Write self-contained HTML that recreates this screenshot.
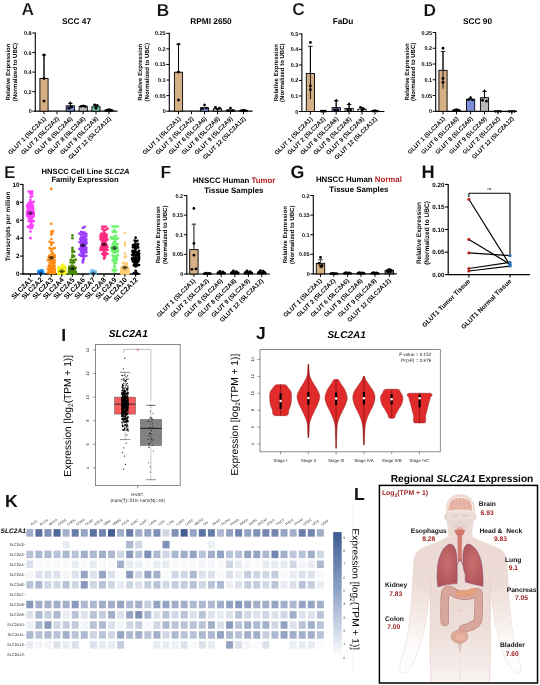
<!DOCTYPE html>
<html><head><meta charset="utf-8"><style>
html,body{margin:0;padding:0;background:#fff;}
svg{display:block;font-family:'Liberation Sans', Arial, sans-serif;text-rendering:geometricPrecision;}
</style></head><body>
<svg width="540" height="685" viewBox="0 0 540 685">
<rect width="540" height="685" fill="#fff"/>
<text x="21.50" y="15.30" font-size="17.3" font-weight="bold" font-style="normal" text-anchor="start" fill="#111" stroke="#fff" stroke-width="0.22">A</text>
<text x="76.50" y="24.00" font-size="8.3" font-weight="bold" font-style="normal" text-anchor="middle" fill="#000">SCC 47</text>
<line x1="35.30" y1="32.50" x2="35.30" y2="111.80" stroke="#000" stroke-width="1.1"/>
<line x1="32.30" y1="111.20" x2="35.30" y2="111.20" stroke="#000" stroke-width="1.0"/>
<text x="31.70" y="113.20" font-size="5.5" font-weight="bold" font-style="normal" text-anchor="end" fill="#000">0</text>
<line x1="32.30" y1="91.65" x2="35.30" y2="91.65" stroke="#000" stroke-width="1.0"/>
<text x="31.70" y="93.65" font-size="5.5" font-weight="bold" font-style="normal" text-anchor="end" fill="#000">0.2</text>
<line x1="32.30" y1="72.10" x2="35.30" y2="72.10" stroke="#000" stroke-width="1.0"/>
<text x="31.70" y="74.10" font-size="5.5" font-weight="bold" font-style="normal" text-anchor="end" fill="#000">0.4</text>
<line x1="32.30" y1="52.55" x2="35.30" y2="52.55" stroke="#000" stroke-width="1.0"/>
<text x="31.70" y="54.55" font-size="5.5" font-weight="bold" font-style="normal" text-anchor="end" fill="#000">0.6</text>
<line x1="32.30" y1="33.00" x2="35.30" y2="33.00" stroke="#000" stroke-width="1.0"/>
<text x="31.70" y="35.00" font-size="5.5" font-weight="bold" font-style="normal" text-anchor="end" fill="#000">0.8</text>
<line x1="34.80" y1="111.20" x2="117.50" y2="111.20" stroke="#000" stroke-width="1.2"/>
<text x="10.30" y="72.10" font-size="6.0" font-weight="bold" font-style="normal" text-anchor="middle" fill="#000" transform="rotate(-90 10.30 72.10)">Relative Expression</text>
<text x="16.80" y="72.10" font-size="6.0" font-weight="bold" font-style="normal" text-anchor="middle" fill="#000" transform="rotate(-90 16.80 72.10)">(Normalized to UBC)</text>
<line x1="44.00" y1="111.20" x2="44.00" y2="114.20" stroke="#000" stroke-width="1.0"/>
<text x="46.50" y="119.10" font-size="6.1" font-weight="bold" font-style="normal" text-anchor="end" fill="#000" transform="rotate(-45 46.50 119.10)">GLUT 1 (SLC2A1)</text>
<line x1="44.00" y1="54.99" x2="44.00" y2="78.45" stroke="#000" stroke-width="0.9"/>
<line x1="41.80" y1="54.99" x2="46.20" y2="54.99" stroke="#000" stroke-width="0.9"/>
<line x1="41.80" y1="78.45" x2="46.20" y2="78.45" stroke="#000" stroke-width="0.9"/>
<rect x="39.90" y="78.45" width="8.20" height="32.75" fill="#d5b085" stroke="#000" stroke-width="0.9"/>
<line x1="44.00" y1="54.99" x2="44.00" y2="78.45" stroke="#000" stroke-width="0.9"/>
<path d="M44.00 53.29 L45.70 54.99 L44.00 56.69 L42.30 54.99Z" fill="#000"/>
<path d="M44.00 76.75 L45.70 78.45 L44.00 80.15 L42.30 78.45Z" fill="#000"/>
<path d="M44.00 99.24 L45.70 100.94 L44.00 102.64 L42.30 100.94Z" fill="#000"/>
<line x1="57.00" y1="111.20" x2="57.00" y2="114.20" stroke="#000" stroke-width="1.0"/>
<text x="59.50" y="119.10" font-size="6.1" font-weight="bold" font-style="normal" text-anchor="end" fill="#000" transform="rotate(-45 59.50 119.10)">GLUT 2 (SLC2A2)</text>
<line x1="70.30" y1="111.20" x2="70.30" y2="114.20" stroke="#000" stroke-width="1.0"/>
<text x="72.80" y="119.10" font-size="6.1" font-weight="bold" font-style="normal" text-anchor="end" fill="#000" transform="rotate(-45 72.80 119.10)">GLUT 6 (SLC2A6)</text>
<line x1="70.30" y1="103.38" x2="70.30" y2="109.25" stroke="#000" stroke-width="0.9"/>
<line x1="68.10" y1="103.38" x2="72.50" y2="103.38" stroke="#000" stroke-width="0.9"/>
<line x1="68.10" y1="109.25" x2="72.50" y2="109.25" stroke="#000" stroke-width="0.9"/>
<rect x="66.20" y="105.82" width="8.20" height="5.38" fill="#7b8ed6" stroke="#000" stroke-width="0.9"/>
<line x1="70.30" y1="103.38" x2="70.30" y2="109.25" stroke="#000" stroke-width="0.9"/>
<path d="M70.30 101.09 L72.00 104.09 L68.60 104.09Z" fill="#000"/>
<circle cx="68.80" cy="108.27" r="1.40" fill="#000"/>
<circle cx="71.80" cy="106.80" r="1.40" fill="#000"/>
<line x1="83.20" y1="111.20" x2="83.20" y2="114.20" stroke="#000" stroke-width="1.0"/>
<text x="85.70" y="119.10" font-size="6.1" font-weight="bold" font-style="normal" text-anchor="end" fill="#000" transform="rotate(-45 85.70 119.10)">GLUT 8 (SLC2A8)</text>
<line x1="83.20" y1="105.53" x2="83.20" y2="107.29" stroke="#000" stroke-width="0.9"/>
<line x1="81.00" y1="105.53" x2="85.40" y2="105.53" stroke="#000" stroke-width="0.9"/>
<line x1="81.00" y1="107.29" x2="85.40" y2="107.29" stroke="#000" stroke-width="0.9"/>
<rect x="79.10" y="106.31" width="8.20" height="4.89" fill="#b8b8b8" stroke="#000" stroke-width="0.9"/>
<line x1="83.20" y1="105.53" x2="83.20" y2="107.29" stroke="#000" stroke-width="0.9"/>
<path d="M83.20 104.02 L84.90 107.02 L81.50 107.02Z" fill="#000"/>
<circle cx="81.20" cy="106.31" r="1.40" fill="#000"/>
<circle cx="85.20" cy="106.51" r="1.40" fill="#000"/>
<line x1="96.00" y1="111.20" x2="96.00" y2="114.20" stroke="#000" stroke-width="1.0"/>
<text x="98.50" y="119.10" font-size="6.1" font-weight="bold" font-style="normal" text-anchor="end" fill="#000" transform="rotate(-45 98.50 119.10)">GLUT 9 (SLC2A9)</text>
<line x1="96.00" y1="104.85" x2="96.00" y2="108.27" stroke="#000" stroke-width="0.9"/>
<line x1="93.80" y1="104.85" x2="98.20" y2="104.85" stroke="#000" stroke-width="0.9"/>
<line x1="93.80" y1="108.27" x2="98.20" y2="108.27" stroke="#000" stroke-width="0.9"/>
<rect x="91.90" y="106.80" width="8.20" height="4.40" fill="#74caa0" stroke="#000" stroke-width="0.9"/>
<line x1="96.00" y1="104.85" x2="96.00" y2="108.27" stroke="#000" stroke-width="0.9"/>
<circle cx="94.50" cy="104.85" r="1.40" fill="#000"/>
<path d="M97.50 103.54 L99.20 106.54 L95.80 106.54Z" fill="#000"/>
<circle cx="96.00" cy="108.27" r="1.40" fill="#000"/>
<line x1="109.00" y1="111.20" x2="109.00" y2="114.20" stroke="#000" stroke-width="1.0"/>
<text x="111.50" y="119.10" font-size="6.1" font-weight="bold" font-style="normal" text-anchor="end" fill="#000" transform="rotate(-45 111.50 119.10)">GLUT 12 (SLC2A12)</text>
<rect x="104.90" y="110.03" width="8.20" height="1.17" fill="#555" stroke="#000" stroke-width="0.9"/>
<circle cx="107.00" cy="110.22" r="1.40" fill="#000"/>
<circle cx="109.00" cy="109.73" r="1.40" fill="#000"/>
<circle cx="111.00" cy="110.03" r="1.40" fill="#000"/>
<text x="156.80" y="15.50" font-size="17.3" font-weight="bold" font-style="normal" text-anchor="start" fill="#111" stroke="#fff" stroke-width="0.22">B</text>
<text x="211.00" y="24.00" font-size="8.3" font-weight="bold" font-style="normal" text-anchor="middle" fill="#000">RPMI 2650</text>
<line x1="169.30" y1="32.80" x2="169.30" y2="111.80" stroke="#000" stroke-width="1.1"/>
<line x1="166.30" y1="111.20" x2="169.30" y2="111.20" stroke="#000" stroke-width="1.0"/>
<text x="165.70" y="113.20" font-size="5.5" font-weight="bold" font-style="normal" text-anchor="end" fill="#000">0</text>
<line x1="166.30" y1="95.62" x2="169.30" y2="95.62" stroke="#000" stroke-width="1.0"/>
<text x="165.70" y="97.62" font-size="5.5" font-weight="bold" font-style="normal" text-anchor="end" fill="#000">0.05</text>
<line x1="166.30" y1="80.04" x2="169.30" y2="80.04" stroke="#000" stroke-width="1.0"/>
<text x="165.70" y="82.04" font-size="5.5" font-weight="bold" font-style="normal" text-anchor="end" fill="#000">0.1</text>
<line x1="166.30" y1="64.46" x2="169.30" y2="64.46" stroke="#000" stroke-width="1.0"/>
<text x="165.70" y="66.46" font-size="5.5" font-weight="bold" font-style="normal" text-anchor="end" fill="#000">0.15</text>
<line x1="166.30" y1="48.88" x2="169.30" y2="48.88" stroke="#000" stroke-width="1.0"/>
<text x="165.70" y="50.88" font-size="5.5" font-weight="bold" font-style="normal" text-anchor="end" fill="#000">0.2</text>
<line x1="166.30" y1="33.30" x2="169.30" y2="33.30" stroke="#000" stroke-width="1.0"/>
<text x="165.70" y="35.30" font-size="5.5" font-weight="bold" font-style="normal" text-anchor="end" fill="#000">0.25</text>
<line x1="168.80" y1="111.20" x2="252.60" y2="111.20" stroke="#000" stroke-width="1.2"/>
<text x="142.00" y="72.25" font-size="6.0" font-weight="bold" font-style="normal" text-anchor="middle" fill="#000" transform="rotate(-90 142.00 72.25)">Relative Expression</text>
<text x="148.80" y="72.25" font-size="6.0" font-weight="bold" font-style="normal" text-anchor="middle" fill="#000" transform="rotate(-90 148.80 72.25)">(Normalized to UBC)</text>
<line x1="178.50" y1="111.20" x2="178.50" y2="114.20" stroke="#000" stroke-width="1.0"/>
<text x="181.00" y="119.10" font-size="6.1" font-weight="bold" font-style="normal" text-anchor="end" fill="#000" transform="rotate(-45 181.00 119.10)">GLUT 1 (SLC2A1)</text>
<line x1="178.50" y1="44.21" x2="178.50" y2="72.25" stroke="#000" stroke-width="0.9"/>
<line x1="176.30" y1="44.21" x2="180.70" y2="44.21" stroke="#000" stroke-width="0.9"/>
<line x1="176.30" y1="72.25" x2="180.70" y2="72.25" stroke="#000" stroke-width="0.9"/>
<rect x="174.40" y="72.25" width="8.20" height="38.95" fill="#d5b085" stroke="#000" stroke-width="0.9"/>
<line x1="178.50" y1="44.21" x2="178.50" y2="72.25" stroke="#000" stroke-width="0.9"/>
<path d="M178.50 42.51 L180.20 44.21 L178.50 45.91 L176.80 44.21Z" fill="#000"/>
<path d="M178.50 70.24 L180.20 71.94 L178.50 73.64 L176.80 71.94Z" fill="#000"/>
<path d="M178.50 98.28 L180.20 99.98 L178.50 101.68 L176.80 99.98Z" fill="#000"/>
<line x1="191.50" y1="111.20" x2="191.50" y2="114.20" stroke="#000" stroke-width="1.0"/>
<text x="194.00" y="119.10" font-size="6.1" font-weight="bold" font-style="normal" text-anchor="end" fill="#000" transform="rotate(-45 194.00 119.10)">GLUT 2 (SLC2A2)</text>
<line x1="204.50" y1="111.20" x2="204.50" y2="114.20" stroke="#000" stroke-width="1.0"/>
<text x="207.00" y="119.10" font-size="6.1" font-weight="bold" font-style="normal" text-anchor="end" fill="#000" transform="rotate(-45 207.00 119.10)">GLUT 6 (SLC2A6)</text>
<rect x="200.40" y="107.77" width="8.20" height="3.43" fill="#7b8ed6" stroke="#000" stroke-width="0.9"/>
<path d="M204.50 103.27 L206.20 104.97 L204.50 106.67 L202.80 104.97Z" fill="#000"/>
<circle cx="202.50" cy="108.71" r="1.40" fill="#000"/>
<circle cx="206.50" cy="108.08" r="1.40" fill="#000"/>
<line x1="217.50" y1="111.20" x2="217.50" y2="114.20" stroke="#000" stroke-width="1.0"/>
<text x="220.00" y="119.10" font-size="6.1" font-weight="bold" font-style="normal" text-anchor="end" fill="#000" transform="rotate(-45 220.00 119.10)">GLUT 8 (SLC2A8)</text>
<rect x="213.40" y="108.71" width="8.20" height="2.49" fill="#b8b8b8" stroke="#000" stroke-width="0.9"/>
<circle cx="215.50" cy="107.46" r="1.40" fill="#000"/>
<circle cx="217.50" cy="109.33" r="1.40" fill="#000"/>
<circle cx="219.50" cy="108.08" r="1.40" fill="#000"/>
<line x1="230.50" y1="111.20" x2="230.50" y2="114.20" stroke="#000" stroke-width="1.0"/>
<text x="233.00" y="119.10" font-size="6.1" font-weight="bold" font-style="normal" text-anchor="end" fill="#000" transform="rotate(-45 233.00 119.10)">GLUT 9 (SLC2A9)</text>
<rect x="226.40" y="109.95" width="8.20" height="1.25" fill="#74caa0" stroke="#000" stroke-width="0.9"/>
<circle cx="230.50" cy="108.08" r="1.40" fill="#000"/>
<circle cx="228.50" cy="110.58" r="1.40" fill="#000"/>
<circle cx="232.50" cy="110.58" r="1.40" fill="#000"/>
<line x1="243.50" y1="111.20" x2="243.50" y2="114.20" stroke="#000" stroke-width="1.0"/>
<text x="246.00" y="119.10" font-size="6.1" font-weight="bold" font-style="normal" text-anchor="end" fill="#000" transform="rotate(-45 246.00 119.10)">GLUT 12 (SLC2A12)</text>
<rect x="239.40" y="110.58" width="8.20" height="0.62" fill="#555" stroke="#000" stroke-width="0.9"/>
<circle cx="241.50" cy="110.58" r="1.40" fill="#000"/>
<circle cx="243.50" cy="110.27" r="1.40" fill="#000"/>
<circle cx="245.50" cy="110.58" r="1.40" fill="#000"/>
<text x="292.20" y="15.40" font-size="17.3" font-weight="bold" font-style="normal" text-anchor="start" fill="#111" stroke="#fff" stroke-width="0.22">C</text>
<text x="343.00" y="24.00" font-size="8.3" font-weight="bold" font-style="normal" text-anchor="middle" fill="#000">FaDu</text>
<line x1="301.90" y1="33.40" x2="301.90" y2="112.10" stroke="#000" stroke-width="1.1"/>
<line x1="298.90" y1="111.50" x2="301.90" y2="111.50" stroke="#000" stroke-width="1.0"/>
<text x="298.30" y="113.50" font-size="5.5" font-weight="bold" font-style="normal" text-anchor="end" fill="#000">0</text>
<line x1="298.90" y1="95.98" x2="301.90" y2="95.98" stroke="#000" stroke-width="1.0"/>
<text x="298.30" y="97.98" font-size="5.5" font-weight="bold" font-style="normal" text-anchor="end" fill="#000">0.1</text>
<line x1="298.90" y1="80.46" x2="301.90" y2="80.46" stroke="#000" stroke-width="1.0"/>
<text x="298.30" y="82.46" font-size="5.5" font-weight="bold" font-style="normal" text-anchor="end" fill="#000">0.2</text>
<line x1="298.90" y1="64.94" x2="301.90" y2="64.94" stroke="#000" stroke-width="1.0"/>
<text x="298.30" y="66.94" font-size="5.5" font-weight="bold" font-style="normal" text-anchor="end" fill="#000">0.3</text>
<line x1="298.90" y1="49.42" x2="301.90" y2="49.42" stroke="#000" stroke-width="1.0"/>
<text x="298.30" y="51.42" font-size="5.5" font-weight="bold" font-style="normal" text-anchor="end" fill="#000">0.4</text>
<line x1="298.90" y1="33.90" x2="301.90" y2="33.90" stroke="#000" stroke-width="1.0"/>
<text x="298.30" y="35.90" font-size="5.5" font-weight="bold" font-style="normal" text-anchor="end" fill="#000">0.5</text>
<line x1="301.40" y1="111.50" x2="384.40" y2="111.50" stroke="#000" stroke-width="1.2"/>
<text x="278.20" y="72.70" font-size="6.0" font-weight="bold" font-style="normal" text-anchor="middle" fill="#000" transform="rotate(-90 278.20 72.70)">Relative Expression</text>
<text x="284.30" y="72.70" font-size="6.0" font-weight="bold" font-style="normal" text-anchor="middle" fill="#000" transform="rotate(-90 284.30 72.70)">(Normalized to UBC)</text>
<line x1="310.40" y1="111.50" x2="310.40" y2="114.50" stroke="#000" stroke-width="1.0"/>
<text x="312.90" y="119.40" font-size="6.1" font-weight="bold" font-style="normal" text-anchor="end" fill="#000" transform="rotate(-45 312.90 119.40)">GLUT 1 (SLC2A1)</text>
<line x1="310.40" y1="46.32" x2="310.40" y2="99.08" stroke="#000" stroke-width="0.9"/>
<line x1="308.20" y1="46.32" x2="312.60" y2="46.32" stroke="#000" stroke-width="0.9"/>
<line x1="308.20" y1="99.08" x2="312.60" y2="99.08" stroke="#000" stroke-width="0.9"/>
<rect x="306.30" y="73.48" width="8.20" height="38.02" fill="#d5b085" stroke="#000" stroke-width="0.9"/>
<line x1="310.40" y1="46.32" x2="310.40" y2="99.08" stroke="#000" stroke-width="0.9"/>
<circle cx="310.40" cy="42.44" r="1.40" fill="#000"/>
<circle cx="310.40" cy="85.89" r="1.40" fill="#000"/>
<circle cx="310.40" cy="89.77" r="1.40" fill="#000"/>
<line x1="323.30" y1="111.50" x2="323.30" y2="114.50" stroke="#000" stroke-width="1.0"/>
<text x="325.80" y="119.40" font-size="6.1" font-weight="bold" font-style="normal" text-anchor="end" fill="#000" transform="rotate(-45 325.80 119.40)">GLUT 2 (SLC2A2)</text>
<circle cx="321.30" cy="111.19" r="1.40" fill="#000"/>
<circle cx="323.30" cy="111.19" r="1.40" fill="#000"/>
<circle cx="325.30" cy="111.19" r="1.40" fill="#000"/>
<line x1="336.20" y1="111.50" x2="336.20" y2="114.50" stroke="#000" stroke-width="1.0"/>
<text x="338.70" y="119.40" font-size="6.1" font-weight="bold" font-style="normal" text-anchor="end" fill="#000" transform="rotate(-45 338.70 119.40)">GLUT 6 (SLC2A6)</text>
<line x1="336.20" y1="100.64" x2="336.20" y2="111.50" stroke="#000" stroke-width="0.9"/>
<line x1="334.00" y1="100.64" x2="338.40" y2="100.64" stroke="#000" stroke-width="0.9"/>
<rect x="332.10" y="107.62" width="8.20" height="3.88" fill="#7b8ed6" stroke="#000" stroke-width="0.9"/>
<line x1="336.20" y1="100.64" x2="336.20" y2="111.50" stroke="#000" stroke-width="0.9"/>
<path d="M336.20 98.53 L337.90 101.53 L334.50 101.53Z" fill="#000"/>
<circle cx="334.70" cy="109.95" r="1.40" fill="#000"/>
<circle cx="337.70" cy="109.95" r="1.40" fill="#000"/>
<line x1="349.10" y1="111.50" x2="349.10" y2="114.50" stroke="#000" stroke-width="1.0"/>
<text x="351.60" y="119.40" font-size="6.1" font-weight="bold" font-style="normal" text-anchor="end" fill="#000" transform="rotate(-45 351.60 119.40)">GLUT 8 (SLC2A8)</text>
<line x1="349.10" y1="104.52" x2="349.10" y2="111.50" stroke="#000" stroke-width="0.9"/>
<line x1="346.90" y1="104.52" x2="351.30" y2="104.52" stroke="#000" stroke-width="0.9"/>
<rect x="345.00" y="108.40" width="8.20" height="3.10" fill="#fff" stroke="#000" stroke-width="0.9"/>
<line x1="349.10" y1="104.52" x2="349.10" y2="111.50" stroke="#000" stroke-width="0.9"/>
<path d="M349.10 101.94 L350.80 104.94 L347.40 104.94Z" fill="#000"/>
<circle cx="347.60" cy="109.95" r="1.40" fill="#000"/>
<circle cx="350.60" cy="109.95" r="1.40" fill="#000"/>
<line x1="362.00" y1="111.50" x2="362.00" y2="114.50" stroke="#000" stroke-width="1.0"/>
<text x="364.50" y="119.40" font-size="6.1" font-weight="bold" font-style="normal" text-anchor="end" fill="#000" transform="rotate(-45 364.50 119.40)">GLUT 9 (SLC2A9)</text>
<line x1="362.00" y1="107.62" x2="362.00" y2="111.50" stroke="#000" stroke-width="0.9"/>
<line x1="359.80" y1="107.62" x2="364.20" y2="107.62" stroke="#000" stroke-width="0.9"/>
<rect x="357.90" y="109.17" width="8.20" height="2.33" fill="#fff" stroke="#000" stroke-width="0.9"/>
<line x1="362.00" y1="107.62" x2="362.00" y2="111.50" stroke="#000" stroke-width="0.9"/>
<circle cx="360.50" cy="107.31" r="1.40" fill="#000"/>
<circle cx="363.50" cy="109.17" r="1.40" fill="#000"/>
<circle cx="362.00" cy="110.72" r="1.40" fill="#000"/>
<line x1="375.00" y1="111.50" x2="375.00" y2="114.50" stroke="#000" stroke-width="1.0"/>
<text x="377.50" y="119.40" font-size="6.1" font-weight="bold" font-style="normal" text-anchor="end" fill="#000" transform="rotate(-45 377.50 119.40)">GLUT 12 (SLC2A12)</text>
<rect x="370.90" y="111.03" width="8.20" height="0.47" fill="#555" stroke="#000" stroke-width="0.9"/>
<circle cx="373.00" cy="111.03" r="1.40" fill="#000"/>
<circle cx="375.00" cy="110.72" r="1.40" fill="#000"/>
<circle cx="377.00" cy="111.03" r="1.40" fill="#000"/>
<text x="423.50" y="15.50" font-size="17.3" font-weight="bold" font-style="normal" text-anchor="start" fill="#111" stroke="#fff" stroke-width="0.22">D</text>
<text x="477.50" y="24.00" font-size="8.3" font-weight="bold" font-style="normal" text-anchor="middle" fill="#000">SCC 90</text>
<line x1="435.70" y1="32.00" x2="435.70" y2="111.90" stroke="#000" stroke-width="1.1"/>
<line x1="432.70" y1="111.30" x2="435.70" y2="111.30" stroke="#000" stroke-width="1.0"/>
<text x="432.10" y="113.30" font-size="5.5" font-weight="bold" font-style="normal" text-anchor="end" fill="#000">0</text>
<line x1="432.70" y1="95.54" x2="435.70" y2="95.54" stroke="#000" stroke-width="1.0"/>
<text x="432.10" y="97.54" font-size="5.5" font-weight="bold" font-style="normal" text-anchor="end" fill="#000">0.05</text>
<line x1="432.70" y1="79.78" x2="435.70" y2="79.78" stroke="#000" stroke-width="1.0"/>
<text x="432.10" y="81.78" font-size="5.5" font-weight="bold" font-style="normal" text-anchor="end" fill="#000">0.1</text>
<line x1="432.70" y1="64.02" x2="435.70" y2="64.02" stroke="#000" stroke-width="1.0"/>
<text x="432.10" y="66.02" font-size="5.5" font-weight="bold" font-style="normal" text-anchor="end" fill="#000">0.15</text>
<line x1="432.70" y1="48.26" x2="435.70" y2="48.26" stroke="#000" stroke-width="1.0"/>
<text x="432.10" y="50.26" font-size="5.5" font-weight="bold" font-style="normal" text-anchor="end" fill="#000">0.2</text>
<line x1="432.70" y1="32.50" x2="435.70" y2="32.50" stroke="#000" stroke-width="1.0"/>
<text x="432.10" y="34.50" font-size="5.5" font-weight="bold" font-style="normal" text-anchor="end" fill="#000">0.25</text>
<line x1="435.20" y1="111.30" x2="517.00" y2="111.30" stroke="#000" stroke-width="1.2"/>
<text x="408.70" y="71.90" font-size="6.0" font-weight="bold" font-style="normal" text-anchor="middle" fill="#000" transform="rotate(-90 408.70 71.90)">Relative Expression</text>
<text x="415.50" y="71.90" font-size="6.0" font-weight="bold" font-style="normal" text-anchor="middle" fill="#000" transform="rotate(-90 415.50 71.90)">(Normalized to UBC)</text>
<line x1="443.00" y1="111.30" x2="443.00" y2="114.30" stroke="#000" stroke-width="1.0"/>
<text x="445.50" y="119.20" font-size="6.0" font-weight="bold" font-style="normal" text-anchor="end" fill="#000" transform="rotate(-45 445.50 119.20)">GLUT 1 (SLC2A1)</text>
<line x1="443.00" y1="51.41" x2="443.00" y2="88.61" stroke="#000" stroke-width="0.9"/>
<line x1="440.80" y1="51.41" x2="445.20" y2="51.41" stroke="#000" stroke-width="0.9"/>
<line x1="440.80" y1="88.61" x2="445.20" y2="88.61" stroke="#000" stroke-width="0.9"/>
<rect x="438.90" y="70.32" width="8.20" height="40.98" fill="#d5b085" stroke="#000" stroke-width="0.9"/>
<line x1="443.00" y1="51.41" x2="443.00" y2="88.61" stroke="#000" stroke-width="0.9"/>
<circle cx="443.00" cy="48.26" r="1.40" fill="#000"/>
<circle cx="443.00" cy="78.52" r="1.40" fill="#000"/>
<circle cx="443.00" cy="82.30" r="1.40" fill="#000"/>
<line x1="456.50" y1="111.30" x2="456.50" y2="114.30" stroke="#000" stroke-width="1.0"/>
<text x="459.00" y="119.20" font-size="6.0" font-weight="bold" font-style="normal" text-anchor="end" fill="#000" transform="rotate(-45 459.00 119.20)">GLUT 6 (SLC2A6)</text>
<rect x="452.40" y="110.35" width="8.20" height="0.95" fill="#555" stroke="#000" stroke-width="0.9"/>
<circle cx="454.50" cy="110.04" r="1.40" fill="#000"/>
<circle cx="456.50" cy="109.72" r="1.40" fill="#000"/>
<circle cx="458.50" cy="110.04" r="1.40" fill="#000"/>
<line x1="470.60" y1="111.30" x2="470.60" y2="114.30" stroke="#000" stroke-width="1.0"/>
<text x="473.10" y="119.20" font-size="6.0" font-weight="bold" font-style="normal" text-anchor="end" fill="#000" transform="rotate(-45 473.10 119.20)">GLUT 8 (SLC2A8)</text>
<rect x="466.50" y="99.32" width="8.20" height="11.98" fill="#7b8ed6" stroke="#000" stroke-width="0.9"/>
<circle cx="470.60" cy="97.75" r="1.40" fill="#000"/>
<circle cx="468.60" cy="99.64" r="1.40" fill="#000"/>
<circle cx="472.60" cy="99.95" r="1.40" fill="#000"/>
<line x1="484.50" y1="111.30" x2="484.50" y2="114.30" stroke="#000" stroke-width="1.0"/>
<text x="487.00" y="119.20" font-size="6.0" font-weight="bold" font-style="normal" text-anchor="end" fill="#000" transform="rotate(-45 487.00 119.20)">GLUT 9 (SLC2A9)</text>
<line x1="484.50" y1="91.44" x2="484.50" y2="97.75" stroke="#000" stroke-width="0.9"/>
<line x1="482.30" y1="91.44" x2="486.70" y2="91.44" stroke="#000" stroke-width="0.9"/>
<line x1="482.30" y1="97.75" x2="486.70" y2="97.75" stroke="#000" stroke-width="0.9"/>
<rect x="480.40" y="97.75" width="8.20" height="13.55" fill="#b8b8b8" stroke="#000" stroke-width="0.9"/>
<line x1="484.50" y1="91.44" x2="484.50" y2="97.75" stroke="#000" stroke-width="0.9"/>
<path d="M484.50 89.01 L486.20 92.01 L482.80 92.01Z" fill="#000"/>
<circle cx="482.50" cy="100.27" r="1.40" fill="#000"/>
<circle cx="486.50" cy="101.21" r="1.40" fill="#000"/>
<line x1="498.00" y1="111.30" x2="498.00" y2="114.30" stroke="#000" stroke-width="1.0"/>
<text x="500.50" y="119.20" font-size="6.0" font-weight="bold" font-style="normal" text-anchor="end" fill="#000" transform="rotate(-45 500.50 119.20)">GLUT 2 (SLC2A2)</text>
<circle cx="495.50" cy="111.30" r="1.40" fill="#000"/>
<circle cx="498.00" cy="111.30" r="1.40" fill="#000"/>
<circle cx="500.50" cy="111.30" r="1.40" fill="#000"/>
<line x1="511.80" y1="111.30" x2="511.80" y2="114.30" stroke="#000" stroke-width="1.0"/>
<text x="514.30" y="119.20" font-size="6.0" font-weight="bold" font-style="normal" text-anchor="end" fill="#000" transform="rotate(-45 514.30 119.20)">GLUT 12 (SLC2A12)</text>
<circle cx="509.30" cy="111.30" r="1.40" fill="#000"/>
<circle cx="511.80" cy="111.30" r="1.40" fill="#000"/>
<circle cx="514.30" cy="111.30" r="1.40" fill="#000"/>
<text x="4.00" y="178.20" font-size="17.3" font-weight="bold" font-style="normal" text-anchor="start" fill="#111" stroke="#fff" stroke-width="0.22">E</text>
<text x="85.5" y="173.6" font-size="7.6" font-weight="bold" text-anchor="middle">HNSCC Cell Line <tspan font-style="italic">SLC2A</tspan></text>
<text x="85.00" y="182.40" font-size="7.6" font-weight="bold" font-style="normal" text-anchor="middle" fill="#000">Family Expression</text>
<line x1="23.00" y1="183.90" x2="23.00" y2="274.60" stroke="#000" stroke-width="1.2"/>
<line x1="20.00" y1="274.00" x2="23.00" y2="274.00" stroke="#000" stroke-width="1.1"/>
<text x="19.40" y="276.30" font-size="6.3" font-weight="bold" font-style="normal" text-anchor="end" fill="#000">0</text>
<line x1="20.00" y1="256.08" x2="23.00" y2="256.08" stroke="#000" stroke-width="1.1"/>
<text x="19.40" y="258.38" font-size="6.3" font-weight="bold" font-style="normal" text-anchor="end" fill="#000">2</text>
<line x1="20.00" y1="238.16" x2="23.00" y2="238.16" stroke="#000" stroke-width="1.1"/>
<text x="19.40" y="240.46" font-size="6.3" font-weight="bold" font-style="normal" text-anchor="end" fill="#000">4</text>
<line x1="20.00" y1="220.24" x2="23.00" y2="220.24" stroke="#000" stroke-width="1.1"/>
<text x="19.40" y="222.54" font-size="6.3" font-weight="bold" font-style="normal" text-anchor="end" fill="#000">6</text>
<line x1="20.00" y1="202.32" x2="23.00" y2="202.32" stroke="#000" stroke-width="1.1"/>
<text x="19.40" y="204.62" font-size="6.3" font-weight="bold" font-style="normal" text-anchor="end" fill="#000">8</text>
<line x1="20.00" y1="184.40" x2="23.00" y2="184.40" stroke="#000" stroke-width="1.1"/>
<text x="19.40" y="186.70" font-size="6.3" font-weight="bold" font-style="normal" text-anchor="end" fill="#000">10</text>
<line x1="22.50" y1="274.00" x2="140.50" y2="274.00" stroke="#000" stroke-width="1.3"/>
<text x="9.80" y="226.40" font-size="6.5" font-weight="bold" font-style="normal" text-anchor="middle" fill="#000" transform="rotate(-90 9.80 226.40)">Transcripts per million</text>
<circle cx="30.40" cy="238.16" r="1.35" fill="#ff3dff"/>
<circle cx="30.40" cy="231.51" r="1.35" fill="#ff3dff"/>
<circle cx="30.40" cy="228.26" r="1.35" fill="#ff3dff"/>
<circle cx="32.10" cy="227.70" r="1.35" fill="#ff3dff"/>
<circle cx="29.55" cy="226.77" r="1.35" fill="#ff3dff"/>
<circle cx="27.85" cy="226.71" r="1.35" fill="#ff3dff"/>
<circle cx="31.25" cy="226.39" r="1.35" fill="#ff3dff"/>
<circle cx="32.95" cy="225.60" r="1.35" fill="#ff3dff"/>
<circle cx="30.40" cy="224.80" r="1.35" fill="#ff3dff"/>
<circle cx="31.25" cy="223.44" r="1.35" fill="#ff3dff"/>
<circle cx="30.40" cy="221.44" r="1.35" fill="#ff3dff"/>
<circle cx="32.10" cy="221.16" r="1.35" fill="#ff3dff"/>
<circle cx="28.70" cy="221.11" r="1.35" fill="#ff3dff"/>
<circle cx="33.80" cy="221.09" r="1.35" fill="#ff3dff"/>
<circle cx="30.40" cy="219.28" r="1.35" fill="#ff3dff"/>
<circle cx="32.10" cy="218.36" r="1.35" fill="#ff3dff"/>
<circle cx="28.70" cy="218.28" r="1.35" fill="#ff3dff"/>
<circle cx="30.40" cy="216.96" r="1.35" fill="#ff3dff"/>
<circle cx="32.10" cy="216.63" r="1.35" fill="#ff3dff"/>
<circle cx="28.70" cy="216.05" r="1.35" fill="#ff3dff"/>
<circle cx="33.80" cy="216.04" r="1.35" fill="#ff3dff"/>
<circle cx="27.00" cy="215.90" r="1.35" fill="#ff3dff"/>
<circle cx="30.40" cy="214.84" r="1.35" fill="#ff3dff"/>
<circle cx="32.10" cy="214.35" r="1.35" fill="#ff3dff"/>
<circle cx="28.70" cy="214.12" r="1.35" fill="#ff3dff"/>
<circle cx="33.80" cy="214.03" r="1.35" fill="#ff3dff"/>
<circle cx="27.00" cy="213.75" r="1.35" fill="#ff3dff"/>
<circle cx="27.65" cy="213.56" r="1.35" fill="#ff3dff"/>
<circle cx="27.53" cy="213.54" r="1.35" fill="#ff3dff"/>
<circle cx="30.40" cy="213.05" r="1.35" fill="#ff3dff"/>
<circle cx="32.54" cy="212.94" r="1.35" fill="#ff3dff"/>
<circle cx="28.70" cy="212.09" r="1.35" fill="#ff3dff"/>
<circle cx="33.80" cy="212.01" r="1.35" fill="#ff3dff"/>
<circle cx="31.25" cy="211.62" r="1.35" fill="#ff3dff"/>
<circle cx="27.00" cy="211.57" r="1.35" fill="#ff3dff"/>
<circle cx="30.83" cy="210.64" r="1.35" fill="#ff3dff"/>
<circle cx="28.17" cy="210.43" r="1.35" fill="#ff3dff"/>
<circle cx="32.95" cy="210.26" r="1.35" fill="#ff3dff"/>
<circle cx="29.55" cy="209.26" r="1.35" fill="#ff3dff"/>
<circle cx="31.25" cy="208.25" r="1.35" fill="#ff3dff"/>
<circle cx="32.95" cy="208.19" r="1.35" fill="#ff3dff"/>
<circle cx="27.85" cy="208.15" r="1.35" fill="#ff3dff"/>
<circle cx="29.55" cy="207.26" r="1.35" fill="#ff3dff"/>
<circle cx="31.25" cy="206.64" r="1.35" fill="#ff3dff"/>
<circle cx="32.95" cy="206.25" r="1.35" fill="#ff3dff"/>
<circle cx="28.70" cy="206.00" r="1.35" fill="#ff3dff"/>
<circle cx="27.00" cy="205.94" r="1.35" fill="#ff3dff"/>
<circle cx="27.74" cy="205.46" r="1.35" fill="#ff3dff"/>
<circle cx="27.64" cy="205.55" r="1.35" fill="#ff3dff"/>
<circle cx="30.40" cy="205.16" r="1.35" fill="#ff3dff"/>
<circle cx="32.10" cy="204.39" r="1.35" fill="#ff3dff"/>
<circle cx="30.40" cy="203.26" r="1.35" fill="#ff3dff"/>
<circle cx="28.70" cy="202.95" r="1.35" fill="#ff3dff"/>
<circle cx="32.10" cy="202.78" r="1.35" fill="#ff3dff"/>
<circle cx="33.80" cy="201.77" r="1.35" fill="#ff3dff"/>
<circle cx="30.40" cy="201.76" r="1.35" fill="#ff3dff"/>
<circle cx="30.40" cy="200.05" r="1.35" fill="#ff3dff"/>
<circle cx="30.40" cy="197.27" r="1.35" fill="#ff3dff"/>
<circle cx="32.10" cy="196.15" r="1.35" fill="#ff3dff"/>
<circle cx="30.40" cy="193.79" r="1.35" fill="#ff3dff"/>
<circle cx="32.10" cy="193.36" r="1.35" fill="#ff3dff"/>
<circle cx="30.40" cy="191.57" r="1.35" fill="#ff3dff"/>
<circle cx="32.10" cy="191.57" r="1.35" fill="#ff3dff"/>
<circle cx="28.70" cy="191.57" r="1.35" fill="#ff3dff"/>
<line x1="27.40" y1="213.07" x2="33.40" y2="213.07" stroke="#000" stroke-width="0.8"/>
<line x1="28.60" y1="211.77" x2="32.20" y2="211.77" stroke="#000" stroke-width="0.55"/>
<line x1="28.60" y1="214.37" x2="32.20" y2="214.37" stroke="#000" stroke-width="0.55"/>
<line x1="30.40" y1="211.77" x2="30.40" y2="214.37" stroke="#000" stroke-width="0.55"/>
<line x1="30.40" y1="274.00" x2="30.40" y2="276.80" stroke="#000" stroke-width="1.1"/>
<text x="32.90" y="280.20" font-size="7.0" font-weight="bold" font-style="normal" text-anchor="end" fill="#000" transform="rotate(-46 32.90 280.20)">SLC2A1</text>
<circle cx="40.70" cy="273.70" r="1.35" fill="#1e90ff"/>
<circle cx="42.40" cy="273.70" r="1.35" fill="#1e90ff"/>
<circle cx="39.00" cy="273.70" r="1.35" fill="#1e90ff"/>
<circle cx="39.15" cy="273.67" r="1.35" fill="#1e90ff"/>
<circle cx="41.05" cy="273.70" r="1.35" fill="#1e90ff"/>
<circle cx="40.04" cy="273.31" r="1.35" fill="#1e90ff"/>
<circle cx="43.01" cy="273.45" r="1.35" fill="#1e90ff"/>
<circle cx="41.62" cy="273.48" r="1.35" fill="#1e90ff"/>
<circle cx="38.97" cy="273.70" r="1.35" fill="#1e90ff"/>
<circle cx="38.39" cy="273.22" r="1.35" fill="#1e90ff"/>
<circle cx="41.66" cy="273.18" r="1.35" fill="#1e90ff"/>
<circle cx="38.40" cy="273.32" r="1.35" fill="#1e90ff"/>
<circle cx="40.61" cy="273.24" r="1.35" fill="#1e90ff"/>
<circle cx="39.83" cy="273.07" r="1.35" fill="#1e90ff"/>
<circle cx="38.66" cy="273.28" r="1.35" fill="#1e90ff"/>
<circle cx="41.84" cy="273.05" r="1.35" fill="#1e90ff"/>
<circle cx="41.84" cy="273.14" r="1.35" fill="#1e90ff"/>
<circle cx="42.11" cy="273.00" r="1.35" fill="#1e90ff"/>
<circle cx="39.99" cy="273.14" r="1.35" fill="#1e90ff"/>
<circle cx="42.62" cy="272.97" r="1.35" fill="#1e90ff"/>
<circle cx="40.30" cy="272.97" r="1.35" fill="#1e90ff"/>
<circle cx="42.44" cy="273.02" r="1.35" fill="#1e90ff"/>
<circle cx="41.30" cy="273.06" r="1.35" fill="#1e90ff"/>
<circle cx="41.10" cy="272.92" r="1.35" fill="#1e90ff"/>
<circle cx="38.68" cy="272.83" r="1.35" fill="#1e90ff"/>
<circle cx="43.07" cy="272.65" r="1.35" fill="#1e90ff"/>
<circle cx="41.80" cy="272.94" r="1.35" fill="#1e90ff"/>
<circle cx="41.83" cy="272.78" r="1.35" fill="#1e90ff"/>
<circle cx="40.41" cy="272.62" r="1.35" fill="#1e90ff"/>
<circle cx="38.70" cy="272.63" r="1.35" fill="#1e90ff"/>
<circle cx="38.44" cy="272.71" r="1.35" fill="#1e90ff"/>
<circle cx="40.61" cy="272.91" r="1.35" fill="#1e90ff"/>
<circle cx="41.65" cy="272.74" r="1.35" fill="#1e90ff"/>
<circle cx="41.25" cy="272.48" r="1.35" fill="#1e90ff"/>
<circle cx="39.53" cy="272.98" r="1.35" fill="#1e90ff"/>
<circle cx="39.74" cy="272.57" r="1.35" fill="#1e90ff"/>
<circle cx="39.27" cy="272.86" r="1.35" fill="#1e90ff"/>
<circle cx="42.65" cy="272.55" r="1.35" fill="#1e90ff"/>
<circle cx="40.42" cy="272.40" r="1.35" fill="#1e90ff"/>
<circle cx="39.87" cy="272.52" r="1.35" fill="#1e90ff"/>
<circle cx="39.25" cy="272.57" r="1.35" fill="#1e90ff"/>
<circle cx="42.17" cy="272.26" r="1.35" fill="#1e90ff"/>
<circle cx="42.53" cy="272.55" r="1.35" fill="#1e90ff"/>
<circle cx="41.10" cy="272.58" r="1.35" fill="#1e90ff"/>
<circle cx="38.95" cy="272.40" r="1.35" fill="#1e90ff"/>
<circle cx="42.32" cy="272.14" r="1.35" fill="#1e90ff"/>
<circle cx="41.71" cy="272.08" r="1.35" fill="#1e90ff"/>
<circle cx="39.63" cy="272.40" r="1.35" fill="#1e90ff"/>
<circle cx="40.46" cy="272.34" r="1.35" fill="#1e90ff"/>
<circle cx="39.33" cy="272.23" r="1.35" fill="#1e90ff"/>
<circle cx="41.30" cy="271.88" r="1.35" fill="#1e90ff"/>
<circle cx="39.81" cy="271.58" r="1.35" fill="#1e90ff"/>
<circle cx="43.01" cy="271.65" r="1.35" fill="#1e90ff"/>
<circle cx="38.66" cy="271.89" r="1.35" fill="#1e90ff"/>
<circle cx="42.49" cy="271.59" r="1.35" fill="#1e90ff"/>
<circle cx="41.70" cy="271.27" r="1.35" fill="#1e90ff"/>
<circle cx="39.78" cy="271.12" r="1.35" fill="#1e90ff"/>
<circle cx="38.39" cy="271.47" r="1.35" fill="#1e90ff"/>
<circle cx="40.48" cy="271.48" r="1.35" fill="#1e90ff"/>
<circle cx="42.28" cy="271.22" r="1.35" fill="#1e90ff"/>
<circle cx="38.98" cy="270.86" r="1.35" fill="#1e90ff"/>
<circle cx="41.32" cy="270.55" r="1.35" fill="#1e90ff"/>
<circle cx="41.32" cy="270.34" r="1.35" fill="#1e90ff"/>
<circle cx="42.18" cy="270.08" r="1.35" fill="#1e90ff"/>
<line x1="37.70" y1="273.28" x2="43.70" y2="273.28" stroke="#000" stroke-width="0.8"/>
<line x1="38.90" y1="271.98" x2="42.50" y2="271.98" stroke="#000" stroke-width="0.55"/>
<line x1="38.90" y1="274.58" x2="42.50" y2="274.58" stroke="#000" stroke-width="0.55"/>
<line x1="40.70" y1="271.98" x2="40.70" y2="274.58" stroke="#000" stroke-width="0.55"/>
<line x1="40.70" y1="274.00" x2="40.70" y2="276.80" stroke="#000" stroke-width="1.1"/>
<text x="43.20" y="280.20" font-size="7.0" font-weight="bold" font-style="normal" text-anchor="end" fill="#000" transform="rotate(-46 43.20 280.20)">SLC2A2</text>
<circle cx="51.30" cy="273.69" r="1.35" fill="#ff8a14"/>
<circle cx="53.00" cy="273.29" r="1.35" fill="#ff8a14"/>
<circle cx="49.60" cy="273.07" r="1.35" fill="#ff8a14"/>
<circle cx="54.70" cy="273.02" r="1.35" fill="#ff8a14"/>
<circle cx="47.90" cy="272.50" r="1.35" fill="#ff8a14"/>
<circle cx="54.51" cy="272.08" r="1.35" fill="#ff8a14"/>
<circle cx="54.53" cy="272.22" r="1.35" fill="#ff8a14"/>
<circle cx="51.30" cy="271.96" r="1.35" fill="#ff8a14"/>
<circle cx="49.29" cy="271.56" r="1.35" fill="#ff8a14"/>
<circle cx="53.00" cy="271.53" r="1.35" fill="#ff8a14"/>
<circle cx="49.79" cy="270.98" r="1.35" fill="#ff8a14"/>
<circle cx="54.70" cy="270.58" r="1.35" fill="#ff8a14"/>
<circle cx="51.30" cy="269.85" r="1.35" fill="#ff8a14"/>
<circle cx="53.00" cy="269.61" r="1.35" fill="#ff8a14"/>
<circle cx="49.60" cy="269.44" r="1.35" fill="#ff8a14"/>
<circle cx="47.90" cy="269.39" r="1.35" fill="#ff8a14"/>
<circle cx="54.70" cy="268.92" r="1.35" fill="#ff8a14"/>
<circle cx="52.30" cy="268.31" r="1.35" fill="#ff8a14"/>
<circle cx="50.45" cy="267.75" r="1.35" fill="#ff8a14"/>
<circle cx="53.85" cy="267.50" r="1.35" fill="#ff8a14"/>
<circle cx="48.75" cy="267.30" r="1.35" fill="#ff8a14"/>
<circle cx="52.15" cy="266.81" r="1.35" fill="#ff8a14"/>
<circle cx="50.45" cy="266.19" r="1.35" fill="#ff8a14"/>
<circle cx="54.70" cy="266.10" r="1.35" fill="#ff8a14"/>
<circle cx="48.75" cy="265.72" r="1.35" fill="#ff8a14"/>
<circle cx="53.00" cy="265.41" r="1.35" fill="#ff8a14"/>
<circle cx="53.77" cy="264.62" r="1.35" fill="#ff8a14"/>
<circle cx="51.30" cy="263.75" r="1.35" fill="#ff8a14"/>
<circle cx="49.60" cy="263.44" r="1.35" fill="#ff8a14"/>
<circle cx="53.00" cy="262.97" r="1.35" fill="#ff8a14"/>
<circle cx="54.70" cy="262.67" r="1.35" fill="#ff8a14"/>
<circle cx="51.30" cy="261.43" r="1.35" fill="#ff8a14"/>
<circle cx="53.00" cy="261.15" r="1.35" fill="#ff8a14"/>
<circle cx="49.60" cy="260.40" r="1.35" fill="#ff8a14"/>
<circle cx="54.70" cy="260.24" r="1.35" fill="#ff8a14"/>
<circle cx="47.90" cy="260.22" r="1.35" fill="#ff8a14"/>
<circle cx="49.94" cy="259.95" r="1.35" fill="#ff8a14"/>
<circle cx="51.30" cy="258.82" r="1.35" fill="#ff8a14"/>
<circle cx="53.00" cy="258.28" r="1.35" fill="#ff8a14"/>
<circle cx="50.45" cy="257.33" r="1.35" fill="#ff8a14"/>
<circle cx="48.75" cy="257.18" r="1.35" fill="#ff8a14"/>
<circle cx="54.70" cy="257.12" r="1.35" fill="#ff8a14"/>
<circle cx="52.15" cy="256.87" r="1.35" fill="#ff8a14"/>
<circle cx="53.79" cy="256.16" r="1.35" fill="#ff8a14"/>
<circle cx="49.20" cy="255.68" r="1.35" fill="#ff8a14"/>
<circle cx="54.67" cy="255.35" r="1.35" fill="#ff8a14"/>
<circle cx="51.30" cy="254.30" r="1.35" fill="#ff8a14"/>
<circle cx="53.00" cy="253.18" r="1.35" fill="#ff8a14"/>
<circle cx="51.30" cy="251.26" r="1.35" fill="#ff8a14"/>
<circle cx="51.30" cy="249.24" r="1.35" fill="#ff8a14"/>
<circle cx="53.00" cy="248.55" r="1.35" fill="#ff8a14"/>
<circle cx="49.60" cy="248.11" r="1.35" fill="#ff8a14"/>
<circle cx="54.70" cy="248.11" r="1.35" fill="#ff8a14"/>
<circle cx="51.30" cy="245.00" r="1.35" fill="#ff8a14"/>
<circle cx="51.30" cy="242.96" r="1.35" fill="#ff8a14"/>
<circle cx="53.00" cy="242.64" r="1.35" fill="#ff8a14"/>
<circle cx="49.60" cy="241.74" r="1.35" fill="#ff8a14"/>
<circle cx="51.30" cy="239.06" r="1.35" fill="#ff8a14"/>
<circle cx="51.30" cy="234.58" r="1.35" fill="#ff8a14"/>
<circle cx="52.15" cy="233.27" r="1.35" fill="#ff8a14"/>
<circle cx="51.30" cy="231.67" r="1.35" fill="#ff8a14"/>
<circle cx="53.00" cy="230.99" r="1.35" fill="#ff8a14"/>
<circle cx="51.30" cy="223.82" r="1.35" fill="#ff8a14"/>
<circle cx="51.30" cy="188.88" r="1.35" fill="#ff8a14"/>
<line x1="48.30" y1="257.87" x2="54.30" y2="257.87" stroke="#000" stroke-width="0.8"/>
<line x1="49.50" y1="256.57" x2="53.10" y2="256.57" stroke="#000" stroke-width="0.55"/>
<line x1="49.50" y1="259.17" x2="53.10" y2="259.17" stroke="#000" stroke-width="0.55"/>
<line x1="51.30" y1="256.57" x2="51.30" y2="259.17" stroke="#000" stroke-width="0.55"/>
<line x1="51.30" y1="274.00" x2="51.30" y2="276.80" stroke="#000" stroke-width="1.1"/>
<text x="53.80" y="280.20" font-size="7.0" font-weight="bold" font-style="normal" text-anchor="end" fill="#000" transform="rotate(-46 53.80 280.20)">SLC2A3</text>
<circle cx="61.80" cy="273.70" r="1.35" fill="#f2f21a"/>
<circle cx="63.50" cy="273.70" r="1.35" fill="#f2f21a"/>
<circle cx="60.10" cy="273.70" r="1.35" fill="#f2f21a"/>
<circle cx="65.20" cy="273.70" r="1.35" fill="#f2f21a"/>
<circle cx="58.40" cy="273.65" r="1.35" fill="#f2f21a"/>
<circle cx="59.77" cy="273.04" r="1.35" fill="#f2f21a"/>
<circle cx="64.59" cy="273.55" r="1.35" fill="#f2f21a"/>
<circle cx="59.92" cy="273.10" r="1.35" fill="#f2f21a"/>
<circle cx="60.07" cy="273.37" r="1.35" fill="#f2f21a"/>
<circle cx="64.19" cy="273.17" r="1.35" fill="#f2f21a"/>
<circle cx="63.89" cy="273.33" r="1.35" fill="#f2f21a"/>
<circle cx="61.10" cy="272.99" r="1.35" fill="#f2f21a"/>
<circle cx="58.33" cy="273.27" r="1.35" fill="#f2f21a"/>
<circle cx="63.11" cy="272.76" r="1.35" fill="#f2f21a"/>
<circle cx="65.17" cy="273.22" r="1.35" fill="#f2f21a"/>
<circle cx="61.84" cy="272.77" r="1.35" fill="#f2f21a"/>
<circle cx="61.82" cy="272.75" r="1.35" fill="#f2f21a"/>
<circle cx="59.56" cy="272.94" r="1.35" fill="#f2f21a"/>
<circle cx="58.96" cy="272.96" r="1.35" fill="#f2f21a"/>
<circle cx="62.17" cy="272.67" r="1.35" fill="#f2f21a"/>
<circle cx="62.29" cy="272.87" r="1.35" fill="#f2f21a"/>
<circle cx="59.53" cy="272.70" r="1.35" fill="#f2f21a"/>
<circle cx="64.25" cy="272.14" r="1.35" fill="#f2f21a"/>
<circle cx="64.87" cy="272.57" r="1.35" fill="#f2f21a"/>
<circle cx="58.65" cy="272.00" r="1.35" fill="#f2f21a"/>
<circle cx="61.53" cy="272.11" r="1.35" fill="#f2f21a"/>
<circle cx="60.55" cy="272.19" r="1.35" fill="#f2f21a"/>
<circle cx="61.91" cy="272.20" r="1.35" fill="#f2f21a"/>
<circle cx="62.53" cy="272.27" r="1.35" fill="#f2f21a"/>
<circle cx="63.25" cy="271.75" r="1.35" fill="#f2f21a"/>
<circle cx="59.51" cy="271.91" r="1.35" fill="#f2f21a"/>
<circle cx="63.52" cy="271.88" r="1.35" fill="#f2f21a"/>
<circle cx="59.60" cy="271.98" r="1.35" fill="#f2f21a"/>
<circle cx="61.89" cy="272.04" r="1.35" fill="#f2f21a"/>
<circle cx="64.63" cy="271.49" r="1.35" fill="#f2f21a"/>
<circle cx="63.27" cy="271.46" r="1.35" fill="#f2f21a"/>
<circle cx="62.73" cy="271.73" r="1.35" fill="#f2f21a"/>
<circle cx="62.52" cy="271.63" r="1.35" fill="#f2f21a"/>
<circle cx="65.28" cy="271.44" r="1.35" fill="#f2f21a"/>
<circle cx="60.06" cy="271.23" r="1.35" fill="#f2f21a"/>
<circle cx="63.56" cy="271.25" r="1.35" fill="#f2f21a"/>
<circle cx="64.07" cy="271.26" r="1.35" fill="#f2f21a"/>
<circle cx="64.66" cy="270.93" r="1.35" fill="#f2f21a"/>
<circle cx="63.20" cy="270.95" r="1.35" fill="#f2f21a"/>
<circle cx="63.71" cy="271.16" r="1.35" fill="#f2f21a"/>
<circle cx="63.40" cy="271.28" r="1.35" fill="#f2f21a"/>
<circle cx="60.66" cy="270.98" r="1.35" fill="#f2f21a"/>
<circle cx="58.28" cy="270.66" r="1.35" fill="#f2f21a"/>
<circle cx="62.80" cy="270.47" r="1.35" fill="#f2f21a"/>
<circle cx="59.87" cy="269.90" r="1.35" fill="#f2f21a"/>
<circle cx="63.00" cy="270.17" r="1.35" fill="#f2f21a"/>
<circle cx="62.95" cy="269.60" r="1.35" fill="#f2f21a"/>
<circle cx="62.04" cy="269.43" r="1.35" fill="#f2f21a"/>
<circle cx="65.20" cy="269.53" r="1.35" fill="#f2f21a"/>
<circle cx="65.40" cy="269.07" r="1.35" fill="#f2f21a"/>
<circle cx="58.40" cy="268.88" r="1.35" fill="#f2f21a"/>
<circle cx="63.25" cy="268.32" r="1.35" fill="#f2f21a"/>
<circle cx="61.80" cy="267.80" r="1.35" fill="#f2f21a"/>
<circle cx="60.10" cy="267.74" r="1.35" fill="#f2f21a"/>
<circle cx="64.35" cy="267.12" r="1.35" fill="#f2f21a"/>
<circle cx="58.40" cy="267.09" r="1.35" fill="#f2f21a"/>
<circle cx="65.26" cy="267.01" r="1.35" fill="#f2f21a"/>
<circle cx="61.80" cy="265.55" r="1.35" fill="#f2f21a"/>
<circle cx="63.50" cy="264.63" r="1.35" fill="#f2f21a"/>
<line x1="58.80" y1="271.31" x2="64.80" y2="271.31" stroke="#000" stroke-width="0.8"/>
<line x1="60.00" y1="270.01" x2="63.60" y2="270.01" stroke="#000" stroke-width="0.55"/>
<line x1="60.00" y1="272.61" x2="63.60" y2="272.61" stroke="#000" stroke-width="0.55"/>
<line x1="61.80" y1="270.01" x2="61.80" y2="272.61" stroke="#000" stroke-width="0.55"/>
<line x1="61.80" y1="274.00" x2="61.80" y2="276.80" stroke="#000" stroke-width="1.1"/>
<text x="64.30" y="280.20" font-size="7.0" font-weight="bold" font-style="normal" text-anchor="end" fill="#000" transform="rotate(-46 64.30 280.20)">SLC2A4</text>
<circle cx="72.40" cy="273.70" r="1.35" fill="#4a8a0a"/>
<circle cx="74.10" cy="273.70" r="1.35" fill="#4a8a0a"/>
<circle cx="70.70" cy="273.70" r="1.35" fill="#4a8a0a"/>
<circle cx="75.80" cy="273.70" r="1.35" fill="#4a8a0a"/>
<circle cx="69.00" cy="273.70" r="1.35" fill="#4a8a0a"/>
<circle cx="73.29" cy="273.43" r="1.35" fill="#4a8a0a"/>
<circle cx="70.27" cy="273.59" r="1.35" fill="#4a8a0a"/>
<circle cx="72.60" cy="273.53" r="1.35" fill="#4a8a0a"/>
<circle cx="71.99" cy="273.09" r="1.35" fill="#4a8a0a"/>
<circle cx="72.08" cy="273.24" r="1.35" fill="#4a8a0a"/>
<circle cx="72.99" cy="272.91" r="1.35" fill="#4a8a0a"/>
<circle cx="74.40" cy="272.82" r="1.35" fill="#4a8a0a"/>
<circle cx="75.98" cy="272.52" r="1.35" fill="#4a8a0a"/>
<circle cx="74.09" cy="272.79" r="1.35" fill="#4a8a0a"/>
<circle cx="69.62" cy="272.09" r="1.35" fill="#4a8a0a"/>
<circle cx="74.45" cy="272.24" r="1.35" fill="#4a8a0a"/>
<circle cx="71.39" cy="272.41" r="1.35" fill="#4a8a0a"/>
<circle cx="73.73" cy="272.02" r="1.35" fill="#4a8a0a"/>
<circle cx="73.06" cy="271.96" r="1.35" fill="#4a8a0a"/>
<circle cx="74.22" cy="272.16" r="1.35" fill="#4a8a0a"/>
<circle cx="70.59" cy="271.17" r="1.35" fill="#4a8a0a"/>
<circle cx="75.39" cy="271.15" r="1.35" fill="#4a8a0a"/>
<circle cx="69.08" cy="271.53" r="1.35" fill="#4a8a0a"/>
<circle cx="70.75" cy="271.05" r="1.35" fill="#4a8a0a"/>
<circle cx="73.29" cy="271.17" r="1.35" fill="#4a8a0a"/>
<circle cx="72.70" cy="270.84" r="1.35" fill="#4a8a0a"/>
<circle cx="69.42" cy="270.45" r="1.35" fill="#4a8a0a"/>
<circle cx="72.76" cy="270.42" r="1.35" fill="#4a8a0a"/>
<circle cx="71.49" cy="270.34" r="1.35" fill="#4a8a0a"/>
<circle cx="70.32" cy="270.30" r="1.35" fill="#4a8a0a"/>
<circle cx="74.16" cy="269.85" r="1.35" fill="#4a8a0a"/>
<circle cx="69.34" cy="270.24" r="1.35" fill="#4a8a0a"/>
<circle cx="74.63" cy="269.69" r="1.35" fill="#4a8a0a"/>
<circle cx="74.34" cy="269.82" r="1.35" fill="#4a8a0a"/>
<circle cx="71.86" cy="269.71" r="1.35" fill="#4a8a0a"/>
<circle cx="74.63" cy="269.29" r="1.35" fill="#4a8a0a"/>
<circle cx="73.51" cy="268.92" r="1.35" fill="#4a8a0a"/>
<circle cx="71.14" cy="269.11" r="1.35" fill="#4a8a0a"/>
<circle cx="74.17" cy="268.79" r="1.35" fill="#4a8a0a"/>
<circle cx="71.88" cy="268.77" r="1.35" fill="#4a8a0a"/>
<circle cx="69.00" cy="268.75" r="1.35" fill="#4a8a0a"/>
<circle cx="75.80" cy="267.79" r="1.35" fill="#4a8a0a"/>
<circle cx="69.50" cy="267.15" r="1.35" fill="#4a8a0a"/>
<circle cx="72.40" cy="267.20" r="1.35" fill="#4a8a0a"/>
<circle cx="74.10" cy="267.08" r="1.35" fill="#4a8a0a"/>
<circle cx="69.37" cy="266.93" r="1.35" fill="#4a8a0a"/>
<circle cx="73.25" cy="265.83" r="1.35" fill="#4a8a0a"/>
<circle cx="71.55" cy="265.64" r="1.35" fill="#4a8a0a"/>
<circle cx="72.40" cy="262.77" r="1.35" fill="#4a8a0a"/>
<circle cx="74.10" cy="262.37" r="1.35" fill="#4a8a0a"/>
<circle cx="70.70" cy="262.37" r="1.35" fill="#4a8a0a"/>
<circle cx="72.40" cy="260.88" r="1.35" fill="#4a8a0a"/>
<circle cx="74.10" cy="260.35" r="1.35" fill="#4a8a0a"/>
<circle cx="70.70" cy="259.76" r="1.35" fill="#4a8a0a"/>
<circle cx="75.80" cy="259.68" r="1.35" fill="#4a8a0a"/>
<circle cx="72.40" cy="257.17" r="1.35" fill="#4a8a0a"/>
<circle cx="74.10" cy="256.17" r="1.35" fill="#4a8a0a"/>
<circle cx="72.40" cy="255.00" r="1.35" fill="#4a8a0a"/>
<circle cx="72.40" cy="251.88" r="1.35" fill="#4a8a0a"/>
<circle cx="74.10" cy="251.60" r="1.35" fill="#4a8a0a"/>
<circle cx="72.40" cy="249.81" r="1.35" fill="#4a8a0a"/>
<circle cx="72.40" cy="247.79" r="1.35" fill="#4a8a0a"/>
<circle cx="72.40" cy="238.16" r="1.35" fill="#4a8a0a"/>
<circle cx="72.40" cy="235.47" r="1.35" fill="#4a8a0a"/>
<line x1="69.40" y1="268.62" x2="75.40" y2="268.62" stroke="#000" stroke-width="0.8"/>
<line x1="70.60" y1="267.32" x2="74.20" y2="267.32" stroke="#000" stroke-width="0.55"/>
<line x1="70.60" y1="269.92" x2="74.20" y2="269.92" stroke="#000" stroke-width="0.55"/>
<line x1="72.40" y1="267.32" x2="72.40" y2="269.92" stroke="#000" stroke-width="0.55"/>
<line x1="72.40" y1="274.00" x2="72.40" y2="276.80" stroke="#000" stroke-width="1.1"/>
<text x="74.90" y="280.20" font-size="7.0" font-weight="bold" font-style="normal" text-anchor="end" fill="#000" transform="rotate(-46 74.90 280.20)">SLC2A5</text>
<circle cx="82.90" cy="262.35" r="1.35" fill="#9a3cff"/>
<circle cx="82.90" cy="260.43" r="1.35" fill="#9a3cff"/>
<circle cx="83.75" cy="258.95" r="1.35" fill="#9a3cff"/>
<circle cx="82.90" cy="256.58" r="1.35" fill="#9a3cff"/>
<circle cx="84.60" cy="256.48" r="1.35" fill="#9a3cff"/>
<circle cx="81.20" cy="256.02" r="1.35" fill="#9a3cff"/>
<circle cx="86.30" cy="255.73" r="1.35" fill="#9a3cff"/>
<circle cx="83.75" cy="255.20" r="1.35" fill="#9a3cff"/>
<circle cx="79.50" cy="254.82" r="1.35" fill="#9a3cff"/>
<circle cx="82.05" cy="254.36" r="1.35" fill="#9a3cff"/>
<circle cx="82.90" cy="252.92" r="1.35" fill="#9a3cff"/>
<circle cx="84.60" cy="252.55" r="1.35" fill="#9a3cff"/>
<circle cx="81.20" cy="252.36" r="1.35" fill="#9a3cff"/>
<circle cx="86.30" cy="252.26" r="1.35" fill="#9a3cff"/>
<circle cx="82.90" cy="250.98" r="1.35" fill="#9a3cff"/>
<circle cx="84.60" cy="250.31" r="1.35" fill="#9a3cff"/>
<circle cx="81.20" cy="250.28" r="1.35" fill="#9a3cff"/>
<circle cx="86.30" cy="249.90" r="1.35" fill="#9a3cff"/>
<circle cx="82.90" cy="249.38" r="1.35" fill="#9a3cff"/>
<circle cx="79.50" cy="249.06" r="1.35" fill="#9a3cff"/>
<circle cx="83.97" cy="248.70" r="1.35" fill="#9a3cff"/>
<circle cx="81.20" cy="248.50" r="1.35" fill="#9a3cff"/>
<circle cx="85.45" cy="248.40" r="1.35" fill="#9a3cff"/>
<circle cx="80.89" cy="247.86" r="1.35" fill="#9a3cff"/>
<circle cx="83.06" cy="247.85" r="1.35" fill="#9a3cff"/>
<circle cx="82.14" cy="248.07" r="1.35" fill="#9a3cff"/>
<circle cx="86.27" cy="247.65" r="1.35" fill="#9a3cff"/>
<circle cx="82.85" cy="247.16" r="1.35" fill="#9a3cff"/>
<circle cx="84.60" cy="246.89" r="1.35" fill="#9a3cff"/>
<circle cx="81.20" cy="246.35" r="1.35" fill="#9a3cff"/>
<circle cx="82.90" cy="245.24" r="1.35" fill="#9a3cff"/>
<circle cx="84.60" cy="244.76" r="1.35" fill="#9a3cff"/>
<circle cx="81.20" cy="244.24" r="1.35" fill="#9a3cff"/>
<circle cx="86.30" cy="243.83" r="1.35" fill="#9a3cff"/>
<circle cx="82.90" cy="243.46" r="1.35" fill="#9a3cff"/>
<circle cx="84.60" cy="242.83" r="1.35" fill="#9a3cff"/>
<circle cx="81.20" cy="242.31" r="1.35" fill="#9a3cff"/>
<circle cx="86.30" cy="242.13" r="1.35" fill="#9a3cff"/>
<circle cx="79.50" cy="242.07" r="1.35" fill="#9a3cff"/>
<circle cx="84.49" cy="241.57" r="1.35" fill="#9a3cff"/>
<circle cx="82.90" cy="241.58" r="1.35" fill="#9a3cff"/>
<circle cx="85.89" cy="241.17" r="1.35" fill="#9a3cff"/>
<circle cx="81.20" cy="240.46" r="1.35" fill="#9a3cff"/>
<circle cx="82.90" cy="239.99" r="1.35" fill="#9a3cff"/>
<circle cx="84.60" cy="239.92" r="1.35" fill="#9a3cff"/>
<circle cx="86.30" cy="239.38" r="1.35" fill="#9a3cff"/>
<circle cx="80.35" cy="238.96" r="1.35" fill="#9a3cff"/>
<circle cx="85.25" cy="238.48" r="1.35" fill="#9a3cff"/>
<circle cx="82.05" cy="238.69" r="1.35" fill="#9a3cff"/>
<circle cx="83.75" cy="238.60" r="1.35" fill="#9a3cff"/>
<circle cx="82.90" cy="237.10" r="1.35" fill="#9a3cff"/>
<circle cx="84.60" cy="237.08" r="1.35" fill="#9a3cff"/>
<circle cx="81.20" cy="236.84" r="1.35" fill="#9a3cff"/>
<circle cx="86.30" cy="236.16" r="1.35" fill="#9a3cff"/>
<circle cx="82.90" cy="234.64" r="1.35" fill="#9a3cff"/>
<circle cx="84.60" cy="234.47" r="1.35" fill="#9a3cff"/>
<circle cx="81.20" cy="234.38" r="1.35" fill="#9a3cff"/>
<circle cx="86.30" cy="234.09" r="1.35" fill="#9a3cff"/>
<circle cx="79.50" cy="233.67" r="1.35" fill="#9a3cff"/>
<circle cx="82.90" cy="232.61" r="1.35" fill="#9a3cff"/>
<circle cx="84.60" cy="232.48" r="1.35" fill="#9a3cff"/>
<circle cx="81.20" cy="231.79" r="1.35" fill="#9a3cff"/>
<circle cx="82.90" cy="227.90" r="1.35" fill="#9a3cff"/>
<circle cx="84.60" cy="226.80" r="1.35" fill="#9a3cff"/>
<line x1="79.90" y1="245.33" x2="85.90" y2="245.33" stroke="#000" stroke-width="0.8"/>
<line x1="81.10" y1="244.03" x2="84.70" y2="244.03" stroke="#000" stroke-width="0.55"/>
<line x1="81.10" y1="246.63" x2="84.70" y2="246.63" stroke="#000" stroke-width="0.55"/>
<line x1="82.90" y1="244.03" x2="82.90" y2="246.63" stroke="#000" stroke-width="0.55"/>
<line x1="82.90" y1="274.00" x2="82.90" y2="276.80" stroke="#000" stroke-width="1.1"/>
<text x="85.40" y="280.20" font-size="7.0" font-weight="bold" font-style="normal" text-anchor="end" fill="#000" transform="rotate(-46 85.40 280.20)">SLC2A6</text>
<circle cx="93.30" cy="273.70" r="1.35" fill="#78c6f4"/>
<circle cx="95.00" cy="273.70" r="1.35" fill="#78c6f4"/>
<circle cx="91.60" cy="273.70" r="1.35" fill="#78c6f4"/>
<circle cx="90.95" cy="273.57" r="1.35" fill="#78c6f4"/>
<circle cx="92.68" cy="273.37" r="1.35" fill="#78c6f4"/>
<circle cx="94.32" cy="273.45" r="1.35" fill="#78c6f4"/>
<circle cx="91.65" cy="273.68" r="1.35" fill="#78c6f4"/>
<circle cx="92.44" cy="273.59" r="1.35" fill="#78c6f4"/>
<circle cx="95.07" cy="273.40" r="1.35" fill="#78c6f4"/>
<circle cx="93.96" cy="273.10" r="1.35" fill="#78c6f4"/>
<circle cx="92.18" cy="273.36" r="1.35" fill="#78c6f4"/>
<circle cx="91.62" cy="273.20" r="1.35" fill="#78c6f4"/>
<circle cx="90.91" cy="273.17" r="1.35" fill="#78c6f4"/>
<circle cx="94.96" cy="273.16" r="1.35" fill="#78c6f4"/>
<circle cx="91.30" cy="273.48" r="1.35" fill="#78c6f4"/>
<circle cx="94.34" cy="273.54" r="1.35" fill="#78c6f4"/>
<circle cx="93.20" cy="273.29" r="1.35" fill="#78c6f4"/>
<circle cx="95.49" cy="273.21" r="1.35" fill="#78c6f4"/>
<circle cx="95.02" cy="273.36" r="1.35" fill="#78c6f4"/>
<circle cx="94.69" cy="273.29" r="1.35" fill="#78c6f4"/>
<circle cx="95.30" cy="273.48" r="1.35" fill="#78c6f4"/>
<circle cx="94.87" cy="273.37" r="1.35" fill="#78c6f4"/>
<circle cx="93.51" cy="273.18" r="1.35" fill="#78c6f4"/>
<circle cx="91.66" cy="273.00" r="1.35" fill="#78c6f4"/>
<circle cx="92.39" cy="273.31" r="1.35" fill="#78c6f4"/>
<circle cx="91.26" cy="273.30" r="1.35" fill="#78c6f4"/>
<circle cx="93.14" cy="273.04" r="1.35" fill="#78c6f4"/>
<circle cx="92.63" cy="272.95" r="1.35" fill="#78c6f4"/>
<circle cx="91.41" cy="273.10" r="1.35" fill="#78c6f4"/>
<circle cx="93.12" cy="272.75" r="1.35" fill="#78c6f4"/>
<circle cx="94.88" cy="272.92" r="1.35" fill="#78c6f4"/>
<circle cx="90.96" cy="273.03" r="1.35" fill="#78c6f4"/>
<circle cx="94.31" cy="273.10" r="1.35" fill="#78c6f4"/>
<circle cx="93.61" cy="272.93" r="1.35" fill="#78c6f4"/>
<circle cx="90.95" cy="272.60" r="1.35" fill="#78c6f4"/>
<circle cx="94.74" cy="273.07" r="1.35" fill="#78c6f4"/>
<circle cx="93.86" cy="272.98" r="1.35" fill="#78c6f4"/>
<circle cx="92.70" cy="272.83" r="1.35" fill="#78c6f4"/>
<circle cx="92.33" cy="272.94" r="1.35" fill="#78c6f4"/>
<circle cx="92.78" cy="272.59" r="1.35" fill="#78c6f4"/>
<circle cx="92.13" cy="272.85" r="1.35" fill="#78c6f4"/>
<circle cx="94.41" cy="272.74" r="1.35" fill="#78c6f4"/>
<circle cx="95.44" cy="272.58" r="1.35" fill="#78c6f4"/>
<circle cx="94.37" cy="272.70" r="1.35" fill="#78c6f4"/>
<circle cx="94.87" cy="272.82" r="1.35" fill="#78c6f4"/>
<circle cx="91.58" cy="272.81" r="1.35" fill="#78c6f4"/>
<circle cx="94.15" cy="272.41" r="1.35" fill="#78c6f4"/>
<circle cx="91.76" cy="272.58" r="1.35" fill="#78c6f4"/>
<circle cx="94.92" cy="272.46" r="1.35" fill="#78c6f4"/>
<circle cx="91.33" cy="272.61" r="1.35" fill="#78c6f4"/>
<circle cx="91.65" cy="272.65" r="1.35" fill="#78c6f4"/>
<circle cx="92.85" cy="272.47" r="1.35" fill="#78c6f4"/>
<circle cx="95.32" cy="272.19" r="1.35" fill="#78c6f4"/>
<circle cx="93.36" cy="272.01" r="1.35" fill="#78c6f4"/>
<circle cx="94.58" cy="271.83" r="1.35" fill="#78c6f4"/>
<circle cx="92.75" cy="272.10" r="1.35" fill="#78c6f4"/>
<circle cx="92.88" cy="272.04" r="1.35" fill="#78c6f4"/>
<circle cx="92.82" cy="271.55" r="1.35" fill="#78c6f4"/>
<circle cx="95.61" cy="271.28" r="1.35" fill="#78c6f4"/>
<circle cx="94.07" cy="271.15" r="1.35" fill="#78c6f4"/>
<circle cx="90.99" cy="271.22" r="1.35" fill="#78c6f4"/>
<circle cx="92.54" cy="270.86" r="1.35" fill="#78c6f4"/>
<circle cx="91.41" cy="270.54" r="1.35" fill="#78c6f4"/>
<circle cx="93.34" cy="270.23" r="1.35" fill="#78c6f4"/>
<line x1="90.30" y1="273.55" x2="96.30" y2="273.55" stroke="#000" stroke-width="0.8"/>
<line x1="91.50" y1="272.25" x2="95.10" y2="272.25" stroke="#000" stroke-width="0.55"/>
<line x1="91.50" y1="274.85" x2="95.10" y2="274.85" stroke="#000" stroke-width="0.55"/>
<line x1="93.30" y1="272.25" x2="93.30" y2="274.85" stroke="#000" stroke-width="0.55"/>
<line x1="93.30" y1="274.00" x2="93.30" y2="276.80" stroke="#000" stroke-width="1.1"/>
<text x="95.80" y="280.20" font-size="7.0" font-weight="bold" font-style="normal" text-anchor="end" fill="#000" transform="rotate(-46 95.80 280.20)">SLC2A7</text>
<circle cx="104.00" cy="258.56" r="1.35" fill="#ff2a7f"/>
<circle cx="104.85" cy="257.22" r="1.35" fill="#ff2a7f"/>
<circle cx="104.00" cy="255.40" r="1.35" fill="#ff2a7f"/>
<circle cx="105.70" cy="254.87" r="1.35" fill="#ff2a7f"/>
<circle cx="104.00" cy="253.85" r="1.35" fill="#ff2a7f"/>
<circle cx="102.30" cy="253.84" r="1.35" fill="#ff2a7f"/>
<circle cx="107.40" cy="253.76" r="1.35" fill="#ff2a7f"/>
<circle cx="105.70" cy="252.79" r="1.35" fill="#ff2a7f"/>
<circle cx="104.00" cy="251.94" r="1.35" fill="#ff2a7f"/>
<circle cx="104.00" cy="250.35" r="1.35" fill="#ff2a7f"/>
<circle cx="105.70" cy="249.98" r="1.35" fill="#ff2a7f"/>
<circle cx="102.30" cy="249.93" r="1.35" fill="#ff2a7f"/>
<circle cx="107.40" cy="249.91" r="1.35" fill="#ff2a7f"/>
<circle cx="100.60" cy="249.89" r="1.35" fill="#ff2a7f"/>
<circle cx="104.50" cy="249.77" r="1.35" fill="#ff2a7f"/>
<circle cx="104.14" cy="249.66" r="1.35" fill="#ff2a7f"/>
<circle cx="104.49" cy="248.50" r="1.35" fill="#ff2a7f"/>
<circle cx="102.30" cy="248.33" r="1.35" fill="#ff2a7f"/>
<circle cx="106.55" cy="248.06" r="1.35" fill="#ff2a7f"/>
<circle cx="100.60" cy="247.99" r="1.35" fill="#ff2a7f"/>
<circle cx="105.02" cy="247.94" r="1.35" fill="#ff2a7f"/>
<circle cx="105.23" cy="247.47" r="1.35" fill="#ff2a7f"/>
<circle cx="107.31" cy="246.97" r="1.35" fill="#ff2a7f"/>
<circle cx="103.15" cy="247.06" r="1.35" fill="#ff2a7f"/>
<circle cx="101.45" cy="246.64" r="1.35" fill="#ff2a7f"/>
<circle cx="104.85" cy="245.90" r="1.35" fill="#ff2a7f"/>
<circle cx="103.78" cy="245.49" r="1.35" fill="#ff2a7f"/>
<circle cx="106.55" cy="245.33" r="1.35" fill="#ff2a7f"/>
<circle cx="102.30" cy="245.19" r="1.35" fill="#ff2a7f"/>
<circle cx="104.00" cy="243.97" r="1.35" fill="#ff2a7f"/>
<circle cx="105.70" cy="243.86" r="1.35" fill="#ff2a7f"/>
<circle cx="102.30" cy="243.47" r="1.35" fill="#ff2a7f"/>
<circle cx="104.00" cy="242.06" r="1.35" fill="#ff2a7f"/>
<circle cx="105.70" cy="241.76" r="1.35" fill="#ff2a7f"/>
<circle cx="102.30" cy="241.58" r="1.35" fill="#ff2a7f"/>
<circle cx="104.00" cy="240.18" r="1.35" fill="#ff2a7f"/>
<circle cx="105.70" cy="239.74" r="1.35" fill="#ff2a7f"/>
<circle cx="102.30" cy="239.73" r="1.35" fill="#ff2a7f"/>
<circle cx="107.40" cy="239.67" r="1.35" fill="#ff2a7f"/>
<circle cx="100.60" cy="239.49" r="1.35" fill="#ff2a7f"/>
<circle cx="104.00" cy="238.54" r="1.35" fill="#ff2a7f"/>
<circle cx="104.89" cy="238.05" r="1.35" fill="#ff2a7f"/>
<circle cx="102.30" cy="237.93" r="1.35" fill="#ff2a7f"/>
<circle cx="106.55" cy="237.53" r="1.35" fill="#ff2a7f"/>
<circle cx="100.60" cy="237.36" r="1.35" fill="#ff2a7f"/>
<circle cx="105.86" cy="236.81" r="1.35" fill="#ff2a7f"/>
<circle cx="103.90" cy="236.26" r="1.35" fill="#ff2a7f"/>
<circle cx="106.44" cy="236.05" r="1.35" fill="#ff2a7f"/>
<circle cx="102.30" cy="236.30" r="1.35" fill="#ff2a7f"/>
<circle cx="100.60" cy="235.29" r="1.35" fill="#ff2a7f"/>
<circle cx="104.85" cy="235.07" r="1.35" fill="#ff2a7f"/>
<circle cx="103.15" cy="234.53" r="1.35" fill="#ff2a7f"/>
<circle cx="106.55" cy="234.50" r="1.35" fill="#ff2a7f"/>
<circle cx="103.34" cy="233.98" r="1.35" fill="#ff2a7f"/>
<circle cx="101.45" cy="233.57" r="1.35" fill="#ff2a7f"/>
<circle cx="104.85" cy="233.54" r="1.35" fill="#ff2a7f"/>
<circle cx="104.00" cy="232.02" r="1.35" fill="#ff2a7f"/>
<circle cx="104.00" cy="230.00" r="1.35" fill="#ff2a7f"/>
<circle cx="105.70" cy="229.83" r="1.35" fill="#ff2a7f"/>
<circle cx="102.30" cy="229.04" r="1.35" fill="#ff2a7f"/>
<circle cx="107.40" cy="228.67" r="1.35" fill="#ff2a7f"/>
<circle cx="104.00" cy="227.09" r="1.35" fill="#ff2a7f"/>
<circle cx="105.70" cy="226.51" r="1.35" fill="#ff2a7f"/>
<circle cx="102.30" cy="226.51" r="1.35" fill="#ff2a7f"/>
<line x1="101.00" y1="244.43" x2="107.00" y2="244.43" stroke="#000" stroke-width="0.8"/>
<line x1="102.20" y1="243.13" x2="105.80" y2="243.13" stroke="#000" stroke-width="0.55"/>
<line x1="102.20" y1="245.73" x2="105.80" y2="245.73" stroke="#000" stroke-width="0.55"/>
<line x1="104.00" y1="243.13" x2="104.00" y2="245.73" stroke="#000" stroke-width="0.55"/>
<line x1="104.00" y1="274.00" x2="104.00" y2="276.80" stroke="#000" stroke-width="1.1"/>
<text x="106.50" y="280.20" font-size="7.0" font-weight="bold" font-style="normal" text-anchor="end" fill="#000" transform="rotate(-46 106.50 280.20)">SLC2A8</text>
<circle cx="114.40" cy="271.78" r="1.35" fill="#6cf26c"/>
<circle cx="114.40" cy="270.27" r="1.35" fill="#6cf26c"/>
<circle cx="116.10" cy="270.13" r="1.35" fill="#6cf26c"/>
<circle cx="112.70" cy="270.11" r="1.35" fill="#6cf26c"/>
<circle cx="114.40" cy="267.41" r="1.35" fill="#6cf26c"/>
<circle cx="114.40" cy="265.86" r="1.35" fill="#6cf26c"/>
<circle cx="114.40" cy="263.45" r="1.35" fill="#6cf26c"/>
<circle cx="116.10" cy="263.03" r="1.35" fill="#6cf26c"/>
<circle cx="114.40" cy="261.50" r="1.35" fill="#6cf26c"/>
<circle cx="116.10" cy="260.62" r="1.35" fill="#6cf26c"/>
<circle cx="112.70" cy="260.44" r="1.35" fill="#6cf26c"/>
<circle cx="114.40" cy="259.37" r="1.35" fill="#6cf26c"/>
<circle cx="116.95" cy="259.27" r="1.35" fill="#6cf26c"/>
<circle cx="115.25" cy="257.88" r="1.35" fill="#6cf26c"/>
<circle cx="113.55" cy="257.81" r="1.35" fill="#6cf26c"/>
<circle cx="116.95" cy="257.56" r="1.35" fill="#6cf26c"/>
<circle cx="114.40" cy="256.42" r="1.35" fill="#6cf26c"/>
<circle cx="116.10" cy="256.18" r="1.35" fill="#6cf26c"/>
<circle cx="112.70" cy="255.52" r="1.35" fill="#6cf26c"/>
<circle cx="117.80" cy="255.14" r="1.35" fill="#6cf26c"/>
<circle cx="114.40" cy="252.69" r="1.35" fill="#6cf26c"/>
<circle cx="116.10" cy="251.91" r="1.35" fill="#6cf26c"/>
<circle cx="112.70" cy="251.69" r="1.35" fill="#6cf26c"/>
<circle cx="117.80" cy="251.56" r="1.35" fill="#6cf26c"/>
<circle cx="114.40" cy="250.97" r="1.35" fill="#6cf26c"/>
<circle cx="116.10" cy="250.38" r="1.35" fill="#6cf26c"/>
<circle cx="111.85" cy="250.24" r="1.35" fill="#6cf26c"/>
<circle cx="117.80" cy="249.84" r="1.35" fill="#6cf26c"/>
<circle cx="117.26" cy="249.66" r="1.35" fill="#6cf26c"/>
<circle cx="113.55" cy="249.72" r="1.35" fill="#6cf26c"/>
<circle cx="116.83" cy="249.42" r="1.35" fill="#6cf26c"/>
<circle cx="114.20" cy="249.27" r="1.35" fill="#6cf26c"/>
<circle cx="112.70" cy="248.20" r="1.35" fill="#6cf26c"/>
<circle cx="115.25" cy="248.13" r="1.35" fill="#6cf26c"/>
<circle cx="116.95" cy="247.90" r="1.35" fill="#6cf26c"/>
<circle cx="111.00" cy="247.66" r="1.35" fill="#6cf26c"/>
<circle cx="117.13" cy="247.06" r="1.35" fill="#6cf26c"/>
<circle cx="112.25" cy="247.26" r="1.35" fill="#6cf26c"/>
<circle cx="114.40" cy="246.71" r="1.35" fill="#6cf26c"/>
<circle cx="114.40" cy="244.74" r="1.35" fill="#6cf26c"/>
<circle cx="116.10" cy="244.62" r="1.35" fill="#6cf26c"/>
<circle cx="112.70" cy="244.42" r="1.35" fill="#6cf26c"/>
<circle cx="117.80" cy="243.82" r="1.35" fill="#6cf26c"/>
<circle cx="115.25" cy="243.36" r="1.35" fill="#6cf26c"/>
<circle cx="113.55" cy="242.48" r="1.35" fill="#6cf26c"/>
<circle cx="115.25" cy="241.69" r="1.35" fill="#6cf26c"/>
<circle cx="114.40" cy="239.43" r="1.35" fill="#6cf26c"/>
<circle cx="116.10" cy="239.37" r="1.35" fill="#6cf26c"/>
<circle cx="112.70" cy="238.58" r="1.35" fill="#6cf26c"/>
<circle cx="117.80" cy="238.41" r="1.35" fill="#6cf26c"/>
<circle cx="111.00" cy="238.25" r="1.35" fill="#6cf26c"/>
<circle cx="115.25" cy="238.11" r="1.35" fill="#6cf26c"/>
<circle cx="112.18" cy="237.47" r="1.35" fill="#6cf26c"/>
<circle cx="111.16" cy="237.41" r="1.35" fill="#6cf26c"/>
<circle cx="114.40" cy="236.49" r="1.35" fill="#6cf26c"/>
<circle cx="116.10" cy="235.72" r="1.35" fill="#6cf26c"/>
<circle cx="114.40" cy="231.85" r="1.35" fill="#6cf26c"/>
<circle cx="116.10" cy="231.74" r="1.35" fill="#6cf26c"/>
<circle cx="112.70" cy="231.67" r="1.35" fill="#6cf26c"/>
<circle cx="114.40" cy="229.75" r="1.35" fill="#6cf26c"/>
<circle cx="114.40" cy="226.51" r="1.35" fill="#6cf26c"/>
<circle cx="116.10" cy="226.51" r="1.35" fill="#6cf26c"/>
<circle cx="112.70" cy="226.51" r="1.35" fill="#6cf26c"/>
<circle cx="117.80" cy="226.51" r="1.35" fill="#6cf26c"/>
<line x1="111.40" y1="248.02" x2="117.40" y2="248.02" stroke="#000" stroke-width="0.8"/>
<line x1="112.60" y1="246.72" x2="116.20" y2="246.72" stroke="#000" stroke-width="0.55"/>
<line x1="112.60" y1="249.32" x2="116.20" y2="249.32" stroke="#000" stroke-width="0.55"/>
<line x1="114.40" y1="246.72" x2="114.40" y2="249.32" stroke="#000" stroke-width="0.55"/>
<line x1="114.40" y1="274.00" x2="114.40" y2="276.80" stroke="#000" stroke-width="1.1"/>
<text x="116.90" y="280.20" font-size="7.0" font-weight="bold" font-style="normal" text-anchor="end" fill="#000" transform="rotate(-46 116.90 280.20)">SLC2A9</text>
<circle cx="124.90" cy="273.70" r="1.35" fill="#ffcf78"/>
<circle cx="126.60" cy="273.70" r="1.35" fill="#ffcf78"/>
<circle cx="123.20" cy="273.67" r="1.35" fill="#ffcf78"/>
<circle cx="128.30" cy="273.63" r="1.35" fill="#ffcf78"/>
<circle cx="121.50" cy="273.62" r="1.35" fill="#ffcf78"/>
<circle cx="128.15" cy="273.31" r="1.35" fill="#ffcf78"/>
<circle cx="126.91" cy="273.10" r="1.35" fill="#ffcf78"/>
<circle cx="125.68" cy="273.05" r="1.35" fill="#ffcf78"/>
<circle cx="124.47" cy="272.70" r="1.35" fill="#ffcf78"/>
<circle cx="126.96" cy="272.64" r="1.35" fill="#ffcf78"/>
<circle cx="123.00" cy="272.69" r="1.35" fill="#ffcf78"/>
<circle cx="122.89" cy="272.60" r="1.35" fill="#ffcf78"/>
<circle cx="124.89" cy="272.90" r="1.35" fill="#ffcf78"/>
<circle cx="125.60" cy="272.43" r="1.35" fill="#ffcf78"/>
<circle cx="125.42" cy="272.31" r="1.35" fill="#ffcf78"/>
<circle cx="122.60" cy="272.60" r="1.35" fill="#ffcf78"/>
<circle cx="121.43" cy="272.38" r="1.35" fill="#ffcf78"/>
<circle cx="124.43" cy="272.38" r="1.35" fill="#ffcf78"/>
<circle cx="123.19" cy="272.17" r="1.35" fill="#ffcf78"/>
<circle cx="121.82" cy="272.01" r="1.35" fill="#ffcf78"/>
<circle cx="125.40" cy="272.19" r="1.35" fill="#ffcf78"/>
<circle cx="127.00" cy="272.06" r="1.35" fill="#ffcf78"/>
<circle cx="122.35" cy="271.93" r="1.35" fill="#ffcf78"/>
<circle cx="121.60" cy="271.85" r="1.35" fill="#ffcf78"/>
<circle cx="125.77" cy="271.34" r="1.35" fill="#ffcf78"/>
<circle cx="123.21" cy="271.27" r="1.35" fill="#ffcf78"/>
<circle cx="121.94" cy="271.01" r="1.35" fill="#ffcf78"/>
<circle cx="128.30" cy="271.21" r="1.35" fill="#ffcf78"/>
<circle cx="122.54" cy="271.01" r="1.35" fill="#ffcf78"/>
<circle cx="122.45" cy="270.65" r="1.35" fill="#ffcf78"/>
<circle cx="127.28" cy="270.56" r="1.35" fill="#ffcf78"/>
<circle cx="121.74" cy="270.72" r="1.35" fill="#ffcf78"/>
<circle cx="123.92" cy="270.82" r="1.35" fill="#ffcf78"/>
<circle cx="128.29" cy="270.77" r="1.35" fill="#ffcf78"/>
<circle cx="124.82" cy="270.27" r="1.35" fill="#ffcf78"/>
<circle cx="128.40" cy="270.32" r="1.35" fill="#ffcf78"/>
<circle cx="124.58" cy="269.86" r="1.35" fill="#ffcf78"/>
<circle cx="121.58" cy="269.74" r="1.35" fill="#ffcf78"/>
<circle cx="127.71" cy="269.74" r="1.35" fill="#ffcf78"/>
<circle cx="124.13" cy="269.49" r="1.35" fill="#ffcf78"/>
<circle cx="124.36" cy="269.58" r="1.35" fill="#ffcf78"/>
<circle cx="121.55" cy="269.00" r="1.35" fill="#ffcf78"/>
<circle cx="126.80" cy="269.13" r="1.35" fill="#ffcf78"/>
<circle cx="122.96" cy="269.20" r="1.35" fill="#ffcf78"/>
<circle cx="125.27" cy="269.05" r="1.35" fill="#ffcf78"/>
<circle cx="124.62" cy="268.44" r="1.35" fill="#ffcf78"/>
<circle cx="123.92" cy="268.76" r="1.35" fill="#ffcf78"/>
<circle cx="128.36" cy="268.03" r="1.35" fill="#ffcf78"/>
<circle cx="121.59" cy="268.08" r="1.35" fill="#ffcf78"/>
<circle cx="125.98" cy="267.80" r="1.35" fill="#ffcf78"/>
<circle cx="123.77" cy="267.28" r="1.35" fill="#ffcf78"/>
<circle cx="127.52" cy="267.09" r="1.35" fill="#ffcf78"/>
<circle cx="122.35" cy="266.47" r="1.35" fill="#ffcf78"/>
<circle cx="124.90" cy="265.30" r="1.35" fill="#ffcf78"/>
<circle cx="126.60" cy="264.83" r="1.35" fill="#ffcf78"/>
<circle cx="124.90" cy="263.46" r="1.35" fill="#ffcf78"/>
<circle cx="126.60" cy="263.32" r="1.35" fill="#ffcf78"/>
<circle cx="123.20" cy="262.80" r="1.35" fill="#ffcf78"/>
<circle cx="124.90" cy="257.56" r="1.35" fill="#ffcf78"/>
<circle cx="125.75" cy="256.25" r="1.35" fill="#ffcf78"/>
<circle cx="124.90" cy="253.39" r="1.35" fill="#ffcf78"/>
<circle cx="124.90" cy="245.33" r="1.35" fill="#ffcf78"/>
<circle cx="124.90" cy="242.64" r="1.35" fill="#ffcf78"/>
<circle cx="124.90" cy="232.78" r="1.35" fill="#ffcf78"/>
<line x1="121.90" y1="267.73" x2="127.90" y2="267.73" stroke="#000" stroke-width="0.8"/>
<line x1="123.10" y1="266.43" x2="126.70" y2="266.43" stroke="#000" stroke-width="0.55"/>
<line x1="123.10" y1="269.03" x2="126.70" y2="269.03" stroke="#000" stroke-width="0.55"/>
<line x1="124.90" y1="266.43" x2="124.90" y2="269.03" stroke="#000" stroke-width="0.55"/>
<line x1="124.90" y1="274.00" x2="124.90" y2="276.80" stroke="#000" stroke-width="1.1"/>
<text x="127.40" y="280.20" font-size="7.0" font-weight="bold" font-style="normal" text-anchor="end" fill="#000" transform="rotate(-46 127.40 280.20)">SLC2A10</text>
<circle cx="135.60" cy="273.70" r="1.35" fill="#000000"/>
<circle cx="137.30" cy="273.70" r="1.35" fill="#000000"/>
<circle cx="133.90" cy="273.16" r="1.35" fill="#000000"/>
<circle cx="136.45" cy="272.71" r="1.35" fill="#000000"/>
<circle cx="135.60" cy="270.73" r="1.35" fill="#000000"/>
<circle cx="135.60" cy="266.50" r="1.35" fill="#000000"/>
<circle cx="137.30" cy="265.38" r="1.35" fill="#000000"/>
<circle cx="133.90" cy="265.28" r="1.35" fill="#000000"/>
<circle cx="139.00" cy="265.02" r="1.35" fill="#000000"/>
<circle cx="135.60" cy="264.82" r="1.35" fill="#000000"/>
<circle cx="135.60" cy="263.21" r="1.35" fill="#000000"/>
<circle cx="137.30" cy="262.57" r="1.35" fill="#000000"/>
<circle cx="133.90" cy="262.50" r="1.35" fill="#000000"/>
<circle cx="135.60" cy="261.61" r="1.35" fill="#000000"/>
<circle cx="138.15" cy="261.28" r="1.35" fill="#000000"/>
<circle cx="133.05" cy="261.19" r="1.35" fill="#000000"/>
<circle cx="134.02" cy="260.54" r="1.35" fill="#000000"/>
<circle cx="134.92" cy="260.68" r="1.35" fill="#000000"/>
<circle cx="138.23" cy="260.52" r="1.35" fill="#000000"/>
<circle cx="134.10" cy="260.36" r="1.35" fill="#000000"/>
<circle cx="136.45" cy="260.08" r="1.35" fill="#000000"/>
<circle cx="132.20" cy="259.42" r="1.35" fill="#000000"/>
<circle cx="133.55" cy="259.21" r="1.35" fill="#000000"/>
<circle cx="139.00" cy="259.22" r="1.35" fill="#000000"/>
<circle cx="135.60" cy="258.82" r="1.35" fill="#000000"/>
<circle cx="137.30" cy="258.56" r="1.35" fill="#000000"/>
<circle cx="132.18" cy="258.14" r="1.35" fill="#000000"/>
<circle cx="136.07" cy="257.69" r="1.35" fill="#000000"/>
<circle cx="133.90" cy="257.66" r="1.35" fill="#000000"/>
<circle cx="139.00" cy="257.41" r="1.35" fill="#000000"/>
<circle cx="139.02" cy="257.12" r="1.35" fill="#000000"/>
<circle cx="135.60" cy="255.42" r="1.35" fill="#000000"/>
<circle cx="137.30" cy="255.28" r="1.35" fill="#000000"/>
<circle cx="133.90" cy="255.15" r="1.35" fill="#000000"/>
<circle cx="139.00" cy="254.92" r="1.35" fill="#000000"/>
<circle cx="132.20" cy="254.83" r="1.35" fill="#000000"/>
<circle cx="136.83" cy="253.75" r="1.35" fill="#000000"/>
<circle cx="133.56" cy="253.76" r="1.35" fill="#000000"/>
<circle cx="136.80" cy="252.93" r="1.35" fill="#000000"/>
<circle cx="139.00" cy="253.24" r="1.35" fill="#000000"/>
<circle cx="134.75" cy="252.59" r="1.35" fill="#000000"/>
<circle cx="133.05" cy="252.24" r="1.35" fill="#000000"/>
<circle cx="138.25" cy="252.08" r="1.35" fill="#000000"/>
<circle cx="136.55" cy="252.02" r="1.35" fill="#000000"/>
<circle cx="135.08" cy="251.24" r="1.35" fill="#000000"/>
<circle cx="132.43" cy="250.93" r="1.35" fill="#000000"/>
<circle cx="134.36" cy="250.73" r="1.35" fill="#000000"/>
<circle cx="139.00" cy="250.76" r="1.35" fill="#000000"/>
<circle cx="135.60" cy="249.34" r="1.35" fill="#000000"/>
<circle cx="136.45" cy="247.92" r="1.35" fill="#000000"/>
<circle cx="134.75" cy="247.62" r="1.35" fill="#000000"/>
<circle cx="138.15" cy="247.45" r="1.35" fill="#000000"/>
<circle cx="133.05" cy="247.28" r="1.35" fill="#000000"/>
<circle cx="134.01" cy="246.44" r="1.35" fill="#000000"/>
<circle cx="135.60" cy="246.05" r="1.35" fill="#000000"/>
<circle cx="137.30" cy="245.87" r="1.35" fill="#000000"/>
<circle cx="133.05" cy="245.20" r="1.35" fill="#000000"/>
<circle cx="136.45" cy="244.56" r="1.35" fill="#000000"/>
<circle cx="134.75" cy="244.24" r="1.35" fill="#000000"/>
<circle cx="138.15" cy="244.08" r="1.35" fill="#000000"/>
<circle cx="135.60" cy="241.79" r="1.35" fill="#000000"/>
<circle cx="137.30" cy="240.78" r="1.35" fill="#000000"/>
<circle cx="134.75" cy="240.55" r="1.35" fill="#000000"/>
<circle cx="135.60" cy="237.70" r="1.35" fill="#000000"/>
<line x1="132.60" y1="256.98" x2="138.60" y2="256.98" stroke="#000" stroke-width="0.8"/>
<line x1="133.80" y1="255.68" x2="137.40" y2="255.68" stroke="#000" stroke-width="0.55"/>
<line x1="133.80" y1="258.28" x2="137.40" y2="258.28" stroke="#000" stroke-width="0.55"/>
<line x1="135.60" y1="255.68" x2="135.60" y2="258.28" stroke="#000" stroke-width="0.55"/>
<line x1="135.60" y1="274.00" x2="135.60" y2="276.80" stroke="#000" stroke-width="1.1"/>
<text x="138.10" y="280.20" font-size="7.0" font-weight="bold" font-style="normal" text-anchor="end" fill="#000" transform="rotate(-46 138.10 280.20)">SLC2A12</text>
<text x="234.0" y="183.3" font-size="7.85" font-weight="bold" text-anchor="middle">HNSCC Human <tspan fill="#b01c1c">Tumor</tspan></text>
<text x="233.80" y="193.40" font-size="7.85" font-weight="bold" font-style="normal" text-anchor="middle" fill="#000">Tissue Samples</text>
<line x1="186.80" y1="195.00" x2="186.80" y2="274.60" stroke="#000" stroke-width="1.1"/>
<line x1="183.80" y1="274.00" x2="186.80" y2="274.00" stroke="#000" stroke-width="1.0"/>
<text x="183.20" y="276.00" font-size="5.5" font-weight="bold" font-style="normal" text-anchor="end" fill="#000">0</text>
<line x1="183.80" y1="254.38" x2="186.80" y2="254.38" stroke="#000" stroke-width="1.0"/>
<text x="183.20" y="256.38" font-size="5.5" font-weight="bold" font-style="normal" text-anchor="end" fill="#000">0.05</text>
<line x1="183.80" y1="234.75" x2="186.80" y2="234.75" stroke="#000" stroke-width="1.0"/>
<text x="183.20" y="236.75" font-size="5.5" font-weight="bold" font-style="normal" text-anchor="end" fill="#000">0.1</text>
<line x1="183.80" y1="215.12" x2="186.80" y2="215.12" stroke="#000" stroke-width="1.0"/>
<text x="183.20" y="217.12" font-size="5.5" font-weight="bold" font-style="normal" text-anchor="end" fill="#000">0.15</text>
<line x1="183.80" y1="195.50" x2="186.80" y2="195.50" stroke="#000" stroke-width="1.0"/>
<text x="183.20" y="197.50" font-size="5.5" font-weight="bold" font-style="normal" text-anchor="end" fill="#000">0.2</text>
<line x1="186.30" y1="274.00" x2="270.00" y2="274.00" stroke="#000" stroke-width="1.2"/>
<text x="159.70" y="234.75" font-size="6.0" font-weight="bold" font-style="normal" text-anchor="middle" fill="#000" transform="rotate(-90 159.70 234.75)">Relative Expression</text>
<text x="167.00" y="234.75" font-size="6.0" font-weight="bold" font-style="normal" text-anchor="middle" fill="#000" transform="rotate(-90 167.00 234.75)">(Normalized to UBC)</text>
<line x1="193.90" y1="274.00" x2="193.90" y2="277.00" stroke="#000" stroke-width="1.0"/>
<text x="195.70" y="281.20" font-size="6.2" font-weight="bold" font-style="normal" text-anchor="end" fill="#000" transform="rotate(-45 195.70 281.20)">GLUT 1 (SLC2A1)</text>
<line x1="207.40" y1="274.00" x2="207.40" y2="277.00" stroke="#000" stroke-width="1.0"/>
<text x="209.20" y="281.20" font-size="6.2" font-weight="bold" font-style="normal" text-anchor="end" fill="#000" transform="rotate(-45 209.20 281.20)">GLUT 2 (SLC2A2)</text>
<line x1="221.20" y1="274.00" x2="221.20" y2="277.00" stroke="#000" stroke-width="1.0"/>
<text x="223.00" y="281.20" font-size="6.2" font-weight="bold" font-style="normal" text-anchor="end" fill="#000" transform="rotate(-45 223.00 281.20)">GLUT 6 (SLC2A6)</text>
<line x1="234.80" y1="274.00" x2="234.80" y2="277.00" stroke="#000" stroke-width="1.0"/>
<text x="236.60" y="281.20" font-size="6.2" font-weight="bold" font-style="normal" text-anchor="end" fill="#000" transform="rotate(-45 236.60 281.20)">GLUT 8 (SLC2A8)</text>
<line x1="248.40" y1="274.00" x2="248.40" y2="277.00" stroke="#000" stroke-width="1.0"/>
<text x="250.20" y="281.20" font-size="6.2" font-weight="bold" font-style="normal" text-anchor="end" fill="#000" transform="rotate(-45 250.20 281.20)">GLUT 9 (SLC2A9)</text>
<line x1="261.80" y1="274.00" x2="261.80" y2="277.00" stroke="#000" stroke-width="1.0"/>
<text x="263.60" y="281.20" font-size="6.2" font-weight="bold" font-style="normal" text-anchor="end" fill="#000" transform="rotate(-45 263.60 281.20)">GLUT 12 (SLC2A12)</text>
<line x1="193.90" y1="224.15" x2="193.90" y2="274.00" stroke="#555" stroke-width="0.9"/>
<line x1="191.70" y1="224.15" x2="196.10" y2="224.15" stroke="#000" stroke-width="0.9"/>
<rect x="189.70" y="249.66" width="8.40" height="24.34" fill="#d5b085" stroke="#000" stroke-width="0.9"/>
<line x1="193.90" y1="224.15" x2="193.90" y2="249.66" stroke="#555" stroke-width="0.9"/>
<circle cx="193.90" cy="208.45" r="1.40" fill="#000"/>
<circle cx="193.90" cy="243.38" r="1.40" fill="#000"/>
<circle cx="193.90" cy="255.16" r="1.40" fill="#000"/>
<circle cx="191.90" cy="269.29" r="1.40" fill="#000"/>
<circle cx="195.90" cy="268.90" r="1.40" fill="#000"/>
<rect x="203.20" y="273.61" width="8.40" height="0.39" fill="#000" stroke="#000" stroke-width="0.9"/>
<circle cx="204.60" cy="273.53" r="1.40" fill="#000"/>
<circle cx="206.00" cy="273.14" r="1.40" fill="#000"/>
<circle cx="207.40" cy="273.69" r="1.40" fill="#000"/>
<circle cx="208.80" cy="273.29" r="1.40" fill="#000"/>
<circle cx="210.20" cy="273.61" r="1.40" fill="#000"/>
<rect x="217.00" y="272.82" width="8.40" height="1.18" fill="#000" stroke="#000" stroke-width="0.9"/>
<circle cx="218.40" cy="272.59" r="1.40" fill="#000"/>
<circle cx="219.80" cy="271.41" r="1.40" fill="#000"/>
<circle cx="221.20" cy="273.06" r="1.40" fill="#000"/>
<circle cx="222.60" cy="271.88" r="1.40" fill="#000"/>
<circle cx="224.00" cy="272.82" r="1.40" fill="#000"/>
<rect x="230.60" y="272.43" width="8.40" height="1.57" fill="#000" stroke="#000" stroke-width="0.9"/>
<circle cx="232.00" cy="272.35" r="1.40" fill="#000"/>
<circle cx="233.40" cy="270.98" r="1.40" fill="#000"/>
<circle cx="234.80" cy="272.90" r="1.40" fill="#000"/>
<circle cx="236.20" cy="271.53" r="1.40" fill="#000"/>
<circle cx="237.60" cy="272.63" r="1.40" fill="#000"/>
<rect x="244.20" y="272.43" width="8.40" height="1.57" fill="#000" stroke="#000" stroke-width="0.9"/>
<circle cx="245.60" cy="272.35" r="1.40" fill="#000"/>
<circle cx="247.00" cy="270.98" r="1.40" fill="#000"/>
<circle cx="248.40" cy="272.90" r="1.40" fill="#000"/>
<circle cx="249.80" cy="271.53" r="1.40" fill="#000"/>
<circle cx="251.20" cy="272.63" r="1.40" fill="#000"/>
<rect x="257.60" y="272.43" width="8.40" height="1.57" fill="#000" stroke="#000" stroke-width="0.9"/>
<circle cx="259.00" cy="272.12" r="1.40" fill="#000"/>
<circle cx="260.40" cy="270.55" r="1.40" fill="#000"/>
<circle cx="261.80" cy="272.74" r="1.40" fill="#000"/>
<circle cx="263.20" cy="271.17" r="1.40" fill="#000"/>
<circle cx="264.60" cy="272.43" r="1.40" fill="#000"/>
<text x="358.9" y="182.2" font-size="7.85" font-weight="bold" text-anchor="middle">HNSCC Human <tspan fill="#b01c1c">Normal</tspan></text>
<text x="358.90" y="192.30" font-size="7.85" font-weight="bold" font-style="normal" text-anchor="middle" fill="#000">Tissue Samples</text>
<line x1="313.30" y1="195.00" x2="313.30" y2="274.50" stroke="#000" stroke-width="1.1"/>
<line x1="310.30" y1="273.90" x2="313.30" y2="273.90" stroke="#000" stroke-width="1.0"/>
<text x="309.70" y="275.90" font-size="5.5" font-weight="bold" font-style="normal" text-anchor="end" fill="#000">0</text>
<line x1="310.30" y1="254.30" x2="313.30" y2="254.30" stroke="#000" stroke-width="1.0"/>
<text x="309.70" y="256.30" font-size="5.5" font-weight="bold" font-style="normal" text-anchor="end" fill="#000">0.05</text>
<line x1="310.30" y1="234.70" x2="313.30" y2="234.70" stroke="#000" stroke-width="1.0"/>
<text x="309.70" y="236.70" font-size="5.5" font-weight="bold" font-style="normal" text-anchor="end" fill="#000">0.1</text>
<line x1="310.30" y1="215.10" x2="313.30" y2="215.10" stroke="#000" stroke-width="1.0"/>
<text x="309.70" y="217.10" font-size="5.5" font-weight="bold" font-style="normal" text-anchor="end" fill="#000">0.15</text>
<line x1="310.30" y1="195.50" x2="313.30" y2="195.50" stroke="#000" stroke-width="1.0"/>
<text x="309.70" y="197.50" font-size="5.5" font-weight="bold" font-style="normal" text-anchor="end" fill="#000">0.2</text>
<line x1="312.80" y1="273.90" x2="396.70" y2="273.90" stroke="#000" stroke-width="1.2"/>
<text x="286.70" y="234.70" font-size="6.0" font-weight="bold" font-style="normal" text-anchor="middle" fill="#000" transform="rotate(-90 286.70 234.70)">Relative Expression</text>
<text x="293.90" y="234.70" font-size="6.0" font-weight="bold" font-style="normal" text-anchor="middle" fill="#000" transform="rotate(-90 293.90 234.70)">(Normalized to UBC)</text>
<line x1="320.50" y1="273.90" x2="320.50" y2="276.90" stroke="#000" stroke-width="1.0"/>
<text x="322.30" y="281.10" font-size="6.2" font-weight="bold" font-style="normal" text-anchor="end" fill="#000" transform="rotate(-45 322.30 281.10)">GLUT 1 (SLC2A1)</text>
<line x1="333.80" y1="273.90" x2="333.80" y2="276.90" stroke="#000" stroke-width="1.0"/>
<text x="335.60" y="281.10" font-size="6.2" font-weight="bold" font-style="normal" text-anchor="end" fill="#000" transform="rotate(-45 335.60 281.10)">GLUT 2 (SLC2A2)</text>
<line x1="347.60" y1="273.90" x2="347.60" y2="276.90" stroke="#000" stroke-width="1.0"/>
<text x="349.40" y="281.10" font-size="6.2" font-weight="bold" font-style="normal" text-anchor="end" fill="#000" transform="rotate(-45 349.40 281.10)">GLUT 6 (SLC2A6)</text>
<line x1="361.00" y1="273.90" x2="361.00" y2="276.90" stroke="#000" stroke-width="1.0"/>
<text x="362.80" y="281.10" font-size="6.2" font-weight="bold" font-style="normal" text-anchor="end" fill="#000" transform="rotate(-45 362.80 281.10)">GLUT 8 (SLC2A8)</text>
<line x1="375.00" y1="273.90" x2="375.00" y2="276.90" stroke="#000" stroke-width="1.0"/>
<text x="376.80" y="281.10" font-size="6.2" font-weight="bold" font-style="normal" text-anchor="end" fill="#000" transform="rotate(-45 376.80 281.10)">GLUT 9 (SLC2A9)</text>
<line x1="389.30" y1="273.90" x2="389.30" y2="276.90" stroke="#000" stroke-width="1.0"/>
<text x="391.10" y="281.10" font-size="6.2" font-weight="bold" font-style="normal" text-anchor="end" fill="#000" transform="rotate(-45 391.10 281.10)">GLUT 12 (SLC2A12)</text>
<line x1="320.50" y1="259.79" x2="320.50" y2="266.84" stroke="#555" stroke-width="0.9"/>
<line x1="318.30" y1="259.79" x2="322.70" y2="259.79" stroke="#000" stroke-width="0.9"/>
<rect x="316.30" y="263.32" width="8.40" height="10.58" fill="#d5b085" stroke="#000" stroke-width="0.9"/>
<line x1="320.50" y1="259.79" x2="320.50" y2="263.32" stroke="#555" stroke-width="0.9"/>
<circle cx="320.50" cy="257.44" r="1.40" fill="#000"/>
<circle cx="319.00" cy="263.32" r="1.40" fill="#000"/>
<circle cx="322.00" cy="265.28" r="1.40" fill="#000"/>
<circle cx="320.50" cy="266.06" r="1.40" fill="#000"/>
<circle cx="321.50" cy="266.84" r="1.40" fill="#000"/>
<rect x="329.60" y="273.70" width="8.40" height="0.20" fill="#000" stroke="#000" stroke-width="0.9"/>
<circle cx="331.00" cy="273.66" r="1.40" fill="#000"/>
<circle cx="332.40" cy="273.47" r="1.40" fill="#000"/>
<circle cx="333.80" cy="273.74" r="1.40" fill="#000"/>
<circle cx="335.20" cy="273.55" r="1.40" fill="#000"/>
<circle cx="336.60" cy="273.70" r="1.40" fill="#000"/>
<rect x="343.40" y="273.31" width="8.40" height="0.59" fill="#000" stroke="#000" stroke-width="0.9"/>
<circle cx="344.80" cy="273.19" r="1.40" fill="#000"/>
<circle cx="346.20" cy="272.61" r="1.40" fill="#000"/>
<circle cx="347.60" cy="273.43" r="1.40" fill="#000"/>
<circle cx="349.00" cy="272.84" r="1.40" fill="#000"/>
<circle cx="350.40" cy="273.31" r="1.40" fill="#000"/>
<rect x="356.80" y="273.31" width="8.40" height="0.59" fill="#000" stroke="#000" stroke-width="0.9"/>
<circle cx="358.20" cy="273.19" r="1.40" fill="#000"/>
<circle cx="359.60" cy="272.61" r="1.40" fill="#000"/>
<circle cx="361.00" cy="273.43" r="1.40" fill="#000"/>
<circle cx="362.40" cy="272.84" r="1.40" fill="#000"/>
<circle cx="363.80" cy="273.31" r="1.40" fill="#000"/>
<rect x="370.80" y="273.31" width="8.40" height="0.59" fill="#000" stroke="#000" stroke-width="0.9"/>
<circle cx="372.20" cy="273.19" r="1.40" fill="#000"/>
<circle cx="373.60" cy="272.61" r="1.40" fill="#000"/>
<circle cx="375.00" cy="273.43" r="1.40" fill="#000"/>
<circle cx="376.40" cy="272.84" r="1.40" fill="#000"/>
<circle cx="377.80" cy="273.31" r="1.40" fill="#000"/>
<line x1="389.30" y1="269.20" x2="389.30" y2="272.33" stroke="#555" stroke-width="0.9"/>
<line x1="387.10" y1="269.20" x2="391.50" y2="269.20" stroke="#000" stroke-width="0.9"/>
<rect x="385.10" y="270.37" width="8.40" height="3.53" fill="#666" stroke="#000" stroke-width="0.9"/>
<line x1="389.30" y1="269.20" x2="389.30" y2="270.37" stroke="#555" stroke-width="0.9"/>
<circle cx="389.30" cy="269.59" r="1.40" fill="#000"/>
<circle cx="387.30" cy="270.76" r="1.40" fill="#000"/>
<circle cx="391.30" cy="270.37" r="1.40" fill="#000"/>
<circle cx="388.30" cy="271.94" r="1.40" fill="#000"/>
<circle cx="390.30" cy="271.55" r="1.40" fill="#000"/>
<text x="160.60" y="178.20" font-size="17.5" font-weight="bold" font-style="normal" text-anchor="start" fill="#111" stroke="#fff" stroke-width="0.22">F</text>
<text x="290.50" y="178.10" font-size="17.8" font-weight="bold" font-style="normal" text-anchor="start" fill="#111">G</text>
<text x="421.60" y="178.10" font-size="18.2" font-weight="bold" font-style="normal" text-anchor="start" fill="#111">H</text>
<line x1="448.20" y1="183.90" x2="448.20" y2="275.20" stroke="#000" stroke-width="1.2"/>
<line x1="445.00" y1="274.60" x2="448.20" y2="274.60" stroke="#000" stroke-width="1.1"/>
<text x="444.40" y="276.80" font-size="6.2" font-weight="bold" font-style="normal" text-anchor="end" fill="#000">0.00</text>
<line x1="445.00" y1="252.05" x2="448.20" y2="252.05" stroke="#000" stroke-width="1.1"/>
<text x="444.40" y="254.25" font-size="6.2" font-weight="bold" font-style="normal" text-anchor="end" fill="#000">0.05</text>
<line x1="445.00" y1="229.50" x2="448.20" y2="229.50" stroke="#000" stroke-width="1.1"/>
<text x="444.40" y="231.70" font-size="6.2" font-weight="bold" font-style="normal" text-anchor="end" fill="#000">0.10</text>
<line x1="445.00" y1="206.95" x2="448.20" y2="206.95" stroke="#000" stroke-width="1.1"/>
<text x="444.40" y="209.15" font-size="6.2" font-weight="bold" font-style="normal" text-anchor="end" fill="#000">0.15</text>
<line x1="445.00" y1="184.40" x2="448.20" y2="184.40" stroke="#000" stroke-width="1.1"/>
<text x="444.40" y="186.60" font-size="6.2" font-weight="bold" font-style="normal" text-anchor="end" fill="#000">0.20</text>
<line x1="447.70" y1="274.60" x2="530.00" y2="274.60" stroke="#000" stroke-width="1.4"/>
<text x="421.20" y="233.00" font-size="6.55" font-weight="bold" font-style="normal" text-anchor="middle" fill="#000" transform="rotate(-90 421.20 233.00)">Relative Expression</text>
<text x="428.60" y="233.00" font-size="6.55" font-weight="bold" font-style="normal" text-anchor="middle" fill="#000" transform="rotate(-90 428.60 233.00)">(Normalized to UBC)</text>
<line x1="468.90" y1="199.28" x2="510.00" y2="265.13" stroke="#000" stroke-width="1.2"/>
<line x1="468.90" y1="239.42" x2="510.00" y2="264.23" stroke="#000" stroke-width="1.2"/>
<line x1="468.90" y1="252.95" x2="510.00" y2="255.66" stroke="#000" stroke-width="1.2"/>
<line x1="468.90" y1="268.51" x2="510.00" y2="262.42" stroke="#000" stroke-width="1.2"/>
<line x1="468.90" y1="270.99" x2="510.00" y2="266.03" stroke="#000" stroke-width="1.2"/>
<circle cx="468.90" cy="199.28" r="1.60" fill="#b0281e"/>
<circle cx="510.00" cy="265.13" r="1.60" fill="#2a6fb5"/>
<circle cx="468.90" cy="239.42" r="1.60" fill="#b0281e"/>
<circle cx="510.00" cy="264.23" r="1.60" fill="#2a6fb5"/>
<circle cx="468.90" cy="252.95" r="1.60" fill="#b0281e"/>
<circle cx="510.00" cy="255.66" r="1.60" fill="#2a6fb5"/>
<circle cx="468.90" cy="268.51" r="1.60" fill="#b0281e"/>
<circle cx="510.00" cy="262.42" r="1.60" fill="#2a6fb5"/>
<circle cx="468.90" cy="270.99" r="1.60" fill="#b0281e"/>
<circle cx="510.00" cy="266.03" r="1.60" fill="#2a6fb5"/>
<line x1="468.90" y1="193.30" x2="510.00" y2="193.30" stroke="#000" stroke-width="1.1"/>
<line x1="468.90" y1="193.30" x2="468.90" y2="197.00" stroke="#000" stroke-width="1.1"/>
<line x1="510.00" y1="193.30" x2="510.00" y2="254.16" stroke="#000" stroke-width="1.1"/>
<text x="489.50" y="190.00" font-size="3.8" font-weight="normal" font-style="normal" text-anchor="middle" fill="#000">ns</text>
<line x1="468.90" y1="274.60" x2="468.90" y2="277.60" stroke="#000" stroke-width="1.1"/>
<line x1="510.00" y1="274.60" x2="510.00" y2="277.60" stroke="#000" stroke-width="1.1"/>
<text x="470.70" y="281.60" font-size="6.5" font-weight="bold" font-style="normal" text-anchor="end" fill="#000" transform="rotate(-45 470.70 281.60)">GLUT1 Tumor Tissue</text>
<text x="511.80" y="281.60" font-size="6.5" font-weight="bold" font-style="normal" text-anchor="end" fill="#000" transform="rotate(-45 511.80 281.60)">GLUT1 Normal Tissue</text>
<text x="61.30" y="340.60" font-size="17.5" font-weight="bold" font-style="normal" text-anchor="start" fill="#111">I</text>
<text x="108.80" y="336.70" font-size="10.2" font-weight="bold" font-style="italic" text-anchor="start" fill="#000">SLC2A1</text>
<rect x="95.5" y="344.5" width="84.69999999999999" height="141.10000000000002" fill="none" stroke="#6e6e6e" stroke-width="0.8"/>
<line x1="92.90" y1="467.90" x2="95.50" y2="467.90" stroke="#555" stroke-width="0.6"/>
<text x="89.20" y="467.90" font-size="4.1" font-weight="normal" font-style="normal" text-anchor="middle" fill="#222" transform="rotate(-90 89.20 467.90)">4</text>
<line x1="92.90" y1="444.30" x2="95.50" y2="444.30" stroke="#555" stroke-width="0.6"/>
<text x="89.20" y="444.30" font-size="4.1" font-weight="normal" font-style="normal" text-anchor="middle" fill="#222" transform="rotate(-90 89.20 444.30)">6</text>
<line x1="92.90" y1="420.70" x2="95.50" y2="420.70" stroke="#555" stroke-width="0.6"/>
<text x="89.20" y="420.70" font-size="4.1" font-weight="normal" font-style="normal" text-anchor="middle" fill="#222" transform="rotate(-90 89.20 420.70)">8</text>
<line x1="92.90" y1="397.10" x2="95.50" y2="397.10" stroke="#555" stroke-width="0.6"/>
<text x="89.20" y="397.10" font-size="4.1" font-weight="normal" font-style="normal" text-anchor="middle" fill="#222" transform="rotate(-90 89.20 397.10)">10</text>
<line x1="92.90" y1="373.50" x2="95.50" y2="373.50" stroke="#555" stroke-width="0.6"/>
<text x="89.20" y="373.50" font-size="4.1" font-weight="normal" font-style="normal" text-anchor="middle" fill="#222" transform="rotate(-90 89.20 373.50)">12</text>
<line x1="92.90" y1="349.90" x2="95.50" y2="349.90" stroke="#555" stroke-width="0.6"/>
<text x="89.20" y="349.90" font-size="4.1" font-weight="normal" font-style="normal" text-anchor="middle" fill="#222" transform="rotate(-90 89.20 349.90)">14</text>
<text x="71.4" y="415.8" font-size="10.2" text-anchor="middle" transform="rotate(-90 71.4 415.8)">Expression [log<tspan font-size="6.5" dy="2">2</tspan><tspan dy="-2">(TPM + 1)]</tspan></text>
<line x1="137.60" y1="485.60" x2="137.60" y2="488.00" stroke="#555" stroke-width="0.6"/>
<text x="137.30" y="496.20" font-size="4.2" font-weight="normal" font-style="normal" text-anchor="middle" fill="#222">HNSC</text>
<text x="137.80" y="502.00" font-size="4.65" font-weight="normal" font-style="normal" text-anchor="middle" fill="#222">(num(T)=519; num(N)=44)</text>
<line x1="125.00" y1="372.32" x2="125.00" y2="439.58" stroke="#444" stroke-width="0.5" stroke-dasharray="1,0.8"/>
<rect x="114.50" y="397.10" width="21.00" height="16.99" fill="#f85b5b" stroke="#555" stroke-width="0.5"/>
<line x1="114.50" y1="404.18" x2="135.50" y2="404.18" stroke="#222" stroke-width="0.9"/>
<line x1="119.80" y1="372.32" x2="130.20" y2="372.32" stroke="#444" stroke-width="0.6"/>
<line x1="119.80" y1="439.58" x2="130.20" y2="439.58" stroke="#444" stroke-width="0.6"/>
<line x1="150.90" y1="405.36" x2="150.90" y2="479.70" stroke="#444" stroke-width="0.5" stroke-dasharray="1,0.8"/>
<rect x="140.40" y="419.52" width="21.20" height="25.96" fill="#828282" stroke="#555" stroke-width="0.5"/>
<line x1="140.40" y1="428.37" x2="161.60" y2="428.37" stroke="#111" stroke-width="0.9"/>
<line x1="146.00" y1="405.36" x2="155.80" y2="405.36" stroke="#444" stroke-width="0.6"/>
<line x1="146.00" y1="479.70" x2="155.80" y2="479.70" stroke="#444" stroke-width="0.6"/>
<path d="M123.9 353 L123.9 349.4 L150.9 349.4 L150.9 401.3" fill="none" stroke="#999" stroke-width="0.6"/>
<text x="137.70" y="351.80" font-size="5.0" font-weight="bold" font-style="normal" text-anchor="middle" fill="#ff2020">*</text>
<circle cx="126.95" cy="417.98" r="0.62" fill="#000"/>
<circle cx="127.92" cy="417.64" r="0.62" fill="#000"/>
<circle cx="121.89" cy="406.38" r="0.62" fill="#000"/>
<circle cx="124.77" cy="430.06" r="0.62" fill="#000"/>
<circle cx="127.65" cy="389.57" r="0.62" fill="#000"/>
<circle cx="122.45" cy="410.42" r="0.62" fill="#000"/>
<circle cx="125.29" cy="413.05" r="0.62" fill="#000"/>
<circle cx="125.49" cy="403.14" r="0.62" fill="#000"/>
<circle cx="123.54" cy="396.96" r="0.62" fill="#000"/>
<circle cx="127.75" cy="404.13" r="0.62" fill="#000"/>
<circle cx="126.96" cy="404.12" r="0.62" fill="#000"/>
<circle cx="122.62" cy="411.35" r="0.62" fill="#000"/>
<circle cx="121.71" cy="409.09" r="0.62" fill="#000"/>
<circle cx="127.45" cy="408.70" r="0.62" fill="#000"/>
<circle cx="128.18" cy="402.80" r="0.62" fill="#000"/>
<circle cx="127.46" cy="397.21" r="0.62" fill="#000"/>
<circle cx="125.26" cy="411.76" r="0.62" fill="#000"/>
<circle cx="126.17" cy="377.03" r="0.62" fill="#000"/>
<circle cx="126.26" cy="397.29" r="0.62" fill="#000"/>
<circle cx="128.08" cy="379.17" r="0.62" fill="#000"/>
<circle cx="124.08" cy="397.35" r="0.62" fill="#000"/>
<circle cx="122.80" cy="410.62" r="0.62" fill="#000"/>
<circle cx="123.69" cy="402.26" r="0.62" fill="#000"/>
<circle cx="125.68" cy="401.51" r="0.62" fill="#000"/>
<circle cx="123.93" cy="387.90" r="0.62" fill="#000"/>
<circle cx="123.75" cy="404.41" r="0.62" fill="#000"/>
<circle cx="123.78" cy="399.41" r="0.62" fill="#000"/>
<circle cx="124.88" cy="416.43" r="0.62" fill="#000"/>
<circle cx="128.14" cy="405.85" r="0.62" fill="#000"/>
<circle cx="121.85" cy="408.46" r="0.62" fill="#000"/>
<circle cx="121.82" cy="404.80" r="0.62" fill="#000"/>
<circle cx="126.90" cy="426.41" r="0.62" fill="#000"/>
<circle cx="121.76" cy="414.60" r="0.62" fill="#000"/>
<circle cx="122.01" cy="393.79" r="0.62" fill="#000"/>
<circle cx="123.00" cy="393.02" r="0.62" fill="#000"/>
<circle cx="126.69" cy="379.42" r="0.62" fill="#000"/>
<circle cx="123.97" cy="380.59" r="0.62" fill="#000"/>
<circle cx="124.04" cy="416.21" r="0.62" fill="#000"/>
<circle cx="122.41" cy="423.92" r="0.62" fill="#000"/>
<circle cx="126.64" cy="407.77" r="0.62" fill="#000"/>
<circle cx="121.94" cy="398.27" r="0.62" fill="#000"/>
<circle cx="127.94" cy="426.02" r="0.62" fill="#000"/>
<circle cx="125.73" cy="396.17" r="0.62" fill="#000"/>
<circle cx="127.76" cy="399.22" r="0.62" fill="#000"/>
<circle cx="125.30" cy="418.41" r="0.62" fill="#000"/>
<circle cx="123.76" cy="383.27" r="0.62" fill="#000"/>
<circle cx="122.22" cy="407.63" r="0.62" fill="#000"/>
<circle cx="122.68" cy="398.37" r="0.62" fill="#000"/>
<circle cx="122.77" cy="418.91" r="0.62" fill="#000"/>
<circle cx="125.22" cy="381.61" r="0.62" fill="#000"/>
<circle cx="124.38" cy="394.87" r="0.62" fill="#000"/>
<circle cx="127.15" cy="403.57" r="0.62" fill="#000"/>
<circle cx="124.71" cy="389.77" r="0.62" fill="#000"/>
<circle cx="127.75" cy="408.12" r="0.62" fill="#000"/>
<circle cx="121.92" cy="402.98" r="0.62" fill="#000"/>
<circle cx="122.56" cy="426.16" r="0.62" fill="#000"/>
<circle cx="126.53" cy="403.90" r="0.62" fill="#000"/>
<circle cx="126.90" cy="389.73" r="0.62" fill="#000"/>
<circle cx="122.40" cy="409.68" r="0.62" fill="#000"/>
<circle cx="127.28" cy="410.61" r="0.62" fill="#000"/>
<circle cx="123.65" cy="402.22" r="0.62" fill="#000"/>
<circle cx="127.32" cy="395.64" r="0.62" fill="#000"/>
<circle cx="124.92" cy="392.59" r="0.62" fill="#000"/>
<circle cx="126.51" cy="406.62" r="0.62" fill="#000"/>
<circle cx="124.37" cy="413.99" r="0.62" fill="#000"/>
<circle cx="122.67" cy="403.55" r="0.62" fill="#000"/>
<circle cx="128.03" cy="428.73" r="0.62" fill="#000"/>
<circle cx="125.84" cy="381.41" r="0.62" fill="#000"/>
<circle cx="122.29" cy="414.96" r="0.62" fill="#000"/>
<circle cx="123.50" cy="404.73" r="0.62" fill="#000"/>
<circle cx="124.08" cy="400.27" r="0.62" fill="#000"/>
<circle cx="126.89" cy="426.85" r="0.62" fill="#000"/>
<circle cx="126.08" cy="402.08" r="0.62" fill="#000"/>
<circle cx="126.71" cy="421.82" r="0.62" fill="#000"/>
<circle cx="123.55" cy="416.22" r="0.62" fill="#000"/>
<circle cx="124.91" cy="391.53" r="0.62" fill="#000"/>
<circle cx="123.64" cy="402.64" r="0.62" fill="#000"/>
<circle cx="127.94" cy="421.82" r="0.62" fill="#000"/>
<circle cx="121.78" cy="413.48" r="0.62" fill="#000"/>
<circle cx="125.31" cy="416.71" r="0.62" fill="#000"/>
<circle cx="124.76" cy="404.84" r="0.62" fill="#000"/>
<circle cx="127.09" cy="388.04" r="0.62" fill="#000"/>
<circle cx="124.00" cy="416.81" r="0.62" fill="#000"/>
<circle cx="125.95" cy="420.79" r="0.62" fill="#000"/>
<circle cx="124.01" cy="406.38" r="0.62" fill="#000"/>
<circle cx="127.26" cy="425.75" r="0.62" fill="#000"/>
<circle cx="128.14" cy="393.06" r="0.62" fill="#000"/>
<circle cx="128.01" cy="417.25" r="0.62" fill="#000"/>
<circle cx="122.80" cy="418.44" r="0.62" fill="#000"/>
<circle cx="127.22" cy="406.34" r="0.62" fill="#000"/>
<circle cx="126.26" cy="392.98" r="0.62" fill="#000"/>
<circle cx="126.45" cy="409.66" r="0.62" fill="#000"/>
<circle cx="126.85" cy="405.62" r="0.62" fill="#000"/>
<circle cx="125.53" cy="411.60" r="0.62" fill="#000"/>
<circle cx="125.82" cy="410.70" r="0.62" fill="#000"/>
<circle cx="126.81" cy="414.87" r="0.62" fill="#000"/>
<circle cx="121.88" cy="416.45" r="0.62" fill="#000"/>
<circle cx="122.76" cy="418.33" r="0.62" fill="#000"/>
<circle cx="123.15" cy="419.91" r="0.62" fill="#000"/>
<circle cx="126.23" cy="398.89" r="0.62" fill="#000"/>
<circle cx="124.81" cy="407.00" r="0.62" fill="#000"/>
<circle cx="123.19" cy="407.17" r="0.62" fill="#000"/>
<circle cx="123.79" cy="399.11" r="0.62" fill="#000"/>
<circle cx="122.90" cy="402.77" r="0.62" fill="#000"/>
<circle cx="124.77" cy="403.72" r="0.62" fill="#000"/>
<circle cx="124.21" cy="401.94" r="0.62" fill="#000"/>
<circle cx="123.27" cy="416.20" r="0.62" fill="#000"/>
<circle cx="127.66" cy="414.44" r="0.62" fill="#000"/>
<circle cx="123.54" cy="393.34" r="0.62" fill="#000"/>
<circle cx="124.41" cy="404.72" r="0.62" fill="#000"/>
<circle cx="124.17" cy="388.91" r="0.62" fill="#000"/>
<circle cx="121.94" cy="390.77" r="0.62" fill="#000"/>
<circle cx="125.30" cy="408.55" r="0.62" fill="#000"/>
<circle cx="123.94" cy="408.05" r="0.62" fill="#000"/>
<circle cx="127.10" cy="429.46" r="0.62" fill="#000"/>
<circle cx="124.47" cy="418.52" r="0.62" fill="#000"/>
<circle cx="124.14" cy="398.57" r="0.62" fill="#000"/>
<circle cx="122.64" cy="419.60" r="0.62" fill="#000"/>
<circle cx="128.02" cy="416.67" r="0.62" fill="#000"/>
<circle cx="128.09" cy="412.96" r="0.62" fill="#000"/>
<circle cx="127.60" cy="412.86" r="0.62" fill="#000"/>
<circle cx="121.71" cy="411.35" r="0.62" fill="#000"/>
<circle cx="125.76" cy="393.49" r="0.62" fill="#000"/>
<circle cx="122.63" cy="395.69" r="0.62" fill="#000"/>
<circle cx="124.18" cy="420.99" r="0.62" fill="#000"/>
<circle cx="124.55" cy="421.93" r="0.62" fill="#000"/>
<circle cx="128.12" cy="403.39" r="0.62" fill="#000"/>
<circle cx="124.21" cy="395.57" r="0.62" fill="#000"/>
<circle cx="125.63" cy="380.69" r="0.62" fill="#000"/>
<circle cx="123.41" cy="410.77" r="0.62" fill="#000"/>
<circle cx="124.44" cy="391.74" r="0.62" fill="#000"/>
<circle cx="123.81" cy="406.34" r="0.62" fill="#000"/>
<circle cx="123.59" cy="391.79" r="0.62" fill="#000"/>
<circle cx="124.85" cy="406.06" r="0.62" fill="#000"/>
<circle cx="124.63" cy="393.50" r="0.62" fill="#000"/>
<circle cx="123.63" cy="393.94" r="0.62" fill="#000"/>
<circle cx="121.79" cy="400.62" r="0.62" fill="#000"/>
<circle cx="125.21" cy="425.35" r="0.62" fill="#000"/>
<circle cx="126.86" cy="408.68" r="0.62" fill="#000"/>
<circle cx="123.32" cy="378.83" r="0.62" fill="#000"/>
<circle cx="128.23" cy="405.49" r="0.62" fill="#000"/>
<circle cx="123.64" cy="398.31" r="0.62" fill="#000"/>
<circle cx="125.96" cy="414.67" r="0.62" fill="#000"/>
<circle cx="125.69" cy="412.76" r="0.62" fill="#000"/>
<circle cx="126.72" cy="405.00" r="0.62" fill="#000"/>
<circle cx="123.68" cy="410.39" r="0.62" fill="#000"/>
<circle cx="123.66" cy="414.69" r="0.62" fill="#000"/>
<circle cx="125.20" cy="406.89" r="0.62" fill="#000"/>
<circle cx="126.62" cy="415.11" r="0.62" fill="#000"/>
<circle cx="125.60" cy="402.41" r="0.62" fill="#000"/>
<circle cx="124.71" cy="396.44" r="0.62" fill="#000"/>
<circle cx="127.75" cy="402.83" r="0.62" fill="#000"/>
<circle cx="121.80" cy="394.04" r="0.62" fill="#000"/>
<circle cx="126.84" cy="413.88" r="0.62" fill="#000"/>
<circle cx="126.37" cy="417.96" r="0.62" fill="#000"/>
<circle cx="125.87" cy="398.33" r="0.62" fill="#000"/>
<circle cx="124.24" cy="429.31" r="0.62" fill="#000"/>
<circle cx="124.29" cy="401.96" r="0.62" fill="#000"/>
<circle cx="123.66" cy="400.34" r="0.62" fill="#000"/>
<circle cx="127.18" cy="410.72" r="0.62" fill="#000"/>
<circle cx="126.28" cy="385.25" r="0.62" fill="#000"/>
<circle cx="124.56" cy="396.17" r="0.62" fill="#000"/>
<circle cx="127.71" cy="409.19" r="0.62" fill="#000"/>
<circle cx="122.64" cy="385.75" r="0.62" fill="#000"/>
<circle cx="124.98" cy="418.79" r="0.62" fill="#000"/>
<circle cx="123.88" cy="402.86" r="0.62" fill="#000"/>
<circle cx="127.06" cy="396.29" r="0.62" fill="#000"/>
<circle cx="122.15" cy="392.54" r="0.62" fill="#000"/>
<circle cx="126.93" cy="402.17" r="0.62" fill="#000"/>
<circle cx="126.08" cy="384.19" r="0.62" fill="#000"/>
<circle cx="128.16" cy="387.05" r="0.62" fill="#000"/>
<circle cx="128.29" cy="401.90" r="0.62" fill="#000"/>
<circle cx="127.26" cy="405.84" r="0.62" fill="#000"/>
<circle cx="123.15" cy="408.15" r="0.62" fill="#000"/>
<circle cx="126.40" cy="421.61" r="0.62" fill="#000"/>
<circle cx="122.59" cy="426.70" r="0.62" fill="#000"/>
<circle cx="122.69" cy="411.38" r="0.62" fill="#000"/>
<circle cx="125.73" cy="380.59" r="0.62" fill="#000"/>
<circle cx="125.81" cy="410.47" r="0.62" fill="#000"/>
<circle cx="121.99" cy="401.35" r="0.62" fill="#000"/>
<circle cx="122.18" cy="396.26" r="0.62" fill="#000"/>
<circle cx="122.08" cy="397.89" r="0.62" fill="#000"/>
<circle cx="127.50" cy="421.21" r="0.62" fill="#000"/>
<circle cx="122.59" cy="413.18" r="0.62" fill="#000"/>
<circle cx="125.66" cy="413.63" r="0.62" fill="#000"/>
<circle cx="124.93" cy="400.71" r="0.62" fill="#000"/>
<circle cx="122.07" cy="394.72" r="0.62" fill="#000"/>
<circle cx="126.30" cy="408.86" r="0.62" fill="#000"/>
<circle cx="125.04" cy="395.55" r="0.62" fill="#000"/>
<circle cx="127.71" cy="391.89" r="0.62" fill="#000"/>
<circle cx="123.44" cy="419.46" r="0.62" fill="#000"/>
<circle cx="125.34" cy="410.05" r="0.62" fill="#000"/>
<circle cx="125.11" cy="405.26" r="0.62" fill="#000"/>
<circle cx="122.58" cy="386.10" r="0.62" fill="#000"/>
<circle cx="126.56" cy="403.71" r="0.62" fill="#000"/>
<circle cx="122.88" cy="394.02" r="0.62" fill="#000"/>
<circle cx="122.26" cy="408.51" r="0.62" fill="#000"/>
<circle cx="126.11" cy="420.69" r="0.62" fill="#000"/>
<circle cx="125.62" cy="399.91" r="0.62" fill="#000"/>
<circle cx="123.27" cy="401.63" r="0.62" fill="#000"/>
<circle cx="123.83" cy="395.59" r="0.62" fill="#000"/>
<circle cx="126.96" cy="413.73" r="0.62" fill="#000"/>
<circle cx="122.05" cy="387.06" r="0.62" fill="#000"/>
<circle cx="122.70" cy="401.45" r="0.62" fill="#000"/>
<circle cx="123.17" cy="388.59" r="0.62" fill="#000"/>
<circle cx="122.47" cy="409.80" r="0.62" fill="#000"/>
<circle cx="127.12" cy="388.43" r="0.62" fill="#000"/>
<circle cx="122.62" cy="407.60" r="0.62" fill="#000"/>
<circle cx="123.25" cy="412.19" r="0.62" fill="#000"/>
<circle cx="123.90" cy="412.17" r="0.62" fill="#000"/>
<circle cx="124.25" cy="412.61" r="0.62" fill="#000"/>
<circle cx="122.60" cy="411.57" r="0.62" fill="#000"/>
<circle cx="127.01" cy="396.87" r="0.62" fill="#000"/>
<circle cx="124.56" cy="418.91" r="0.62" fill="#000"/>
<circle cx="125.61" cy="396.71" r="0.62" fill="#000"/>
<circle cx="125.48" cy="415.64" r="0.62" fill="#000"/>
<circle cx="122.34" cy="405.46" r="0.62" fill="#000"/>
<circle cx="121.92" cy="416.00" r="0.62" fill="#000"/>
<circle cx="127.57" cy="403.83" r="0.62" fill="#000"/>
<circle cx="124.87" cy="401.73" r="0.62" fill="#000"/>
<circle cx="124.80" cy="404.75" r="0.62" fill="#000"/>
<circle cx="127.57" cy="405.10" r="0.62" fill="#000"/>
<circle cx="124.77" cy="413.44" r="0.62" fill="#000"/>
<circle cx="122.36" cy="412.86" r="0.62" fill="#000"/>
<circle cx="124.17" cy="401.05" r="0.62" fill="#000"/>
<circle cx="124.25" cy="399.32" r="0.62" fill="#000"/>
<circle cx="123.38" cy="400.07" r="0.62" fill="#000"/>
<circle cx="123.53" cy="409.17" r="0.62" fill="#000"/>
<circle cx="123.25" cy="399.90" r="0.62" fill="#000"/>
<circle cx="124.88" cy="396.94" r="0.62" fill="#000"/>
<circle cx="124.14" cy="379.80" r="0.62" fill="#000"/>
<circle cx="127.89" cy="399.67" r="0.62" fill="#000"/>
<circle cx="124.81" cy="411.17" r="0.62" fill="#000"/>
<circle cx="127.94" cy="420.28" r="0.62" fill="#000"/>
<circle cx="123.62" cy="392.48" r="0.62" fill="#000"/>
<circle cx="126.15" cy="393.53" r="0.62" fill="#000"/>
<circle cx="123.03" cy="405.64" r="0.62" fill="#000"/>
<circle cx="121.86" cy="411.41" r="0.62" fill="#000"/>
<circle cx="124.35" cy="404.22" r="0.62" fill="#000"/>
<circle cx="128.13" cy="400.28" r="0.62" fill="#000"/>
<circle cx="124.79" cy="411.15" r="0.62" fill="#000"/>
<circle cx="123.57" cy="397.47" r="0.62" fill="#000"/>
<circle cx="122.78" cy="406.74" r="0.62" fill="#000"/>
<circle cx="123.29" cy="422.50" r="0.62" fill="#000"/>
<circle cx="125.96" cy="417.28" r="0.62" fill="#000"/>
<circle cx="124.54" cy="428.28" r="0.62" fill="#000"/>
<circle cx="122.10" cy="403.53" r="0.62" fill="#000"/>
<circle cx="126.84" cy="404.96" r="0.62" fill="#000"/>
<circle cx="125.32" cy="407.64" r="0.62" fill="#000"/>
<circle cx="128.23" cy="402.95" r="0.62" fill="#000"/>
<circle cx="122.32" cy="415.10" r="0.62" fill="#000"/>
<circle cx="122.17" cy="406.01" r="0.62" fill="#000"/>
<circle cx="127.88" cy="394.29" r="0.62" fill="#000"/>
<circle cx="122.05" cy="412.51" r="0.62" fill="#000"/>
<circle cx="124.32" cy="404.62" r="0.62" fill="#000"/>
<circle cx="122.10" cy="401.17" r="0.62" fill="#000"/>
<circle cx="123.72" cy="405.16" r="0.62" fill="#000"/>
<circle cx="122.04" cy="393.31" r="0.62" fill="#000"/>
<circle cx="122.88" cy="375.68" r="0.62" fill="#000"/>
<circle cx="125.06" cy="397.77" r="0.62" fill="#000"/>
<circle cx="122.26" cy="416.05" r="0.62" fill="#000"/>
<circle cx="123.77" cy="396.82" r="0.62" fill="#000"/>
<circle cx="127.78" cy="393.86" r="0.62" fill="#000"/>
<circle cx="125.65" cy="395.98" r="0.62" fill="#000"/>
<circle cx="121.81" cy="399.93" r="0.62" fill="#000"/>
<circle cx="125.26" cy="410.87" r="0.62" fill="#000"/>
<circle cx="124.19" cy="419.31" r="0.62" fill="#000"/>
<circle cx="125.83" cy="403.54" r="0.62" fill="#000"/>
<circle cx="123.73" cy="408.55" r="0.62" fill="#000"/>
<circle cx="124.66" cy="429.25" r="0.62" fill="#000"/>
<circle cx="122.46" cy="401.08" r="0.62" fill="#000"/>
<circle cx="123.76" cy="411.85" r="0.62" fill="#000"/>
<circle cx="127.11" cy="388.33" r="0.62" fill="#000"/>
<circle cx="123.76" cy="394.68" r="0.62" fill="#000"/>
<circle cx="123.32" cy="401.59" r="0.62" fill="#000"/>
<circle cx="122.26" cy="401.39" r="0.62" fill="#000"/>
<circle cx="123.32" cy="418.02" r="0.62" fill="#000"/>
<circle cx="122.11" cy="398.40" r="0.62" fill="#000"/>
<circle cx="123.02" cy="405.84" r="0.62" fill="#000"/>
<circle cx="123.59" cy="408.12" r="0.62" fill="#000"/>
<circle cx="124.48" cy="408.35" r="0.62" fill="#000"/>
<circle cx="123.77" cy="401.13" r="0.62" fill="#000"/>
<circle cx="127.61" cy="404.56" r="0.62" fill="#000"/>
<circle cx="126.02" cy="419.06" r="0.62" fill="#000"/>
<circle cx="124.62" cy="403.88" r="0.62" fill="#000"/>
<circle cx="127.09" cy="419.40" r="0.62" fill="#000"/>
<circle cx="126.50" cy="420.38" r="0.62" fill="#000"/>
<circle cx="126.33" cy="427.89" r="0.62" fill="#000"/>
<circle cx="124.22" cy="407.04" r="0.62" fill="#000"/>
<circle cx="122.56" cy="384.40" r="0.62" fill="#000"/>
<circle cx="123.43" cy="398.52" r="0.62" fill="#000"/>
<circle cx="126.16" cy="402.02" r="0.62" fill="#000"/>
<circle cx="126.74" cy="405.67" r="0.62" fill="#000"/>
<circle cx="125.38" cy="400.81" r="0.62" fill="#000"/>
<circle cx="122.56" cy="401.21" r="0.62" fill="#000"/>
<circle cx="124.06" cy="404.15" r="0.62" fill="#000"/>
<circle cx="125.74" cy="387.35" r="0.62" fill="#000"/>
<circle cx="123.23" cy="425.88" r="0.62" fill="#000"/>
<circle cx="123.88" cy="414.36" r="0.62" fill="#000"/>
<circle cx="121.78" cy="400.18" r="0.62" fill="#000"/>
<circle cx="126.50" cy="422.88" r="0.62" fill="#000"/>
<circle cx="122.33" cy="415.39" r="0.62" fill="#000"/>
<circle cx="126.38" cy="411.52" r="0.62" fill="#000"/>
<circle cx="124.65" cy="406.07" r="0.62" fill="#000"/>
<circle cx="122.48" cy="386.29" r="0.62" fill="#000"/>
<circle cx="123.79" cy="412.28" r="0.62" fill="#000"/>
<circle cx="124.57" cy="394.04" r="0.62" fill="#000"/>
<circle cx="124.61" cy="411.11" r="0.62" fill="#000"/>
<circle cx="125.22" cy="401.88" r="0.62" fill="#000"/>
<circle cx="128.10" cy="430.92" r="0.62" fill="#000"/>
<circle cx="127.07" cy="409.09" r="0.62" fill="#000"/>
<circle cx="124.47" cy="407.74" r="0.62" fill="#000"/>
<circle cx="121.92" cy="375.45" r="0.62" fill="#000"/>
<circle cx="125.51" cy="394.77" r="0.62" fill="#000"/>
<circle cx="124.29" cy="427.79" r="0.62" fill="#000"/>
<circle cx="123.12" cy="402.15" r="0.62" fill="#000"/>
<circle cx="125.41" cy="406.04" r="0.62" fill="#000"/>
<circle cx="124.06" cy="397.37" r="0.62" fill="#000"/>
<circle cx="124.02" cy="404.71" r="0.62" fill="#000"/>
<circle cx="123.34" cy="413.11" r="0.62" fill="#000"/>
<circle cx="127.31" cy="383.43" r="0.62" fill="#000"/>
<circle cx="125.78" cy="407.14" r="0.62" fill="#000"/>
<circle cx="127.19" cy="409.83" r="0.62" fill="#000"/>
<circle cx="124.93" cy="401.14" r="0.62" fill="#000"/>
<circle cx="122.35" cy="398.13" r="0.62" fill="#000"/>
<circle cx="126.44" cy="403.16" r="0.62" fill="#000"/>
<circle cx="126.96" cy="398.72" r="0.62" fill="#000"/>
<circle cx="123.84" cy="409.16" r="0.62" fill="#000"/>
<circle cx="125.81" cy="413.92" r="0.62" fill="#000"/>
<circle cx="126.98" cy="425.17" r="0.62" fill="#000"/>
<circle cx="125.08" cy="405.91" r="0.62" fill="#000"/>
<circle cx="125.57" cy="403.65" r="0.62" fill="#000"/>
<circle cx="123.79" cy="400.33" r="0.62" fill="#000"/>
<circle cx="121.88" cy="394.56" r="0.62" fill="#000"/>
<circle cx="124.84" cy="408.96" r="0.62" fill="#000"/>
<circle cx="126.34" cy="394.58" r="0.62" fill="#000"/>
<circle cx="127.08" cy="430.44" r="0.62" fill="#000"/>
<circle cx="127.80" cy="385.90" r="0.62" fill="#000"/>
<circle cx="125.24" cy="410.64" r="0.62" fill="#000"/>
<circle cx="126.97" cy="420.40" r="0.62" fill="#000"/>
<circle cx="126.18" cy="414.56" r="0.62" fill="#000"/>
<circle cx="125.15" cy="393.35" r="0.62" fill="#000"/>
<circle cx="122.28" cy="405.73" r="0.62" fill="#000"/>
<circle cx="124.05" cy="400.36" r="0.62" fill="#000"/>
<circle cx="126.42" cy="421.33" r="0.62" fill="#000"/>
<circle cx="123.72" cy="413.93" r="0.62" fill="#000"/>
<circle cx="126.43" cy="396.66" r="0.62" fill="#000"/>
<circle cx="122.18" cy="408.64" r="0.62" fill="#000"/>
<circle cx="128.02" cy="404.41" r="0.62" fill="#000"/>
<circle cx="127.62" cy="421.46" r="0.62" fill="#000"/>
<circle cx="126.57" cy="412.94" r="0.62" fill="#000"/>
<circle cx="125.73" cy="424.55" r="0.62" fill="#000"/>
<circle cx="127.61" cy="401.31" r="0.62" fill="#000"/>
<circle cx="123.28" cy="391.70" r="0.62" fill="#000"/>
<circle cx="124.30" cy="390.90" r="0.62" fill="#000"/>
<circle cx="121.72" cy="407.00" r="0.62" fill="#000"/>
<circle cx="126.01" cy="410.19" r="0.62" fill="#000"/>
<circle cx="127.64" cy="400.30" r="0.62" fill="#000"/>
<circle cx="124.25" cy="391.71" r="0.62" fill="#000"/>
<circle cx="122.42" cy="413.04" r="0.62" fill="#000"/>
<circle cx="126.42" cy="410.11" r="0.62" fill="#000"/>
<circle cx="124.17" cy="417.96" r="0.62" fill="#000"/>
<circle cx="123.72" cy="398.90" r="0.62" fill="#000"/>
<circle cx="123.47" cy="409.83" r="0.62" fill="#000"/>
<circle cx="122.80" cy="421.98" r="0.62" fill="#000"/>
<circle cx="125.88" cy="421.38" r="0.62" fill="#000"/>
<circle cx="122.11" cy="403.94" r="0.62" fill="#000"/>
<circle cx="125.43" cy="412.72" r="0.62" fill="#000"/>
<circle cx="126.51" cy="393.65" r="0.62" fill="#000"/>
<circle cx="124.45" cy="424.92" r="0.62" fill="#000"/>
<circle cx="127.67" cy="417.04" r="0.62" fill="#000"/>
<circle cx="123.70" cy="398.56" r="0.62" fill="#000"/>
<circle cx="128.08" cy="407.71" r="0.62" fill="#000"/>
<circle cx="122.94" cy="389.77" r="0.62" fill="#000"/>
<circle cx="125.41" cy="399.32" r="0.62" fill="#000"/>
<circle cx="125.68" cy="403.71" r="0.62" fill="#000"/>
<circle cx="125.62" cy="401.83" r="0.62" fill="#000"/>
<circle cx="125.97" cy="398.11" r="0.62" fill="#000"/>
<circle cx="122.11" cy="411.41" r="0.62" fill="#000"/>
<circle cx="124.90" cy="421.62" r="0.62" fill="#000"/>
<circle cx="123.80" cy="390.50" r="0.62" fill="#000"/>
<circle cx="127.31" cy="429.03" r="0.62" fill="#000"/>
<circle cx="123.21" cy="420.45" r="0.62" fill="#000"/>
<circle cx="126.30" cy="425.04" r="0.62" fill="#000"/>
<circle cx="122.37" cy="397.89" r="0.62" fill="#000"/>
<circle cx="122.98" cy="415.51" r="0.62" fill="#000"/>
<circle cx="122.70" cy="402.03" r="0.62" fill="#000"/>
<circle cx="125.76" cy="400.65" r="0.62" fill="#000"/>
<circle cx="126.56" cy="389.84" r="0.62" fill="#000"/>
<circle cx="127.09" cy="393.20" r="0.62" fill="#000"/>
<circle cx="127.80" cy="398.90" r="0.62" fill="#000"/>
<circle cx="128.02" cy="421.49" r="0.62" fill="#000"/>
<circle cx="122.38" cy="425.29" r="0.62" fill="#000"/>
<circle cx="122.38" cy="425.32" r="0.62" fill="#000"/>
<circle cx="124.17" cy="397.76" r="0.62" fill="#000"/>
<circle cx="124.73" cy="401.77" r="0.62" fill="#000"/>
<circle cx="122.25" cy="412.58" r="0.62" fill="#000"/>
<circle cx="124.36" cy="421.51" r="0.62" fill="#000"/>
<circle cx="122.48" cy="415.24" r="0.62" fill="#000"/>
<circle cx="125.64" cy="407.70" r="0.62" fill="#000"/>
<circle cx="124.97" cy="416.75" r="0.62" fill="#000"/>
<circle cx="128.05" cy="392.70" r="0.62" fill="#000"/>
<circle cx="126.71" cy="400.69" r="0.62" fill="#000"/>
<circle cx="126.46" cy="406.24" r="0.62" fill="#000"/>
<circle cx="124.86" cy="406.36" r="0.62" fill="#000"/>
<circle cx="124.04" cy="399.41" r="0.62" fill="#000"/>
<circle cx="124.22" cy="406.77" r="0.62" fill="#000"/>
<circle cx="123.62" cy="429.79" r="0.62" fill="#000"/>
<circle cx="126.91" cy="422.09" r="0.62" fill="#000"/>
<circle cx="125.50" cy="404.64" r="0.62" fill="#000"/>
<circle cx="127.30" cy="407.66" r="0.62" fill="#000"/>
<circle cx="125.13" cy="395.03" r="0.62" fill="#000"/>
<circle cx="123.27" cy="393.64" r="0.62" fill="#000"/>
<circle cx="126.10" cy="401.12" r="0.62" fill="#000"/>
<circle cx="122.33" cy="396.79" r="0.62" fill="#000"/>
<circle cx="124.85" cy="400.80" r="0.62" fill="#000"/>
<circle cx="124.25" cy="390.84" r="0.62" fill="#000"/>
<circle cx="127.86" cy="406.12" r="0.62" fill="#000"/>
<circle cx="127.05" cy="395.96" r="0.62" fill="#000"/>
<circle cx="121.73" cy="399.04" r="0.62" fill="#000"/>
<circle cx="121.81" cy="403.71" r="0.62" fill="#000"/>
<circle cx="123.36" cy="415.33" r="0.62" fill="#000"/>
<circle cx="125.11" cy="415.41" r="0.62" fill="#000"/>
<circle cx="122.05" cy="401.91" r="0.62" fill="#000"/>
<circle cx="124.62" cy="398.82" r="0.62" fill="#000"/>
<circle cx="124.81" cy="375.02" r="0.62" fill="#000"/>
<circle cx="128.00" cy="396.97" r="0.62" fill="#000"/>
<circle cx="126.23" cy="400.14" r="0.62" fill="#000"/>
<circle cx="124.29" cy="408.46" r="0.62" fill="#000"/>
<circle cx="126.84" cy="404.95" r="0.62" fill="#000"/>
<circle cx="127.66" cy="418.56" r="0.62" fill="#000"/>
<circle cx="125.96" cy="398.77" r="0.62" fill="#000"/>
<circle cx="121.86" cy="406.77" r="0.62" fill="#000"/>
<circle cx="126.78" cy="407.06" r="0.62" fill="#000"/>
<circle cx="127.15" cy="424.29" r="0.62" fill="#000"/>
<circle cx="127.74" cy="392.94" r="0.62" fill="#000"/>
<circle cx="126.69" cy="434.99" r="0.62" fill="#000"/>
<circle cx="127.59" cy="375.86" r="0.62" fill="#000"/>
<circle cx="124.49" cy="393.11" r="0.62" fill="#000"/>
<circle cx="128.12" cy="389.10" r="0.62" fill="#000"/>
<circle cx="124.48" cy="396.94" r="0.62" fill="#000"/>
<circle cx="123.49" cy="405.06" r="0.62" fill="#000"/>
<circle cx="126.10" cy="413.82" r="0.62" fill="#000"/>
<circle cx="122.51" cy="403.03" r="0.62" fill="#000"/>
<circle cx="122.19" cy="398.74" r="0.62" fill="#000"/>
<circle cx="124.22" cy="393.93" r="0.62" fill="#000"/>
<circle cx="123.00" cy="386.12" r="0.62" fill="#000"/>
<circle cx="121.82" cy="418.79" r="0.62" fill="#000"/>
<circle cx="125.65" cy="391.30" r="0.62" fill="#000"/>
<circle cx="122.60" cy="429.92" r="0.62" fill="#000"/>
<circle cx="127.89" cy="402.64" r="0.62" fill="#000"/>
<circle cx="121.91" cy="379.65" r="0.62" fill="#000"/>
<circle cx="123.46" cy="400.04" r="0.62" fill="#000"/>
<circle cx="126.68" cy="393.88" r="0.62" fill="#000"/>
<circle cx="122.70" cy="418.29" r="0.62" fill="#000"/>
<circle cx="125.12" cy="390.90" r="0.62" fill="#000"/>
<circle cx="122.29" cy="387.54" r="0.62" fill="#000"/>
<circle cx="122.43" cy="407.50" r="0.62" fill="#000"/>
<circle cx="124.13" cy="411.51" r="0.62" fill="#000"/>
<circle cx="124.85" cy="413.29" r="0.62" fill="#000"/>
<circle cx="123.29" cy="430.15" r="0.62" fill="#000"/>
<circle cx="125.45" cy="419.08" r="0.62" fill="#000"/>
<circle cx="126.53" cy="405.92" r="0.62" fill="#000"/>
<circle cx="122.58" cy="390.74" r="0.62" fill="#000"/>
<circle cx="121.75" cy="422.18" r="0.62" fill="#000"/>
<circle cx="126.79" cy="402.70" r="0.62" fill="#000"/>
<circle cx="125.73" cy="416.36" r="0.62" fill="#000"/>
<circle cx="126.93" cy="398.29" r="0.62" fill="#000"/>
<circle cx="121.95" cy="392.37" r="0.62" fill="#000"/>
<circle cx="124.24" cy="400.21" r="0.62" fill="#000"/>
<circle cx="123.67" cy="406.09" r="0.62" fill="#000"/>
<circle cx="124.67" cy="402.85" r="0.62" fill="#000"/>
<circle cx="124.14" cy="419.12" r="0.62" fill="#000"/>
<circle cx="125.20" cy="425.85" r="0.62" fill="#000"/>
<circle cx="127.97" cy="410.82" r="0.62" fill="#000"/>
<circle cx="128.22" cy="430.45" r="0.62" fill="#000"/>
<circle cx="127.85" cy="406.93" r="0.62" fill="#000"/>
<circle cx="122.21" cy="398.36" r="0.62" fill="#000"/>
<circle cx="125.19" cy="422.13" r="0.62" fill="#000"/>
<circle cx="124.27" cy="398.98" r="0.62" fill="#000"/>
<circle cx="125.34" cy="396.36" r="0.62" fill="#000"/>
<circle cx="127.18" cy="409.09" r="0.62" fill="#000"/>
<circle cx="124.96" cy="398.03" r="0.62" fill="#000"/>
<circle cx="125.44" cy="396.82" r="0.62" fill="#000"/>
<circle cx="122.09" cy="401.51" r="0.62" fill="#000"/>
<circle cx="122.28" cy="392.88" r="0.62" fill="#000"/>
<circle cx="128.09" cy="408.19" r="0.62" fill="#000"/>
<circle cx="123.44" cy="399.54" r="0.62" fill="#000"/>
<circle cx="126.59" cy="407.93" r="0.62" fill="#000"/>
<circle cx="123.43" cy="385.41" r="0.62" fill="#000"/>
<circle cx="124.26" cy="397.27" r="0.62" fill="#000"/>
<circle cx="125.85" cy="418.58" r="0.62" fill="#000"/>
<circle cx="127.49" cy="404.53" r="0.62" fill="#000"/>
<circle cx="124.60" cy="396.01" r="0.62" fill="#000"/>
<circle cx="122.61" cy="399.18" r="0.62" fill="#000"/>
<circle cx="122.04" cy="408.98" r="0.62" fill="#000"/>
<circle cx="121.76" cy="405.70" r="0.62" fill="#000"/>
<circle cx="121.99" cy="419.13" r="0.62" fill="#000"/>
<circle cx="127.45" cy="398.90" r="0.62" fill="#000"/>
<circle cx="121.96" cy="416.47" r="0.62" fill="#000"/>
<circle cx="126.46" cy="409.52" r="0.62" fill="#000"/>
<circle cx="125.73" cy="407.74" r="0.62" fill="#000"/>
<circle cx="127.96" cy="410.82" r="0.62" fill="#000"/>
<circle cx="122.43" cy="409.90" r="0.62" fill="#000"/>
<circle cx="122.31" cy="389.11" r="0.62" fill="#000"/>
<circle cx="122.14" cy="398.11" r="0.62" fill="#000"/>
<circle cx="127.59" cy="420.49" r="0.62" fill="#000"/>
<circle cx="126.46" cy="400.77" r="0.62" fill="#000"/>
<circle cx="127.27" cy="390.18" r="0.62" fill="#000"/>
<circle cx="122.50" cy="397.98" r="0.62" fill="#000"/>
<circle cx="123.67" cy="404.52" r="0.62" fill="#000"/>
<circle cx="121.71" cy="413.44" r="0.62" fill="#000"/>
<circle cx="127.65" cy="404.07" r="0.62" fill="#000"/>
<circle cx="124.77" cy="418.25" r="0.62" fill="#000"/>
<circle cx="123.44" cy="400.39" r="0.62" fill="#000"/>
<circle cx="127.95" cy="398.28" r="0.62" fill="#000"/>
<circle cx="124.03" cy="403.43" r="0.62" fill="#000"/>
<circle cx="122.22" cy="400.14" r="0.62" fill="#000"/>
<circle cx="125.99" cy="418.70" r="0.62" fill="#000"/>
<circle cx="124.80" cy="358.16" r="0.60" fill="#000"/>
<circle cx="123.70" cy="469.08" r="0.60" fill="#000"/>
<circle cx="125.40" cy="464.36" r="0.60" fill="#000"/>
<circle cx="124.50" cy="456.10" r="0.60" fill="#000"/>
<circle cx="122.50" cy="452.56" r="0.60" fill="#000"/>
<circle cx="123.80" cy="447.84" r="0.60" fill="#000"/>
<circle cx="126.20" cy="443.12" r="0.60" fill="#000"/>
<circle cx="123.50" cy="368.78" r="0.60" fill="#000"/>
<circle cx="148.95" cy="421.26" r="0.50" fill="#111"/>
<circle cx="152.02" cy="419.41" r="0.50" fill="#111"/>
<circle cx="150.58" cy="417.14" r="0.50" fill="#111"/>
<circle cx="148.77" cy="462.79" r="0.50" fill="#111"/>
<circle cx="149.51" cy="446.93" r="0.50" fill="#111"/>
<circle cx="153.30" cy="451.05" r="0.50" fill="#111"/>
<circle cx="151.23" cy="430.55" r="0.50" fill="#111"/>
<circle cx="152.61" cy="440.01" r="0.50" fill="#111"/>
<circle cx="152.92" cy="445.48" r="0.50" fill="#111"/>
<circle cx="149.46" cy="433.38" r="0.50" fill="#111"/>
<circle cx="150.05" cy="423.99" r="0.50" fill="#111"/>
<circle cx="151.68" cy="421.71" r="0.50" fill="#111"/>
<circle cx="151.74" cy="439.30" r="0.50" fill="#111"/>
<circle cx="152.52" cy="423.69" r="0.50" fill="#111"/>
<circle cx="149.92" cy="433.47" r="0.50" fill="#111"/>
<circle cx="152.97" cy="413.35" r="0.50" fill="#111"/>
<circle cx="151.39" cy="417.74" r="0.50" fill="#111"/>
<circle cx="150.20" cy="405.36" r="0.50" fill="#111"/>
<circle cx="151.72" cy="418.19" r="0.50" fill="#111"/>
<circle cx="150.35" cy="433.33" r="0.50" fill="#111"/>
<circle cx="149.88" cy="443.54" r="0.50" fill="#111"/>
<circle cx="152.20" cy="426.53" r="0.50" fill="#111"/>
<circle cx="150.36" cy="428.02" r="0.50" fill="#111"/>
<circle cx="149.71" cy="427.40" r="0.50" fill="#111"/>
<circle cx="148.98" cy="435.51" r="0.50" fill="#111"/>
<circle cx="153.28" cy="405.36" r="0.50" fill="#111"/>
<circle cx="150.94" cy="441.13" r="0.50" fill="#111"/>
<circle cx="149.26" cy="418.21" r="0.50" fill="#111"/>
<circle cx="148.06" cy="421.26" r="0.50" fill="#111"/>
<circle cx="148.55" cy="443.42" r="0.50" fill="#111"/>
<circle cx="150.97" cy="436.55" r="0.50" fill="#111"/>
<circle cx="150.70" cy="405.36" r="0.50" fill="#111"/>
<circle cx="148.52" cy="447.01" r="0.50" fill="#111"/>
<circle cx="151.12" cy="430.40" r="0.50" fill="#111"/>
<circle cx="148.40" cy="439.13" r="0.50" fill="#111"/>
<circle cx="150.52" cy="411.46" r="0.50" fill="#111"/>
<circle cx="149.53" cy="432.92" r="0.50" fill="#111"/>
<circle cx="150.47" cy="471.95" r="0.50" fill="#111"/>
<circle cx="149.16" cy="444.79" r="0.50" fill="#111"/>
<circle cx="150.19" cy="466.82" r="0.50" fill="#111"/>
<circle cx="151.70" cy="434.60" r="0.50" fill="#111"/>
<circle cx="152.77" cy="418.98" r="0.50" fill="#111"/>
<circle cx="151.07" cy="438.23" r="0.50" fill="#111"/>
<circle cx="153.53" cy="427.94" r="0.50" fill="#111"/>
<text x="256.00" y="338.60" font-size="17.5" font-weight="bold" font-style="normal" text-anchor="start" fill="#111">J</text>
<text x="327.40" y="338.40" font-size="10.0" font-weight="bold" font-style="italic" text-anchor="start" fill="#000">SLC2A1</text>
<rect x="260.0" y="349.6" width="180.3" height="102.19999999999999" fill="none" stroke="#6e6e6e" stroke-width="0.8"/>
<line x1="257.40" y1="444.10" x2="260.00" y2="444.10" stroke="#555" stroke-width="0.6"/>
<text x="254.10" y="444.10" font-size="4.1" font-weight="normal" font-style="normal" text-anchor="middle" fill="#222" transform="rotate(-90 254.10 444.10)">4</text>
<line x1="257.40" y1="427.16" x2="260.00" y2="427.16" stroke="#555" stroke-width="0.6"/>
<text x="254.10" y="427.16" font-size="4.1" font-weight="normal" font-style="normal" text-anchor="middle" fill="#222" transform="rotate(-90 254.10 427.16)">6</text>
<line x1="257.40" y1="410.22" x2="260.00" y2="410.22" stroke="#555" stroke-width="0.6"/>
<text x="254.10" y="410.22" font-size="4.1" font-weight="normal" font-style="normal" text-anchor="middle" fill="#222" transform="rotate(-90 254.10 410.22)">8</text>
<line x1="257.40" y1="393.28" x2="260.00" y2="393.28" stroke="#555" stroke-width="0.6"/>
<text x="254.10" y="393.28" font-size="4.1" font-weight="normal" font-style="normal" text-anchor="middle" fill="#222" transform="rotate(-90 254.10 393.28)">10</text>
<line x1="257.40" y1="376.34" x2="260.00" y2="376.34" stroke="#555" stroke-width="0.6"/>
<text x="254.10" y="376.34" font-size="4.1" font-weight="normal" font-style="normal" text-anchor="middle" fill="#222" transform="rotate(-90 254.10 376.34)">12</text>
<line x1="257.40" y1="359.40" x2="260.00" y2="359.40" stroke="#555" stroke-width="0.6"/>
<text x="254.10" y="359.40" font-size="4.1" font-weight="normal" font-style="normal" text-anchor="middle" fill="#222" transform="rotate(-90 254.10 359.40)">14</text>
<text x="238.4" y="414.6" font-size="10.2" text-anchor="middle" transform="rotate(-90 238.4 414.6)">Expression [log<tspan font-size="6.5" dy="2">2</tspan><tspan dy="-2">(TPM + 1)]</tspan></text>
<text x="431.30" y="355.80" font-size="4.65" font-weight="normal" font-style="normal" text-anchor="end" fill="#222">F value = 0.152</text>
<text x="431.30" y="361.90" font-size="4.65" font-weight="normal" font-style="normal" text-anchor="end" fill="#222">Pr(&gt;F) = 0.979</text>
<polygon points="280.85,384.60 282.44,384.63 284.17,384.67 285.00,384.70 286.39,385.52 287.16,386.35 287.65,387.18 288.20,388.00 288.81,388.70 289.42,389.40 289.99,390.10 290.46,390.80 290.80,391.50 291.02,392.19 291.19,392.88 291.32,393.56 291.40,394.25 291.46,394.94 291.49,395.62 291.50,396.31 291.50,397.00 291.50,397.68 291.48,398.36 291.46,399.05 291.42,399.73 291.37,400.41 291.31,401.09 291.24,401.77 291.15,402.45 291.05,403.14 290.93,403.82 290.80,404.50 290.63,405.19 290.42,405.88 290.17,406.56 289.90,407.25 289.62,407.94 289.34,408.62 289.06,409.31 288.80,410.00 288.63,410.70 288.58,411.40 288.57,412.10 288.54,412.80 288.42,413.50 288.14,414.20 287.62,414.90 286.80,415.60 285.65,415.63 283.17,415.67 280.70,415.70 280.50,415.70 278.03,415.67 275.55,415.63 274.40,415.60 273.58,414.90 273.06,414.20 272.78,413.50 272.66,412.80 272.63,412.10 272.62,411.40 272.57,410.70 272.40,410.00 272.14,409.31 271.86,408.62 271.58,407.94 271.30,407.25 271.03,406.56 270.78,405.88 270.57,405.19 270.40,404.50 270.27,403.82 270.15,403.14 270.05,402.45 269.96,401.77 269.89,401.09 269.83,400.41 269.78,399.73 269.74,399.05 269.72,398.36 269.70,397.68 269.70,397.00 269.70,396.31 269.71,395.62 269.74,394.94 269.80,394.25 269.88,393.56 270.01,392.88 270.18,392.19 270.40,391.50 270.74,390.80 271.21,390.10 271.78,389.40 272.39,388.70 273.00,388.00 273.55,387.18 274.04,386.35 274.81,385.52 276.20,384.70 277.03,384.67 278.76,384.63 280.35,384.60" fill="#e12a2a" stroke="#8a1515" stroke-width="0.45" stroke-linejoin="round"/>
<line x1="280.60" y1="384.60" x2="280.60" y2="415.70" stroke="#4a0a0a" stroke-width="0.5"/>
<rect x="279.55" y="393.20" width="2.10" height="15.80" fill="#000" stroke="none" stroke-width="0"/>
<circle cx="280.60" cy="400.90" r="1.25" fill="#fff"/>
<polygon points="308.80,364.40 308.84,365.10 308.87,365.80 308.90,366.50 308.93,367.20 308.96,367.90 309.00,368.60 309.05,369.30 309.10,370.00 309.15,370.67 309.19,371.33 309.23,372.00 309.27,372.67 309.32,373.33 309.40,374.00 309.50,374.67 309.63,375.33 309.80,376.00 310.01,376.67 310.26,377.33 310.54,378.00 310.85,378.67 311.17,379.33 311.52,380.00 311.87,380.67 312.24,381.33 312.60,382.00 313.00,382.70 313.42,383.40 313.87,384.10 314.32,384.80 314.78,385.50 315.24,386.20 315.69,386.90 316.12,387.60 316.53,388.30 316.90,389.00 317.26,389.70 317.62,390.40 317.99,391.10 318.33,391.80 318.66,392.50 318.96,393.20 319.22,393.90 319.44,394.60 319.60,395.30 319.70,396.00 319.73,396.70 319.70,397.40 319.62,398.10 319.50,398.80 319.33,399.50 319.14,400.20 318.92,400.90 318.68,401.60 318.44,402.30 318.20,403.00 317.94,403.70 317.65,404.40 317.34,405.10 317.00,405.80 316.66,406.50 316.30,407.20 315.94,407.90 315.58,408.60 315.23,409.30 314.90,410.00 314.57,410.70 314.24,411.40 313.91,412.10 313.57,412.80 313.24,413.50 312.92,414.20 312.60,414.90 312.29,415.60 311.99,416.30 311.70,417.00 311.43,417.67 311.17,418.33 310.91,419.00 310.66,419.67 310.43,420.33 310.21,421.00 310.02,421.67 309.84,422.33 309.70,423.00 309.58,423.70 309.49,424.40 309.42,425.10 309.37,425.80 309.34,426.50 309.31,427.20 309.29,427.90 309.26,428.60 309.24,429.30 309.20,430.00 309.16,430.69 309.12,431.38 309.08,432.07 309.04,432.76 309.01,433.45 308.97,434.15 308.94,434.84 308.91,435.53 308.87,436.22 308.84,436.91 308.80,437.60 308.00,437.60 307.96,436.91 307.93,436.22 307.89,435.53 307.86,434.84 307.83,434.15 307.79,433.45 307.76,432.76 307.72,432.07 307.68,431.38 307.64,430.69 307.60,430.00 307.56,429.30 307.54,428.60 307.51,427.90 307.49,427.20 307.46,426.50 307.43,425.80 307.38,425.10 307.31,424.40 307.22,423.70 307.10,423.00 306.96,422.33 306.78,421.67 306.59,421.00 306.37,420.33 306.14,419.67 305.89,419.00 305.63,418.33 305.37,417.67 305.10,417.00 304.81,416.30 304.51,415.60 304.20,414.90 303.88,414.20 303.56,413.50 303.23,412.80 302.89,412.10 302.56,411.40 302.23,410.70 301.90,410.00 301.57,409.30 301.22,408.60 300.86,407.90 300.50,407.20 300.14,406.50 299.80,405.80 299.46,405.10 299.15,404.40 298.86,403.70 298.60,403.00 298.36,402.30 298.12,401.60 297.88,400.90 297.66,400.20 297.47,399.50 297.30,398.80 297.18,398.10 297.10,397.40 297.07,396.70 297.10,396.00 297.20,395.30 297.36,394.60 297.58,393.90 297.84,393.20 298.14,392.50 298.47,391.80 298.81,391.10 299.18,390.40 299.54,389.70 299.90,389.00 300.27,388.30 300.68,387.60 301.11,386.90 301.56,386.20 302.02,385.50 302.48,384.80 302.93,384.10 303.38,383.40 303.80,382.70 304.20,382.00 304.56,381.33 304.93,380.67 305.28,380.00 305.63,379.33 305.95,378.67 306.26,378.00 306.54,377.33 306.79,376.67 307.00,376.00 307.17,375.33 307.30,374.67 307.40,374.00 307.48,373.33 307.53,372.67 307.57,372.00 307.61,371.33 307.65,370.67 307.70,370.00 307.75,369.30 307.80,368.60 307.84,367.90 307.87,367.20 307.90,366.50 307.93,365.80 307.96,365.10 308.00,364.40" fill="#e12a2a" stroke="#8a1515" stroke-width="0.45" stroke-linejoin="round"/>
<line x1="308.40" y1="364.40" x2="308.40" y2="437.60" stroke="#4a0a0a" stroke-width="0.5"/>
<rect x="307.35" y="392.10" width="2.10" height="12.80" fill="#000" stroke="none" stroke-width="0"/>
<circle cx="308.40" cy="397.90" r="1.25" fill="#fff"/>
<polygon points="336.60,379.40 337.28,379.47 337.95,379.53 338.30,379.60 338.91,380.28 339.35,380.96 339.69,381.64 340.02,382.32 340.40,383.00 340.86,383.70 341.34,384.40 341.83,385.10 342.32,385.80 342.81,386.50 343.29,387.20 343.74,387.90 344.17,388.60 344.56,389.30 344.90,390.00 345.20,390.67 345.49,391.33 345.76,392.00 346.02,392.67 346.26,393.33 346.48,394.00 346.67,394.67 346.84,395.33 346.98,396.00 347.09,396.67 347.16,397.33 347.20,398.00 347.19,398.70 347.11,399.40 346.98,400.10 346.81,400.80 346.60,401.50 346.37,402.20 346.11,402.90 345.84,403.60 345.57,404.30 345.30,405.00 345.02,405.70 344.71,406.40 344.38,407.10 344.03,407.80 343.67,408.50 343.30,409.20 342.94,409.90 342.58,410.60 342.23,411.30 341.90,412.00 341.58,412.70 341.26,413.40 340.94,414.10 340.62,414.80 340.31,415.50 340.01,416.20 339.71,416.90 339.43,417.60 339.16,418.30 338.90,419.00 338.67,419.67 338.44,420.33 338.23,421.00 338.03,421.67 337.84,422.33 337.67,423.00 337.52,423.67 337.40,424.33 337.30,425.00 337.22,425.69 337.14,426.38 337.08,427.06 337.03,427.75 336.98,428.44 336.94,429.12 336.90,429.81 336.88,430.50 336.85,431.19 336.83,431.88 336.81,432.56 336.79,433.25 336.77,433.94 336.75,434.62 336.72,435.31 336.70,436.00 336.67,436.68 336.65,437.37 336.63,438.05 336.61,438.73 336.59,439.42 336.57,440.10 336.56,440.78 336.54,441.47 336.53,442.15 336.51,442.83 336.50,443.52 336.49,444.20 336.47,444.88 336.46,445.57 336.45,446.25 336.43,446.93 336.42,447.62 336.40,448.30 335.80,448.30 335.78,447.62 335.77,446.93 335.75,446.25 335.74,445.57 335.73,444.88 335.71,444.20 335.70,443.52 335.69,442.83 335.67,442.15 335.66,441.47 335.64,440.78 335.63,440.10 335.61,439.42 335.59,438.73 335.57,438.05 335.55,437.37 335.53,436.68 335.50,436.00 335.48,435.31 335.45,434.62 335.43,433.94 335.41,433.25 335.39,432.56 335.37,431.88 335.35,431.19 335.32,430.50 335.30,429.81 335.26,429.12 335.22,428.44 335.17,427.75 335.12,427.06 335.06,426.38 334.98,425.69 334.90,425.00 334.80,424.33 334.68,423.67 334.53,423.00 334.36,422.33 334.17,421.67 333.97,421.00 333.76,420.33 333.53,419.67 333.30,419.00 333.04,418.30 332.77,417.60 332.49,416.90 332.19,416.20 331.89,415.50 331.58,414.80 331.26,414.10 330.94,413.40 330.62,412.70 330.30,412.00 329.97,411.30 329.62,410.60 329.26,409.90 328.90,409.20 328.53,408.50 328.17,407.80 327.82,407.10 327.49,406.40 327.18,405.70 326.90,405.00 326.63,404.30 326.36,403.60 326.09,402.90 325.83,402.20 325.60,401.50 325.39,400.80 325.22,400.10 325.09,399.40 325.01,398.70 325.00,398.00 325.04,397.33 325.11,396.67 325.22,396.00 325.36,395.33 325.53,394.67 325.72,394.00 325.94,393.33 326.18,392.67 326.44,392.00 326.71,391.33 327.00,390.67 327.30,390.00 327.64,389.30 328.03,388.60 328.46,387.90 328.91,387.20 329.39,386.50 329.88,385.80 330.37,385.10 330.86,384.40 331.34,383.70 331.80,383.00 332.18,382.32 332.51,381.64 332.85,380.96 333.29,380.28 333.90,379.60 334.25,379.53 334.92,379.47 335.60,379.40" fill="#e12a2a" stroke="#8a1515" stroke-width="0.45" stroke-linejoin="round"/>
<line x1="336.10" y1="379.40" x2="336.10" y2="448.30" stroke="#4a0a0a" stroke-width="0.5"/>
<rect x="335.05" y="392.50" width="2.10" height="12.50" fill="#000" stroke="none" stroke-width="0"/>
<circle cx="336.10" cy="398.60" r="1.25" fill="#fff"/>
<polygon points="364.40,376.10 364.68,376.88 364.94,377.66 365.20,378.44 365.51,379.22 365.90,380.00 366.29,380.67 366.70,381.33 367.14,382.00 367.60,382.67 368.06,383.33 368.53,384.00 369.00,384.67 369.46,385.33 369.90,386.00 370.34,386.67 370.81,387.33 371.27,388.00 371.74,388.67 372.19,389.33 372.63,390.00 373.03,390.67 373.39,391.33 373.70,392.00 373.97,392.67 374.21,393.33 374.43,394.00 374.61,394.67 374.76,395.33 374.88,396.00 374.96,396.67 375.00,397.33 375.00,398.00 374.96,398.70 374.88,399.40 374.76,400.10 374.62,400.80 374.44,401.50 374.24,402.20 374.03,402.90 373.80,403.60 373.55,404.30 373.30,405.00 373.03,405.70 372.72,406.40 372.39,407.10 372.04,407.80 371.68,408.50 371.31,409.20 370.94,409.90 370.58,410.60 370.23,411.30 369.90,412.00 369.58,412.70 369.25,413.40 368.93,414.10 368.61,414.80 368.29,415.50 367.99,416.20 367.69,416.90 367.41,417.60 367.15,418.30 366.90,419.00 366.67,419.70 366.45,420.40 366.25,421.10 366.05,421.80 365.87,422.50 365.71,423.20 365.56,423.90 365.42,424.60 365.30,425.30 365.20,426.00 365.12,426.67 365.04,427.33 364.98,428.00 364.93,428.67 364.88,429.33 364.84,430.00 364.81,430.67 364.78,431.33 364.76,432.00 364.73,432.67 364.71,433.33 364.69,434.00 364.66,434.67 364.63,435.33 364.60,436.00 364.56,436.69 364.53,437.38 364.50,438.08 364.47,438.77 364.44,439.46 364.41,440.15 364.38,440.85 364.35,441.54 364.32,442.23 364.29,442.92 364.26,443.62 364.23,444.31 364.20,445.00 363.60,445.00 363.57,444.31 363.54,443.62 363.51,442.92 363.48,442.23 363.45,441.54 363.42,440.85 363.39,440.15 363.36,439.46 363.33,438.77 363.30,438.08 363.27,437.38 363.24,436.69 363.20,436.00 363.17,435.33 363.14,434.67 363.11,434.00 363.09,433.33 363.07,432.67 363.04,432.00 363.02,431.33 362.99,430.67 362.96,430.00 362.92,429.33 362.87,428.67 362.82,428.00 362.76,427.33 362.68,426.67 362.60,426.00 362.50,425.30 362.38,424.60 362.24,423.90 362.09,423.20 361.93,422.50 361.75,421.80 361.55,421.10 361.35,420.40 361.13,419.70 360.90,419.00 360.65,418.30 360.39,417.60 360.11,416.90 359.81,416.20 359.51,415.50 359.19,414.80 358.87,414.10 358.55,413.40 358.22,412.70 357.90,412.00 357.57,411.30 357.22,410.60 356.86,409.90 356.49,409.20 356.12,408.50 355.76,407.80 355.41,407.10 355.08,406.40 354.77,405.70 354.50,405.00 354.25,404.30 354.00,403.60 353.77,402.90 353.56,402.20 353.36,401.50 353.18,400.80 353.04,400.10 352.92,399.40 352.84,398.70 352.80,398.00 352.80,397.33 352.84,396.67 352.92,396.00 353.04,395.33 353.19,394.67 353.37,394.00 353.59,393.33 353.83,392.67 354.10,392.00 354.41,391.33 354.77,390.67 355.17,390.00 355.61,389.33 356.06,388.67 356.53,388.00 356.99,387.33 357.46,386.67 357.90,386.00 358.34,385.33 358.80,384.67 359.27,384.00 359.74,383.33 360.20,382.67 360.66,382.00 361.10,381.33 361.51,380.67 361.90,380.00 362.29,379.22 362.60,378.44 362.86,377.66 363.12,376.88 363.40,376.10" fill="#e12a2a" stroke="#8a1515" stroke-width="0.45" stroke-linejoin="round"/>
<line x1="363.90" y1="376.10" x2="363.90" y2="445.00" stroke="#4a0a0a" stroke-width="0.5"/>
<rect x="362.85" y="392.00" width="2.10" height="12.50" fill="#000" stroke="none" stroke-width="0"/>
<circle cx="363.90" cy="398.30" r="1.25" fill="#fff"/>
<polygon points="391.95,389.20 394.26,389.23 396.73,389.27 397.90,389.30 399.31,389.98 399.83,390.65 399.96,391.32 400.20,392.00 400.66,392.67 401.11,393.33 401.53,394.00 401.91,394.67 402.24,395.33 402.50,396.00 402.69,396.67 402.81,397.33 402.88,398.00 402.90,398.67 402.87,399.33 402.80,400.00 402.68,400.71 402.51,401.43 402.31,402.14 402.08,402.86 401.81,403.57 401.52,404.29 401.20,405.00 400.84,405.71 400.44,406.43 400.00,407.14 399.54,407.86 399.08,408.57 398.63,409.29 398.20,410.00 397.80,410.71 397.40,411.43 397.01,412.14 396.62,412.86 396.24,413.57 395.87,414.29 395.50,415.00 395.20,415.80 394.99,416.60 394.66,417.40 394.00,418.20 393.58,418.23 392.69,418.27 391.80,418.30 391.60,418.30 390.71,418.27 389.82,418.23 389.40,418.20 388.74,417.40 388.41,416.60 388.20,415.80 387.90,415.00 387.53,414.29 387.16,413.57 386.78,412.86 386.39,412.14 386.00,411.43 385.60,410.71 385.20,410.00 384.77,409.29 384.32,408.57 383.86,407.86 383.40,407.14 382.96,406.43 382.56,405.71 382.20,405.00 381.88,404.29 381.59,403.57 381.32,402.86 381.09,402.14 380.89,401.43 380.72,400.71 380.60,400.00 380.53,399.33 380.50,398.67 380.52,398.00 380.59,397.33 380.71,396.67 380.90,396.00 381.16,395.33 381.49,394.67 381.87,394.00 382.29,393.33 382.74,392.67 383.20,392.00 383.44,391.32 383.57,390.65 384.09,389.98 385.50,389.30 386.67,389.27 389.14,389.23 391.45,389.20" fill="#e12a2a" stroke="#8a1515" stroke-width="0.45" stroke-linejoin="round"/>
<line x1="391.70" y1="389.20" x2="391.70" y2="418.30" stroke="#4a0a0a" stroke-width="0.5"/>
<rect x="390.65" y="394.00" width="2.10" height="10.50" fill="#000" stroke="none" stroke-width="0"/>
<circle cx="391.70" cy="399.20" r="1.25" fill="#fff"/>
<polygon points="419.85,393.20 424.12,393.23 428.55,393.27 430.60,393.30 431.67,393.97 432.07,394.64 431.97,395.31 431.56,395.99 431.01,396.66 430.49,397.33 430.20,398.00 430.06,398.67 429.91,399.33 429.73,400.00 429.55,400.67 429.36,401.33 429.16,402.00 428.97,402.67 428.78,403.33 428.60,404.00 428.43,404.67 428.26,405.33 428.09,406.00 427.93,406.67 427.76,407.33 427.60,408.00 427.43,408.67 427.27,409.33 427.10,410.00 426.93,410.67 426.75,411.33 426.57,412.00 426.39,412.67 426.21,413.33 426.04,414.00 425.88,414.67 425.73,415.33 425.60,416.00 425.53,416.69 425.55,417.38 425.61,418.07 425.70,418.76 425.77,419.45 425.80,420.14 425.75,420.83 425.59,421.52 425.28,422.21 424.80,422.90 423.84,422.93 421.77,422.97 419.70,423.00 419.50,423.00 417.43,422.97 415.36,422.93 414.40,422.90 413.92,422.21 413.61,421.52 413.45,420.83 413.40,420.14 413.43,419.45 413.50,418.76 413.59,418.07 413.65,417.38 413.67,416.69 413.60,416.00 413.47,415.33 413.32,414.67 413.16,414.00 412.99,413.33 412.81,412.67 412.63,412.00 412.45,411.33 412.27,410.67 412.10,410.00 411.93,409.33 411.77,408.67 411.60,408.00 411.44,407.33 411.27,406.67 411.11,406.00 410.94,405.33 410.77,404.67 410.60,404.00 410.42,403.33 410.23,402.67 410.04,402.00 409.84,401.33 409.65,400.67 409.47,400.00 409.29,399.33 409.14,398.67 409.00,398.00 408.71,397.33 408.19,396.66 407.64,395.99 407.23,395.31 407.13,394.64 407.53,393.97 408.60,393.30 410.65,393.27 415.08,393.23 419.35,393.20" fill="#e12a2a" stroke="#8a1515" stroke-width="0.45" stroke-linejoin="round"/>
<line x1="419.60" y1="393.20" x2="419.60" y2="423.00" stroke="#4a0a0a" stroke-width="0.5"/>
<rect x="418.55" y="394.50" width="2.10" height="12.90" fill="#000" stroke="none" stroke-width="0"/>
<circle cx="419.60" cy="398.30" r="1.25" fill="#fff"/>
<line x1="280.50" y1="451.80" x2="280.50" y2="454.30" stroke="#555" stroke-width="0.6"/>
<text x="280.50" y="461.60" font-size="4.4" font-weight="normal" font-style="normal" text-anchor="middle" fill="#222">Stage I</text>
<line x1="308.40" y1="451.80" x2="308.40" y2="454.30" stroke="#555" stroke-width="0.6"/>
<text x="308.40" y="461.60" font-size="4.4" font-weight="normal" font-style="normal" text-anchor="middle" fill="#222">Stage II</text>
<line x1="336.10" y1="451.80" x2="336.10" y2="454.30" stroke="#555" stroke-width="0.6"/>
<text x="336.10" y="461.60" font-size="4.4" font-weight="normal" font-style="normal" text-anchor="middle" fill="#222">Stage III</text>
<line x1="363.90" y1="451.80" x2="363.90" y2="454.30" stroke="#555" stroke-width="0.6"/>
<text x="363.90" y="461.60" font-size="4.4" font-weight="normal" font-style="normal" text-anchor="middle" fill="#222">Stage IVA</text>
<line x1="391.70" y1="451.80" x2="391.70" y2="454.30" stroke="#555" stroke-width="0.6"/>
<text x="391.70" y="461.60" font-size="4.4" font-weight="normal" font-style="normal" text-anchor="middle" fill="#222">Stage IVB</text>
<line x1="419.50" y1="451.80" x2="419.50" y2="454.30" stroke="#555" stroke-width="0.6"/>
<text x="419.50" y="461.60" font-size="4.4" font-weight="normal" font-style="normal" text-anchor="middle" fill="#222">Stage IVC</text>
<text x="4.90" y="506.90" font-size="17.6" font-weight="bold" font-style="normal" text-anchor="start" fill="#111">K</text>
<text x="0.60" y="532.80" font-size="6.6" font-weight="bold" font-style="italic" text-anchor="start" fill="#000">SLC2A1</text>
<text x="31.80" y="525.80" font-size="3.5" font-weight="normal" font-style="normal" text-anchor="start" fill="#333" transform="rotate(-35 31.80 525.80)">ACC</text>
<text x="40.88" y="525.80" font-size="3.5" font-weight="normal" font-style="normal" text-anchor="start" fill="#333" transform="rotate(-35 40.88 525.80)">BLCA</text>
<text x="49.96" y="525.80" font-size="3.5" font-weight="normal" font-style="normal" text-anchor="start" fill="#333" transform="rotate(-35 49.96 525.80)">BRCA</text>
<text x="59.04" y="525.80" font-size="3.5" font-weight="normal" font-style="normal" text-anchor="start" fill="#333" transform="rotate(-35 59.04 525.80)">CESC</text>
<text x="68.12" y="525.80" font-size="3.5" font-weight="normal" font-style="normal" text-anchor="start" fill="#333" transform="rotate(-35 68.12 525.80)">CHOL</text>
<text x="77.20" y="525.80" font-size="3.5" font-weight="normal" font-style="normal" text-anchor="start" fill="#333" transform="rotate(-35 77.20 525.80)">COAD</text>
<text x="86.28" y="525.80" font-size="3.5" font-weight="normal" font-style="normal" text-anchor="start" fill="#333" transform="rotate(-35 86.28 525.80)">DLBC</text>
<text x="95.36" y="525.80" font-size="3.5" font-weight="normal" font-style="normal" text-anchor="start" fill="#333" transform="rotate(-35 95.36 525.80)">ESCA</text>
<text x="104.44" y="525.80" font-size="3.5" font-weight="normal" font-style="normal" text-anchor="start" fill="#333" transform="rotate(-35 104.44 525.80)">GBM</text>
<text x="113.52" y="525.80" font-size="3.5" font-weight="normal" font-style="normal" text-anchor="start" fill="#333" transform="rotate(-35 113.52 525.80)">HNSC</text>
<text x="122.60" y="525.80" font-size="3.5" font-weight="normal" font-style="normal" text-anchor="start" fill="#333" transform="rotate(-35 122.60 525.80)">KICH</text>
<text x="131.68" y="525.80" font-size="3.5" font-weight="normal" font-style="normal" text-anchor="start" fill="#333" transform="rotate(-35 131.68 525.80)">KIRC</text>
<text x="140.76" y="525.80" font-size="3.5" font-weight="normal" font-style="normal" text-anchor="start" fill="#333" transform="rotate(-35 140.76 525.80)">KIRP</text>
<text x="149.84" y="525.80" font-size="3.5" font-weight="normal" font-style="normal" text-anchor="start" fill="#333" transform="rotate(-35 149.84 525.80)">LAML</text>
<text x="158.92" y="525.80" font-size="3.5" font-weight="normal" font-style="normal" text-anchor="start" fill="#333" transform="rotate(-35 158.92 525.80)">LGG</text>
<text x="168.00" y="525.80" font-size="3.5" font-weight="normal" font-style="normal" text-anchor="start" fill="#333" transform="rotate(-35 168.00 525.80)">LIHC</text>
<text x="177.08" y="525.80" font-size="3.5" font-weight="normal" font-style="normal" text-anchor="start" fill="#333" transform="rotate(-35 177.08 525.80)">LUAD</text>
<text x="186.16" y="525.80" font-size="3.5" font-weight="normal" font-style="normal" text-anchor="start" fill="#333" transform="rotate(-35 186.16 525.80)">LUSC</text>
<text x="195.24" y="525.80" font-size="3.5" font-weight="normal" font-style="normal" text-anchor="start" fill="#333" transform="rotate(-35 195.24 525.80)">MESO</text>
<text x="204.32" y="525.80" font-size="3.5" font-weight="normal" font-style="normal" text-anchor="start" fill="#333" transform="rotate(-35 204.32 525.80)">OV</text>
<text x="213.40" y="525.80" font-size="3.5" font-weight="normal" font-style="normal" text-anchor="start" fill="#333" transform="rotate(-35 213.40 525.80)">PAAD</text>
<text x="222.48" y="525.80" font-size="3.5" font-weight="normal" font-style="normal" text-anchor="start" fill="#333" transform="rotate(-35 222.48 525.80)">PCPG</text>
<text x="231.56" y="525.80" font-size="3.5" font-weight="normal" font-style="normal" text-anchor="start" fill="#333" transform="rotate(-35 231.56 525.80)">PRAD</text>
<text x="240.64" y="525.80" font-size="3.5" font-weight="normal" font-style="normal" text-anchor="start" fill="#333" transform="rotate(-35 240.64 525.80)">READ</text>
<text x="249.72" y="525.80" font-size="3.5" font-weight="normal" font-style="normal" text-anchor="start" fill="#333" transform="rotate(-35 249.72 525.80)">SARC</text>
<text x="258.80" y="525.80" font-size="3.5" font-weight="normal" font-style="normal" text-anchor="start" fill="#333" transform="rotate(-35 258.80 525.80)">SKCM</text>
<text x="267.88" y="525.80" font-size="3.5" font-weight="normal" font-style="normal" text-anchor="start" fill="#333" transform="rotate(-35 267.88 525.80)">STAD</text>
<text x="276.96" y="525.80" font-size="3.5" font-weight="normal" font-style="normal" text-anchor="start" fill="#333" transform="rotate(-35 276.96 525.80)">TGCT</text>
<text x="286.04" y="525.80" font-size="3.5" font-weight="normal" font-style="normal" text-anchor="start" fill="#333" transform="rotate(-35 286.04 525.80)">THCA</text>
<text x="295.12" y="525.80" font-size="3.5" font-weight="normal" font-style="normal" text-anchor="start" fill="#333" transform="rotate(-35 295.12 525.80)">THYM</text>
<text x="304.20" y="525.80" font-size="3.5" font-weight="normal" font-style="normal" text-anchor="start" fill="#333" transform="rotate(-35 304.20 525.80)">UCEC</text>
<text x="313.28" y="525.80" font-size="3.5" font-weight="normal" font-style="normal" text-anchor="start" fill="#333" transform="rotate(-35 313.28 525.80)">UCS</text>
<text x="322.36" y="525.80" font-size="3.5" font-weight="normal" font-style="normal" text-anchor="start" fill="#333" transform="rotate(-35 322.36 525.80)">UVM</text>
<rect x="26.30" y="529.15" width="7.00" height="7.50" fill="#a1afc9" stroke="none" stroke-width="0"/>
<rect x="35.38" y="529.15" width="7.00" height="7.50" fill="#5b72a1" stroke="none" stroke-width="0"/>
<rect x="44.46" y="529.15" width="7.00" height="7.50" fill="#7e90b5" stroke="none" stroke-width="0"/>
<rect x="53.54" y="529.15" width="7.00" height="7.50" fill="#4f689a" stroke="none" stroke-width="0"/>
<rect x="62.62" y="529.15" width="7.00" height="7.50" fill="#a1afc9" stroke="none" stroke-width="0"/>
<rect x="71.70" y="529.15" width="7.00" height="7.50" fill="#677ca8" stroke="none" stroke-width="0"/>
<rect x="80.78" y="529.15" width="7.00" height="7.50" fill="#96a4c3" stroke="none" stroke-width="0"/>
<rect x="89.86" y="529.15" width="7.00" height="7.50" fill="#5b72a1" stroke="none" stroke-width="0"/>
<rect x="98.94" y="529.15" width="7.00" height="7.50" fill="#7386af" stroke="none" stroke-width="0"/>
<rect x="108.02" y="529.15" width="7.00" height="7.50" fill="#445e94" stroke="none" stroke-width="0"/>
<rect x="117.10" y="529.15" width="7.00" height="7.50" fill="#a1afc9" stroke="none" stroke-width="0"/>
<rect x="126.18" y="529.15" width="7.00" height="7.50" fill="#677ca8" stroke="none" stroke-width="0"/>
<rect x="135.26" y="529.15" width="7.00" height="7.50" fill="#a1afc9" stroke="none" stroke-width="0"/>
<rect x="144.34" y="529.15" width="7.00" height="7.50" fill="#96a4c3" stroke="none" stroke-width="0"/>
<rect x="153.42" y="529.15" width="7.00" height="7.50" fill="#7e90b5" stroke="none" stroke-width="0"/>
<rect x="162.50" y="529.15" width="7.00" height="7.50" fill="#d0d7e4" stroke="none" stroke-width="0"/>
<rect x="171.58" y="529.15" width="7.00" height="7.50" fill="#7e90b5" stroke="none" stroke-width="0"/>
<rect x="180.66" y="529.15" width="7.00" height="7.50" fill="#445e94" stroke="none" stroke-width="0"/>
<rect x="189.74" y="529.15" width="7.00" height="7.50" fill="#96a4c3" stroke="none" stroke-width="0"/>
<rect x="198.82" y="529.15" width="7.00" height="7.50" fill="#5b72a1" stroke="none" stroke-width="0"/>
<rect x="207.90" y="529.15" width="7.00" height="7.50" fill="#677ca8" stroke="none" stroke-width="0"/>
<rect x="216.98" y="529.15" width="7.00" height="7.50" fill="#adb9d0" stroke="none" stroke-width="0"/>
<rect x="226.06" y="529.15" width="7.00" height="7.50" fill="#96a4c3" stroke="none" stroke-width="0"/>
<rect x="235.14" y="529.15" width="7.00" height="7.50" fill="#7386af" stroke="none" stroke-width="0"/>
<rect x="244.22" y="529.15" width="7.00" height="7.50" fill="#96a4c3" stroke="none" stroke-width="0"/>
<rect x="253.30" y="529.15" width="7.00" height="7.50" fill="#7e90b5" stroke="none" stroke-width="0"/>
<rect x="262.38" y="529.15" width="7.00" height="7.50" fill="#7386af" stroke="none" stroke-width="0"/>
<rect x="271.46" y="529.15" width="7.00" height="7.50" fill="#7386af" stroke="none" stroke-width="0"/>
<rect x="280.54" y="529.15" width="7.00" height="7.50" fill="#96a4c3" stroke="none" stroke-width="0"/>
<rect x="289.62" y="529.15" width="7.00" height="7.50" fill="#a1afc9" stroke="none" stroke-width="0"/>
<rect x="298.70" y="529.15" width="7.00" height="7.50" fill="#677ca8" stroke="none" stroke-width="0"/>
<rect x="307.78" y="529.15" width="7.00" height="7.50" fill="#7386af" stroke="none" stroke-width="0"/>
<rect x="316.86" y="529.15" width="7.00" height="7.50" fill="#a1afc9" stroke="none" stroke-width="0"/>
<text x="23.60" y="545.90" font-size="3.8" font-weight="normal" font-style="normal" text-anchor="end" fill="#222">SLC2A2</text>
<line x1="23.90" y1="544.60" x2="25.10" y2="544.60" stroke="#666" stroke-width="0.4"/>
<rect x="62.62" y="540.85" width="7.00" height="7.50" fill="#e8ebf2" stroke="none" stroke-width="0"/>
<rect x="126.18" y="540.85" width="7.00" height="7.50" fill="#adb9d0" stroke="none" stroke-width="0"/>
<rect x="135.26" y="540.85" width="7.00" height="7.50" fill="#d0d7e4" stroke="none" stroke-width="0"/>
<rect x="162.50" y="540.85" width="7.00" height="7.50" fill="#7e90b5" stroke="none" stroke-width="0"/>
<rect x="207.90" y="540.85" width="7.00" height="7.50" fill="#eceff4" stroke="none" stroke-width="0"/>
<text x="23.60" y="555.70" font-size="3.8" font-weight="normal" font-style="normal" text-anchor="end" fill="#222">SLC2A3</text>
<line x1="23.90" y1="554.40" x2="25.10" y2="554.40" stroke="#666" stroke-width="0.4"/>
<rect x="26.30" y="550.65" width="7.00" height="7.50" fill="#b9c3d7" stroke="none" stroke-width="0"/>
<rect x="35.38" y="550.65" width="7.00" height="7.50" fill="#adb9d0" stroke="none" stroke-width="0"/>
<rect x="44.46" y="550.65" width="7.00" height="7.50" fill="#adb9d0" stroke="none" stroke-width="0"/>
<rect x="53.54" y="550.65" width="7.00" height="7.50" fill="#b9c3d7" stroke="none" stroke-width="0"/>
<rect x="62.62" y="550.65" width="7.00" height="7.50" fill="#adb9d0" stroke="none" stroke-width="0"/>
<rect x="71.70" y="550.65" width="7.00" height="7.50" fill="#b9c3d7" stroke="none" stroke-width="0"/>
<rect x="80.78" y="550.65" width="7.00" height="7.50" fill="#a1afc9" stroke="none" stroke-width="0"/>
<rect x="89.86" y="550.65" width="7.00" height="7.50" fill="#adb9d0" stroke="none" stroke-width="0"/>
<rect x="98.94" y="550.65" width="7.00" height="7.50" fill="#a1afc9" stroke="none" stroke-width="0"/>
<rect x="108.02" y="550.65" width="7.00" height="7.50" fill="#adb9d0" stroke="none" stroke-width="0"/>
<rect x="117.10" y="550.65" width="7.00" height="7.50" fill="#d0d7e4" stroke="none" stroke-width="0"/>
<rect x="126.18" y="550.65" width="7.00" height="7.50" fill="#8a9abc" stroke="none" stroke-width="0"/>
<rect x="135.26" y="550.65" width="7.00" height="7.50" fill="#b9c3d7" stroke="none" stroke-width="0"/>
<rect x="144.34" y="550.65" width="7.00" height="7.50" fill="#7e90b5" stroke="none" stroke-width="0"/>
<rect x="153.42" y="550.65" width="7.00" height="7.50" fill="#adb9d0" stroke="none" stroke-width="0"/>
<rect x="162.50" y="550.65" width="7.00" height="7.50" fill="#d0d7e4" stroke="none" stroke-width="0"/>
<rect x="171.58" y="550.65" width="7.00" height="7.50" fill="#adb9d0" stroke="none" stroke-width="0"/>
<rect x="180.66" y="550.65" width="7.00" height="7.50" fill="#a1afc9" stroke="none" stroke-width="0"/>
<rect x="189.74" y="550.65" width="7.00" height="7.50" fill="#96a4c3" stroke="none" stroke-width="0"/>
<rect x="198.82" y="550.65" width="7.00" height="7.50" fill="#b9c3d7" stroke="none" stroke-width="0"/>
<rect x="207.90" y="550.65" width="7.00" height="7.50" fill="#a1afc9" stroke="none" stroke-width="0"/>
<rect x="216.98" y="550.65" width="7.00" height="7.50" fill="#96a4c3" stroke="none" stroke-width="0"/>
<rect x="226.06" y="550.65" width="7.00" height="7.50" fill="#b9c3d7" stroke="none" stroke-width="0"/>
<rect x="235.14" y="550.65" width="7.00" height="7.50" fill="#b9c3d7" stroke="none" stroke-width="0"/>
<rect x="244.22" y="550.65" width="7.00" height="7.50" fill="#96a4c3" stroke="none" stroke-width="0"/>
<rect x="253.30" y="550.65" width="7.00" height="7.50" fill="#96a4c3" stroke="none" stroke-width="0"/>
<rect x="262.38" y="550.65" width="7.00" height="7.50" fill="#adb9d0" stroke="none" stroke-width="0"/>
<rect x="271.46" y="550.65" width="7.00" height="7.50" fill="#7386af" stroke="none" stroke-width="0"/>
<rect x="280.54" y="550.65" width="7.00" height="7.50" fill="#a1afc9" stroke="none" stroke-width="0"/>
<rect x="289.62" y="550.65" width="7.00" height="7.50" fill="#bdc7d9" stroke="none" stroke-width="0"/>
<rect x="298.70" y="550.65" width="7.00" height="7.50" fill="#b9c3d7" stroke="none" stroke-width="0"/>
<rect x="307.78" y="550.65" width="7.00" height="7.50" fill="#a1afc9" stroke="none" stroke-width="0"/>
<rect x="316.86" y="550.65" width="7.00" height="7.50" fill="#d0d7e4" stroke="none" stroke-width="0"/>
<text x="23.60" y="565.60" font-size="3.8" font-weight="normal" font-style="normal" text-anchor="end" fill="#222">SLC2A4</text>
<line x1="23.90" y1="564.30" x2="25.10" y2="564.30" stroke="#666" stroke-width="0.4"/>
<rect x="26.30" y="560.55" width="7.00" height="7.50" fill="#dce1eb" stroke="none" stroke-width="0"/>
<rect x="35.38" y="560.55" width="7.00" height="7.50" fill="#f8f9fb" stroke="none" stroke-width="0"/>
<rect x="44.46" y="560.55" width="7.00" height="7.50" fill="#f8f9fb" stroke="none" stroke-width="0"/>
<rect x="53.54" y="560.55" width="7.00" height="7.50" fill="#f8f9fb" stroke="none" stroke-width="0"/>
<rect x="62.62" y="560.55" width="7.00" height="7.50" fill="#f8f9fb" stroke="none" stroke-width="0"/>
<rect x="71.70" y="560.55" width="7.00" height="7.50" fill="#e8ebf2" stroke="none" stroke-width="0"/>
<rect x="80.78" y="560.55" width="7.00" height="7.50" fill="#f8f9fb" stroke="none" stroke-width="0"/>
<rect x="89.86" y="560.55" width="7.00" height="7.50" fill="#e8ebf2" stroke="none" stroke-width="0"/>
<rect x="98.94" y="560.55" width="7.00" height="7.50" fill="#f8f9fb" stroke="none" stroke-width="0"/>
<rect x="108.02" y="560.55" width="7.00" height="7.50" fill="#f8f9fb" stroke="none" stroke-width="0"/>
<rect x="117.10" y="560.55" width="7.00" height="7.50" fill="#a1afc9" stroke="none" stroke-width="0"/>
<rect x="126.18" y="560.55" width="7.00" height="7.50" fill="#e8ebf2" stroke="none" stroke-width="0"/>
<rect x="135.26" y="560.55" width="7.00" height="7.50" fill="#eceff4" stroke="none" stroke-width="0"/>
<rect x="144.34" y="560.55" width="7.00" height="7.50" fill="#f8f9fb" stroke="none" stroke-width="0"/>
<rect x="153.42" y="560.55" width="7.00" height="7.50" fill="#e8ebf2" stroke="none" stroke-width="0"/>
<rect x="162.50" y="560.55" width="7.00" height="7.50" fill="#e8ebf2" stroke="none" stroke-width="0"/>
<rect x="171.58" y="560.55" width="7.00" height="7.50" fill="#f8f9fb" stroke="none" stroke-width="0"/>
<rect x="180.66" y="560.55" width="7.00" height="7.50" fill="#f8f9fb" stroke="none" stroke-width="0"/>
<rect x="189.74" y="560.55" width="7.00" height="7.50" fill="#f8f9fb" stroke="none" stroke-width="0"/>
<rect x="198.82" y="560.55" width="7.00" height="7.50" fill="#f3f5f8" stroke="none" stroke-width="0"/>
<rect x="207.90" y="560.55" width="7.00" height="7.50" fill="#f3f5f8" stroke="none" stroke-width="0"/>
<rect x="216.98" y="560.55" width="7.00" height="7.50" fill="#f8f9fb" stroke="none" stroke-width="0"/>
<rect x="226.06" y="560.55" width="7.00" height="7.50" fill="#d0d7e4" stroke="none" stroke-width="0"/>
<rect x="235.14" y="560.55" width="7.00" height="7.50" fill="#e8ebf2" stroke="none" stroke-width="0"/>
<rect x="244.22" y="560.55" width="7.00" height="7.50" fill="#f3f5f8" stroke="none" stroke-width="0"/>
<rect x="253.30" y="560.55" width="7.00" height="7.50" fill="#f8f9fb" stroke="none" stroke-width="0"/>
<rect x="262.38" y="560.55" width="7.00" height="7.50" fill="#e8ebf2" stroke="none" stroke-width="0"/>
<rect x="271.46" y="560.55" width="7.00" height="7.50" fill="#e8ebf2" stroke="none" stroke-width="0"/>
<rect x="280.54" y="560.55" width="7.00" height="7.50" fill="#e8ebf2" stroke="none" stroke-width="0"/>
<rect x="289.62" y="560.55" width="7.00" height="7.50" fill="#d0d7e4" stroke="none" stroke-width="0"/>
<rect x="298.70" y="560.55" width="7.00" height="7.50" fill="#f3f5f8" stroke="none" stroke-width="0"/>
<rect x="307.78" y="560.55" width="7.00" height="7.50" fill="#e8ebf2" stroke="none" stroke-width="0"/>
<rect x="316.86" y="560.55" width="7.00" height="7.50" fill="#adb9d0" stroke="none" stroke-width="0"/>
<text x="23.60" y="575.90" font-size="3.8" font-weight="normal" font-style="normal" text-anchor="end" fill="#222">SLC2A5</text>
<line x1="23.90" y1="574.60" x2="25.10" y2="574.60" stroke="#666" stroke-width="0.4"/>
<rect x="26.30" y="570.85" width="7.00" height="7.50" fill="#f3f5f8" stroke="none" stroke-width="0"/>
<rect x="35.38" y="570.85" width="7.00" height="7.50" fill="#dce1eb" stroke="none" stroke-width="0"/>
<rect x="44.46" y="570.85" width="7.00" height="7.50" fill="#dce1eb" stroke="none" stroke-width="0"/>
<rect x="53.54" y="570.85" width="7.00" height="7.50" fill="#dce1eb" stroke="none" stroke-width="0"/>
<rect x="62.62" y="570.85" width="7.00" height="7.50" fill="#f3f5f8" stroke="none" stroke-width="0"/>
<rect x="71.70" y="570.85" width="7.00" height="7.50" fill="#dce1eb" stroke="none" stroke-width="0"/>
<rect x="80.78" y="570.85" width="7.00" height="7.50" fill="#96a4c3" stroke="none" stroke-width="0"/>
<rect x="89.86" y="570.85" width="7.00" height="7.50" fill="#dce1eb" stroke="none" stroke-width="0"/>
<rect x="98.94" y="570.85" width="7.00" height="7.50" fill="#96a4c3" stroke="none" stroke-width="0"/>
<rect x="108.02" y="570.85" width="7.00" height="7.50" fill="#dce1eb" stroke="none" stroke-width="0"/>
<rect x="117.10" y="570.85" width="7.00" height="7.50" fill="#f8f9fb" stroke="none" stroke-width="0"/>
<rect x="126.18" y="570.85" width="7.00" height="7.50" fill="#8a9abc" stroke="none" stroke-width="0"/>
<rect x="135.26" y="570.85" width="7.00" height="7.50" fill="#d0d7e4" stroke="none" stroke-width="0"/>
<rect x="144.34" y="570.85" width="7.00" height="7.50" fill="#96a4c3" stroke="none" stroke-width="0"/>
<rect x="153.42" y="570.85" width="7.00" height="7.50" fill="#a1afc9" stroke="none" stroke-width="0"/>
<rect x="162.50" y="570.85" width="7.00" height="7.50" fill="#f8f9fb" stroke="none" stroke-width="0"/>
<rect x="171.58" y="570.85" width="7.00" height="7.50" fill="#d0d7e4" stroke="none" stroke-width="0"/>
<rect x="180.66" y="570.85" width="7.00" height="7.50" fill="#d0d7e4" stroke="none" stroke-width="0"/>
<rect x="189.74" y="570.85" width="7.00" height="7.50" fill="#adb9d0" stroke="none" stroke-width="0"/>
<rect x="198.82" y="570.85" width="7.00" height="7.50" fill="#dce1eb" stroke="none" stroke-width="0"/>
<rect x="207.90" y="570.85" width="7.00" height="7.50" fill="#dce1eb" stroke="none" stroke-width="0"/>
<rect x="216.98" y="570.85" width="7.00" height="7.50" fill="#f8f9fb" stroke="none" stroke-width="0"/>
<rect x="226.06" y="570.85" width="7.00" height="7.50" fill="#dce1eb" stroke="none" stroke-width="0"/>
<rect x="235.14" y="570.85" width="7.00" height="7.50" fill="#e8ebf2" stroke="none" stroke-width="0"/>
<rect x="244.22" y="570.85" width="7.00" height="7.50" fill="#c4cddd" stroke="none" stroke-width="0"/>
<rect x="253.30" y="570.85" width="7.00" height="7.50" fill="#d0d7e4" stroke="none" stroke-width="0"/>
<rect x="262.38" y="570.85" width="7.00" height="7.50" fill="#d0d7e4" stroke="none" stroke-width="0"/>
<rect x="271.46" y="570.85" width="7.00" height="7.50" fill="#c4cddd" stroke="none" stroke-width="0"/>
<rect x="280.54" y="570.85" width="7.00" height="7.50" fill="#f8f9fb" stroke="none" stroke-width="0"/>
<rect x="289.62" y="570.85" width="7.00" height="7.50" fill="#e8ebf2" stroke="none" stroke-width="0"/>
<rect x="298.70" y="570.85" width="7.00" height="7.50" fill="#dce1eb" stroke="none" stroke-width="0"/>
<rect x="307.78" y="570.85" width="7.00" height="7.50" fill="#dce1eb" stroke="none" stroke-width="0"/>
<rect x="316.86" y="570.85" width="7.00" height="7.50" fill="#f8f9fb" stroke="none" stroke-width="0"/>
<text x="23.60" y="586.10" font-size="3.8" font-weight="normal" font-style="normal" text-anchor="end" fill="#222">SLC2A6</text>
<line x1="23.90" y1="584.80" x2="25.10" y2="584.80" stroke="#666" stroke-width="0.4"/>
<rect x="26.30" y="581.05" width="7.00" height="7.50" fill="#b9c3d7" stroke="none" stroke-width="0"/>
<rect x="35.38" y="581.05" width="7.00" height="7.50" fill="#adb9d0" stroke="none" stroke-width="0"/>
<rect x="44.46" y="581.05" width="7.00" height="7.50" fill="#d0d7e4" stroke="none" stroke-width="0"/>
<rect x="53.54" y="581.05" width="7.00" height="7.50" fill="#d0d7e4" stroke="none" stroke-width="0"/>
<rect x="62.62" y="581.05" width="7.00" height="7.50" fill="#b9c3d7" stroke="none" stroke-width="0"/>
<rect x="71.70" y="581.05" width="7.00" height="7.50" fill="#d0d7e4" stroke="none" stroke-width="0"/>
<rect x="80.78" y="581.05" width="7.00" height="7.50" fill="#8a9abc" stroke="none" stroke-width="0"/>
<rect x="89.86" y="581.05" width="7.00" height="7.50" fill="#d0d7e4" stroke="none" stroke-width="0"/>
<rect x="98.94" y="581.05" width="7.00" height="7.50" fill="#b9c3d7" stroke="none" stroke-width="0"/>
<rect x="108.02" y="581.05" width="7.00" height="7.50" fill="#d0d7e4" stroke="none" stroke-width="0"/>
<rect x="117.10" y="581.05" width="7.00" height="7.50" fill="#e8ebf2" stroke="none" stroke-width="0"/>
<rect x="126.18" y="581.05" width="7.00" height="7.50" fill="#d0d7e4" stroke="none" stroke-width="0"/>
<rect x="135.26" y="581.05" width="7.00" height="7.50" fill="#dce1eb" stroke="none" stroke-width="0"/>
<rect x="144.34" y="581.05" width="7.00" height="7.50" fill="#c4cddd" stroke="none" stroke-width="0"/>
<rect x="153.42" y="581.05" width="7.00" height="7.50" fill="#b9c3d7" stroke="none" stroke-width="0"/>
<rect x="162.50" y="581.05" width="7.00" height="7.50" fill="#d0d7e4" stroke="none" stroke-width="0"/>
<rect x="171.58" y="581.05" width="7.00" height="7.50" fill="#c4cddd" stroke="none" stroke-width="0"/>
<rect x="180.66" y="581.05" width="7.00" height="7.50" fill="#c4cddd" stroke="none" stroke-width="0"/>
<rect x="189.74" y="581.05" width="7.00" height="7.50" fill="#b9c3d7" stroke="none" stroke-width="0"/>
<rect x="198.82" y="581.05" width="7.00" height="7.50" fill="#d0d7e4" stroke="none" stroke-width="0"/>
<rect x="207.90" y="581.05" width="7.00" height="7.50" fill="#b9c3d7" stroke="none" stroke-width="0"/>
<rect x="216.98" y="581.05" width="7.00" height="7.50" fill="#adb9d0" stroke="none" stroke-width="0"/>
<rect x="226.06" y="581.05" width="7.00" height="7.50" fill="#eceff4" stroke="none" stroke-width="0"/>
<rect x="235.14" y="581.05" width="7.00" height="7.50" fill="#dce1eb" stroke="none" stroke-width="0"/>
<rect x="244.22" y="581.05" width="7.00" height="7.50" fill="#c4cddd" stroke="none" stroke-width="0"/>
<rect x="253.30" y="581.05" width="7.00" height="7.50" fill="#c4cddd" stroke="none" stroke-width="0"/>
<rect x="262.38" y="581.05" width="7.00" height="7.50" fill="#d0d7e4" stroke="none" stroke-width="0"/>
<rect x="271.46" y="581.05" width="7.00" height="7.50" fill="#b9c3d7" stroke="none" stroke-width="0"/>
<rect x="280.54" y="581.05" width="7.00" height="7.50" fill="#e8ebf2" stroke="none" stroke-width="0"/>
<rect x="289.62" y="581.05" width="7.00" height="7.50" fill="#dce1eb" stroke="none" stroke-width="0"/>
<rect x="298.70" y="581.05" width="7.00" height="7.50" fill="#b9c3d7" stroke="none" stroke-width="0"/>
<rect x="307.78" y="581.05" width="7.00" height="7.50" fill="#c4cddd" stroke="none" stroke-width="0"/>
<rect x="316.86" y="581.05" width="7.00" height="7.50" fill="#e8ebf2" stroke="none" stroke-width="0"/>
<text x="23.60" y="595.90" font-size="3.8" font-weight="normal" font-style="normal" text-anchor="end" fill="#222">SLC2A7</text>
<line x1="23.90" y1="594.60" x2="25.10" y2="594.60" stroke="#666" stroke-width="0.4"/>
<text x="23.60" y="605.80" font-size="3.8" font-weight="normal" font-style="normal" text-anchor="end" fill="#222">SLC2A8</text>
<line x1="23.90" y1="604.50" x2="25.10" y2="604.50" stroke="#666" stroke-width="0.4"/>
<rect x="26.30" y="600.75" width="7.00" height="7.50" fill="#8a9abc" stroke="none" stroke-width="0"/>
<rect x="35.38" y="600.75" width="7.00" height="7.50" fill="#a1afc9" stroke="none" stroke-width="0"/>
<rect x="44.46" y="600.75" width="7.00" height="7.50" fill="#a1afc9" stroke="none" stroke-width="0"/>
<rect x="53.54" y="600.75" width="7.00" height="7.50" fill="#a1afc9" stroke="none" stroke-width="0"/>
<rect x="62.62" y="600.75" width="7.00" height="7.50" fill="#a1afc9" stroke="none" stroke-width="0"/>
<rect x="71.70" y="600.75" width="7.00" height="7.50" fill="#8a9abc" stroke="none" stroke-width="0"/>
<rect x="80.78" y="600.75" width="7.00" height="7.50" fill="#adb9d0" stroke="none" stroke-width="0"/>
<rect x="89.86" y="600.75" width="7.00" height="7.50" fill="#adb9d0" stroke="none" stroke-width="0"/>
<rect x="98.94" y="600.75" width="7.00" height="7.50" fill="#a1afc9" stroke="none" stroke-width="0"/>
<rect x="108.02" y="600.75" width="7.00" height="7.50" fill="#a1afc9" stroke="none" stroke-width="0"/>
<rect x="117.10" y="600.75" width="7.00" height="7.50" fill="#96a4c3" stroke="none" stroke-width="0"/>
<rect x="126.18" y="600.75" width="7.00" height="7.50" fill="#adb9d0" stroke="none" stroke-width="0"/>
<rect x="135.26" y="600.75" width="7.00" height="7.50" fill="#a1afc9" stroke="none" stroke-width="0"/>
<rect x="144.34" y="600.75" width="7.00" height="7.50" fill="#c4cddd" stroke="none" stroke-width="0"/>
<rect x="153.42" y="600.75" width="7.00" height="7.50" fill="#96a4c3" stroke="none" stroke-width="0"/>
<rect x="162.50" y="600.75" width="7.00" height="7.50" fill="#96a4c3" stroke="none" stroke-width="0"/>
<rect x="171.58" y="600.75" width="7.00" height="7.50" fill="#a1afc9" stroke="none" stroke-width="0"/>
<rect x="180.66" y="600.75" width="7.00" height="7.50" fill="#a1afc9" stroke="none" stroke-width="0"/>
<rect x="189.74" y="600.75" width="7.00" height="7.50" fill="#adb9d0" stroke="none" stroke-width="0"/>
<rect x="198.82" y="600.75" width="7.00" height="7.50" fill="#adb9d0" stroke="none" stroke-width="0"/>
<rect x="207.90" y="600.75" width="7.00" height="7.50" fill="#adb9d0" stroke="none" stroke-width="0"/>
<rect x="216.98" y="600.75" width="7.00" height="7.50" fill="#a1afc9" stroke="none" stroke-width="0"/>
<rect x="226.06" y="600.75" width="7.00" height="7.50" fill="#96a4c3" stroke="none" stroke-width="0"/>
<rect x="235.14" y="600.75" width="7.00" height="7.50" fill="#8a9abc" stroke="none" stroke-width="0"/>
<rect x="244.22" y="600.75" width="7.00" height="7.50" fill="#96a4c3" stroke="none" stroke-width="0"/>
<rect x="253.30" y="600.75" width="7.00" height="7.50" fill="#a1afc9" stroke="none" stroke-width="0"/>
<rect x="262.38" y="600.75" width="7.00" height="7.50" fill="#a1afc9" stroke="none" stroke-width="0"/>
<rect x="271.46" y="600.75" width="7.00" height="7.50" fill="#96a4c3" stroke="none" stroke-width="0"/>
<rect x="280.54" y="600.75" width="7.00" height="7.50" fill="#a1afc9" stroke="none" stroke-width="0"/>
<rect x="289.62" y="600.75" width="7.00" height="7.50" fill="#adb9d0" stroke="none" stroke-width="0"/>
<rect x="298.70" y="600.75" width="7.00" height="7.50" fill="#96a4c3" stroke="none" stroke-width="0"/>
<rect x="307.78" y="600.75" width="7.00" height="7.50" fill="#96a4c3" stroke="none" stroke-width="0"/>
<rect x="316.86" y="600.75" width="7.00" height="7.50" fill="#a1afc9" stroke="none" stroke-width="0"/>
<text x="23.60" y="616.10" font-size="3.8" font-weight="normal" font-style="normal" text-anchor="end" fill="#222">SLC2A9</text>
<line x1="23.90" y1="614.80" x2="25.10" y2="614.80" stroke="#666" stroke-width="0.4"/>
<rect x="26.30" y="611.05" width="7.00" height="7.50" fill="#dce1eb" stroke="none" stroke-width="0"/>
<rect x="35.38" y="611.05" width="7.00" height="7.50" fill="#adb9d0" stroke="none" stroke-width="0"/>
<rect x="44.46" y="611.05" width="7.00" height="7.50" fill="#c4cddd" stroke="none" stroke-width="0"/>
<rect x="53.54" y="611.05" width="7.00" height="7.50" fill="#adb9d0" stroke="none" stroke-width="0"/>
<rect x="62.62" y="611.05" width="7.00" height="7.50" fill="#e8ebf2" stroke="none" stroke-width="0"/>
<rect x="71.70" y="611.05" width="7.00" height="7.50" fill="#b9c3d7" stroke="none" stroke-width="0"/>
<rect x="80.78" y="611.05" width="7.00" height="7.50" fill="#dce1eb" stroke="none" stroke-width="0"/>
<rect x="89.86" y="611.05" width="7.00" height="7.50" fill="#b9c3d7" stroke="none" stroke-width="0"/>
<rect x="98.94" y="611.05" width="7.00" height="7.50" fill="#c4cddd" stroke="none" stroke-width="0"/>
<rect x="108.02" y="611.05" width="7.00" height="7.50" fill="#a1afc9" stroke="none" stroke-width="0"/>
<rect x="117.10" y="611.05" width="7.00" height="7.50" fill="#dce1eb" stroke="none" stroke-width="0"/>
<rect x="126.18" y="611.05" width="7.00" height="7.50" fill="#96a4c3" stroke="none" stroke-width="0"/>
<rect x="135.26" y="611.05" width="7.00" height="7.50" fill="#7e90b5" stroke="none" stroke-width="0"/>
<rect x="144.34" y="611.05" width="7.00" height="7.50" fill="#adb9d0" stroke="none" stroke-width="0"/>
<rect x="153.42" y="611.05" width="7.00" height="7.50" fill="#dce1eb" stroke="none" stroke-width="0"/>
<rect x="162.50" y="611.05" width="7.00" height="7.50" fill="#b9c3d7" stroke="none" stroke-width="0"/>
<rect x="171.58" y="611.05" width="7.00" height="7.50" fill="#d0d7e4" stroke="none" stroke-width="0"/>
<rect x="180.66" y="611.05" width="7.00" height="7.50" fill="#b9c3d7" stroke="none" stroke-width="0"/>
<rect x="189.74" y="611.05" width="7.00" height="7.50" fill="#dce1eb" stroke="none" stroke-width="0"/>
<rect x="198.82" y="611.05" width="7.00" height="7.50" fill="#b9c3d7" stroke="none" stroke-width="0"/>
<rect x="207.90" y="611.05" width="7.00" height="7.50" fill="#dce1eb" stroke="none" stroke-width="0"/>
<rect x="216.98" y="611.05" width="7.00" height="7.50" fill="#e8ebf2" stroke="none" stroke-width="0"/>
<rect x="226.06" y="611.05" width="7.00" height="7.50" fill="#dce1eb" stroke="none" stroke-width="0"/>
<rect x="235.14" y="611.05" width="7.00" height="7.50" fill="#b9c3d7" stroke="none" stroke-width="0"/>
<rect x="244.22" y="611.05" width="7.00" height="7.50" fill="#d0d7e4" stroke="none" stroke-width="0"/>
<rect x="253.30" y="611.05" width="7.00" height="7.50" fill="#dce1eb" stroke="none" stroke-width="0"/>
<rect x="262.38" y="611.05" width="7.00" height="7.50" fill="#d0d7e4" stroke="none" stroke-width="0"/>
<rect x="271.46" y="611.05" width="7.00" height="7.50" fill="#dce1eb" stroke="none" stroke-width="0"/>
<rect x="280.54" y="611.05" width="7.00" height="7.50" fill="#d0d7e4" stroke="none" stroke-width="0"/>
<rect x="289.62" y="611.05" width="7.00" height="7.50" fill="#a1afc9" stroke="none" stroke-width="0"/>
<rect x="298.70" y="611.05" width="7.00" height="7.50" fill="#dce1eb" stroke="none" stroke-width="0"/>
<rect x="307.78" y="611.05" width="7.00" height="7.50" fill="#dce1eb" stroke="none" stroke-width="0"/>
<rect x="316.86" y="611.05" width="7.00" height="7.50" fill="#b9c3d7" stroke="none" stroke-width="0"/>
<text x="23.60" y="626.30" font-size="3.8" font-weight="normal" font-style="normal" text-anchor="end" fill="#222">SLC2A10</text>
<line x1="23.90" y1="625.00" x2="25.10" y2="625.00" stroke="#666" stroke-width="0.4"/>
<rect x="26.30" y="621.25" width="7.00" height="7.50" fill="#eceff4" stroke="none" stroke-width="0"/>
<rect x="35.38" y="621.25" width="7.00" height="7.50" fill="#adb9d0" stroke="none" stroke-width="0"/>
<rect x="44.46" y="621.25" width="7.00" height="7.50" fill="#8a9abc" stroke="none" stroke-width="0"/>
<rect x="53.54" y="621.25" width="7.00" height="7.50" fill="#d0d7e4" stroke="none" stroke-width="0"/>
<rect x="62.62" y="621.25" width="7.00" height="7.50" fill="#c4cddd" stroke="none" stroke-width="0"/>
<rect x="71.70" y="621.25" width="7.00" height="7.50" fill="#c4cddd" stroke="none" stroke-width="0"/>
<rect x="80.78" y="621.25" width="7.00" height="7.50" fill="#f3f5f8" stroke="none" stroke-width="0"/>
<rect x="89.86" y="621.25" width="7.00" height="7.50" fill="#b9c3d7" stroke="none" stroke-width="0"/>
<rect x="98.94" y="621.25" width="7.00" height="7.50" fill="#adb9d0" stroke="none" stroke-width="0"/>
<rect x="108.02" y="621.25" width="7.00" height="7.50" fill="#dce1eb" stroke="none" stroke-width="0"/>
<rect x="117.10" y="621.25" width="7.00" height="7.50" fill="#f3f5f8" stroke="none" stroke-width="0"/>
<rect x="126.18" y="621.25" width="7.00" height="7.50" fill="#d0d7e4" stroke="none" stroke-width="0"/>
<rect x="135.26" y="621.25" width="7.00" height="7.50" fill="#c4cddd" stroke="none" stroke-width="0"/>
<rect x="144.34" y="621.25" width="7.00" height="7.50" fill="#f8f9fb" stroke="none" stroke-width="0"/>
<rect x="153.42" y="621.25" width="7.00" height="7.50" fill="#d0d7e4" stroke="none" stroke-width="0"/>
<rect x="162.50" y="621.25" width="7.00" height="7.50" fill="#adb9d0" stroke="none" stroke-width="0"/>
<rect x="171.58" y="621.25" width="7.00" height="7.50" fill="#b9c3d7" stroke="none" stroke-width="0"/>
<rect x="180.66" y="621.25" width="7.00" height="7.50" fill="#b9c3d7" stroke="none" stroke-width="0"/>
<rect x="189.74" y="621.25" width="7.00" height="7.50" fill="#b9c3d7" stroke="none" stroke-width="0"/>
<rect x="198.82" y="621.25" width="7.00" height="7.50" fill="#b9c3d7" stroke="none" stroke-width="0"/>
<rect x="207.90" y="621.25" width="7.00" height="7.50" fill="#a1afc9" stroke="none" stroke-width="0"/>
<rect x="216.98" y="621.25" width="7.00" height="7.50" fill="#dce1eb" stroke="none" stroke-width="0"/>
<rect x="226.06" y="621.25" width="7.00" height="7.50" fill="#8a9abc" stroke="none" stroke-width="0"/>
<rect x="235.14" y="621.25" width="7.00" height="7.50" fill="#b9c3d7" stroke="none" stroke-width="0"/>
<rect x="244.22" y="621.25" width="7.00" height="7.50" fill="#a1afc9" stroke="none" stroke-width="0"/>
<rect x="253.30" y="621.25" width="7.00" height="7.50" fill="#adb9d0" stroke="none" stroke-width="0"/>
<rect x="262.38" y="621.25" width="7.00" height="7.50" fill="#a1afc9" stroke="none" stroke-width="0"/>
<rect x="271.46" y="621.25" width="7.00" height="7.50" fill="#d0d7e4" stroke="none" stroke-width="0"/>
<rect x="280.54" y="621.25" width="7.00" height="7.50" fill="#96a4c3" stroke="none" stroke-width="0"/>
<rect x="289.62" y="621.25" width="7.00" height="7.50" fill="#dce1eb" stroke="none" stroke-width="0"/>
<rect x="298.70" y="621.25" width="7.00" height="7.50" fill="#b9c3d7" stroke="none" stroke-width="0"/>
<rect x="307.78" y="621.25" width="7.00" height="7.50" fill="#a1afc9" stroke="none" stroke-width="0"/>
<rect x="316.86" y="621.25" width="7.00" height="7.50" fill="#b9c3d7" stroke="none" stroke-width="0"/>
<text x="23.60" y="636.20" font-size="3.8" font-weight="normal" font-style="normal" text-anchor="end" fill="#222">SLC2A11</text>
<line x1="23.90" y1="634.90" x2="25.10" y2="634.90" stroke="#666" stroke-width="0.4"/>
<rect x="26.30" y="631.15" width="7.00" height="7.50" fill="#adb9d0" stroke="none" stroke-width="0"/>
<rect x="35.38" y="631.15" width="7.00" height="7.50" fill="#b9c3d7" stroke="none" stroke-width="0"/>
<rect x="44.46" y="631.15" width="7.00" height="7.50" fill="#adb9d0" stroke="none" stroke-width="0"/>
<rect x="53.54" y="631.15" width="7.00" height="7.50" fill="#b9c3d7" stroke="none" stroke-width="0"/>
<rect x="62.62" y="631.15" width="7.00" height="7.50" fill="#a1afc9" stroke="none" stroke-width="0"/>
<rect x="71.70" y="631.15" width="7.00" height="7.50" fill="#b9c3d7" stroke="none" stroke-width="0"/>
<rect x="80.78" y="631.15" width="7.00" height="7.50" fill="#adb9d0" stroke="none" stroke-width="0"/>
<rect x="89.86" y="631.15" width="7.00" height="7.50" fill="#d0d7e4" stroke="none" stroke-width="0"/>
<rect x="98.94" y="631.15" width="7.00" height="7.50" fill="#b9c3d7" stroke="none" stroke-width="0"/>
<rect x="108.02" y="631.15" width="7.00" height="7.50" fill="#d0d7e4" stroke="none" stroke-width="0"/>
<rect x="117.10" y="631.15" width="7.00" height="7.50" fill="#96a4c3" stroke="none" stroke-width="0"/>
<rect x="126.18" y="631.15" width="7.00" height="7.50" fill="#adb9d0" stroke="none" stroke-width="0"/>
<rect x="135.26" y="631.15" width="7.00" height="7.50" fill="#a1afc9" stroke="none" stroke-width="0"/>
<rect x="144.34" y="631.15" width="7.00" height="7.50" fill="#b9c3d7" stroke="none" stroke-width="0"/>
<rect x="153.42" y="631.15" width="7.00" height="7.50" fill="#a1afc9" stroke="none" stroke-width="0"/>
<rect x="162.50" y="631.15" width="7.00" height="7.50" fill="#d0d7e4" stroke="none" stroke-width="0"/>
<rect x="171.58" y="631.15" width="7.00" height="7.50" fill="#adb9d0" stroke="none" stroke-width="0"/>
<rect x="180.66" y="631.15" width="7.00" height="7.50" fill="#b9c3d7" stroke="none" stroke-width="0"/>
<rect x="189.74" y="631.15" width="7.00" height="7.50" fill="#b9c3d7" stroke="none" stroke-width="0"/>
<rect x="198.82" y="631.15" width="7.00" height="7.50" fill="#adb9d0" stroke="none" stroke-width="0"/>
<rect x="207.90" y="631.15" width="7.00" height="7.50" fill="#adb9d0" stroke="none" stroke-width="0"/>
<rect x="216.98" y="631.15" width="7.00" height="7.50" fill="#96a4c3" stroke="none" stroke-width="0"/>
<rect x="226.06" y="631.15" width="7.00" height="7.50" fill="#adb9d0" stroke="none" stroke-width="0"/>
<rect x="235.14" y="631.15" width="7.00" height="7.50" fill="#b9c3d7" stroke="none" stroke-width="0"/>
<rect x="244.22" y="631.15" width="7.00" height="7.50" fill="#a1afc9" stroke="none" stroke-width="0"/>
<rect x="253.30" y="631.15" width="7.00" height="7.50" fill="#a1afc9" stroke="none" stroke-width="0"/>
<rect x="262.38" y="631.15" width="7.00" height="7.50" fill="#c4cddd" stroke="none" stroke-width="0"/>
<rect x="271.46" y="631.15" width="7.00" height="7.50" fill="#adb9d0" stroke="none" stroke-width="0"/>
<rect x="280.54" y="631.15" width="7.00" height="7.50" fill="#96a4c3" stroke="none" stroke-width="0"/>
<rect x="289.62" y="631.15" width="7.00" height="7.50" fill="#a1afc9" stroke="none" stroke-width="0"/>
<rect x="298.70" y="631.15" width="7.00" height="7.50" fill="#a1afc9" stroke="none" stroke-width="0"/>
<rect x="307.78" y="631.15" width="7.00" height="7.50" fill="#a1afc9" stroke="none" stroke-width="0"/>
<rect x="316.86" y="631.15" width="7.00" height="7.50" fill="#b9c3d7" stroke="none" stroke-width="0"/>
<text x="23.60" y="646.20" font-size="3.8" font-weight="normal" font-style="normal" text-anchor="end" fill="#222">SLC2A12</text>
<line x1="23.90" y1="644.90" x2="25.10" y2="644.90" stroke="#666" stroke-width="0.4"/>
<rect x="26.30" y="641.15" width="7.00" height="7.50" fill="#e8ebf2" stroke="none" stroke-width="0"/>
<rect x="35.38" y="641.15" width="7.00" height="7.50" fill="#f3f5f8" stroke="none" stroke-width="0"/>
<rect x="44.46" y="641.15" width="7.00" height="7.50" fill="#f3f5f8" stroke="none" stroke-width="0"/>
<rect x="53.54" y="641.15" width="7.00" height="7.50" fill="#dce1eb" stroke="none" stroke-width="0"/>
<rect x="62.62" y="641.15" width="7.00" height="7.50" fill="#e8ebf2" stroke="none" stroke-width="0"/>
<rect x="71.70" y="641.15" width="7.00" height="7.50" fill="#dce1eb" stroke="none" stroke-width="0"/>
<rect x="89.86" y="641.15" width="7.00" height="7.50" fill="#dce1eb" stroke="none" stroke-width="0"/>
<rect x="98.94" y="641.15" width="7.00" height="7.50" fill="#e8ebf2" stroke="none" stroke-width="0"/>
<rect x="108.02" y="641.15" width="7.00" height="7.50" fill="#e8ebf2" stroke="none" stroke-width="0"/>
<rect x="117.10" y="641.15" width="7.00" height="7.50" fill="#c4cddd" stroke="none" stroke-width="0"/>
<rect x="153.42" y="641.15" width="7.00" height="7.50" fill="#e8ebf2" stroke="none" stroke-width="0"/>
<rect x="162.50" y="641.15" width="7.00" height="7.50" fill="#e8ebf2" stroke="none" stroke-width="0"/>
<rect x="171.58" y="641.15" width="7.00" height="7.50" fill="#eceff4" stroke="none" stroke-width="0"/>
<rect x="180.66" y="641.15" width="7.00" height="7.50" fill="#dce1eb" stroke="none" stroke-width="0"/>
<rect x="189.74" y="641.15" width="7.00" height="7.50" fill="#f8f9fb" stroke="none" stroke-width="0"/>
<rect x="198.82" y="641.15" width="7.00" height="7.50" fill="#dce1eb" stroke="none" stroke-width="0"/>
<rect x="207.90" y="641.15" width="7.00" height="7.50" fill="#e8ebf2" stroke="none" stroke-width="0"/>
<rect x="226.06" y="641.15" width="7.00" height="7.50" fill="#96a4c3" stroke="none" stroke-width="0"/>
<rect x="235.14" y="641.15" width="7.00" height="7.50" fill="#dce1eb" stroke="none" stroke-width="0"/>
<rect x="244.22" y="641.15" width="7.00" height="7.50" fill="#f3f5f8" stroke="none" stroke-width="0"/>
<rect x="253.30" y="641.15" width="7.00" height="7.50" fill="#fafbfc" stroke="none" stroke-width="0"/>
<rect x="262.38" y="641.15" width="7.00" height="7.50" fill="#dce1eb" stroke="none" stroke-width="0"/>
<rect x="289.62" y="641.15" width="7.00" height="7.50" fill="#eceff4" stroke="none" stroke-width="0"/>
<rect x="298.70" y="641.15" width="7.00" height="7.50" fill="#e8ebf2" stroke="none" stroke-width="0"/>
<rect x="307.78" y="641.15" width="7.00" height="7.50" fill="#e8ebf2" stroke="none" stroke-width="0"/>
<rect x="316.86" y="641.15" width="7.00" height="7.50" fill="#fafbfc" stroke="none" stroke-width="0"/>
<text x="23.60" y="656.30" font-size="3.8" font-weight="normal" font-style="normal" text-anchor="end" fill="#222">SLC2A13</text>
<line x1="23.90" y1="655.00" x2="25.10" y2="655.00" stroke="#666" stroke-width="0.4"/>
<defs><linearGradient id="cb" x1="0" y1="0" x2="0" y2="1"><stop offset="0" stop-color="#3d5c93"/><stop offset="0.5" stop-color="#95a8c9"/><stop offset="1" stop-color="#ffffff"/></linearGradient></defs>
<rect x="333.20" y="532.10" width="8.50" height="125.00" fill="url(#cb)" stroke="none" stroke-width="0"/>
<text x="343.30" y="658.50" font-size="3.5" font-weight="normal" font-style="normal" text-anchor="start" fill="#444">0</text>
<text x="343.30" y="645.20" font-size="3.5" font-weight="normal" font-style="normal" text-anchor="start" fill="#444">1</text>
<text x="343.30" y="631.90" font-size="3.5" font-weight="normal" font-style="normal" text-anchor="start" fill="#444">2</text>
<text x="343.30" y="618.60" font-size="3.5" font-weight="normal" font-style="normal" text-anchor="start" fill="#444">3</text>
<text x="343.30" y="605.30" font-size="3.5" font-weight="normal" font-style="normal" text-anchor="start" fill="#444">4</text>
<text x="343.30" y="592.00" font-size="3.5" font-weight="normal" font-style="normal" text-anchor="start" fill="#444">5</text>
<text x="343.30" y="578.70" font-size="3.5" font-weight="normal" font-style="normal" text-anchor="start" fill="#444">6</text>
<text x="343.30" y="565.40" font-size="3.5" font-weight="normal" font-style="normal" text-anchor="start" fill="#444">7</text>
<text x="343.30" y="552.10" font-size="3.5" font-weight="normal" font-style="normal" text-anchor="start" fill="#444">8</text>
<text x="343.30" y="538.80" font-size="3.5" font-weight="normal" font-style="normal" text-anchor="start" fill="#444">9</text>
<text x="351.8" y="589.3" font-size="10.2" text-anchor="middle" transform="rotate(90 351.8 589.3)">Expression [log<tspan font-size="6.5" dy="2">2</tspan><tspan dy="-2">(TPM + 1)]</tspan></text>
<line x1="352.30" y1="504.00" x2="352.30" y2="672.00" stroke="#f0f0f0" stroke-width="0.6"/>
<text x="354.00" y="499.70" font-size="17.6" font-weight="bold" font-style="normal" text-anchor="start" fill="#111">L</text>
<text x="462.0" y="481.6" font-size="10.2" font-weight="bold" text-anchor="middle">Regional <tspan font-style="italic">SLC2A1</tspan> Expression</text>
<defs><linearGradient id="skin" x1="0" y1="0" x2="0" y2="1"><stop offset="0" stop-color="#ecd9d3"/><stop offset="0.5" stop-color="#eddcd7"/><stop offset="0.8" stop-color="#f3e9e6"/><stop offset="1" stop-color="#fcf9f8"/></linearGradient><radialGradient id="lung" cx="0.5" cy="0.45" r="0.6"><stop offset="0" stop-color="#c9706f"/><stop offset="1" stop-color="#b0535b"/></radialGradient></defs>
<defs><linearGradient id="skinA" gradientUnits="userSpaceOnUse" x1="0" y1="494" x2="0" y2="683"><stop offset="0" stop-color="#ecd9d3"/><stop offset="0.45" stop-color="#ecdad4"/><stop offset="0.68" stop-color="#f6eeeb"/><stop offset="0.8" stop-color="#fdfbfa"/><stop offset="1" stop-color="#ffffff"/></linearGradient><linearGradient id="skinB" gradientUnits="userSpaceOnUse" x1="0" y1="560" x2="0" y2="683"><stop offset="0" stop-color="#ecd9d3"/><stop offset="0.5" stop-color="#eddcd7"/><stop offset="0.85" stop-color="#f4ebe8"/><stop offset="1" stop-color="#f8f3f1"/></linearGradient></defs>
<path d="M 460.30 494.60 C 468.50 494.60 474.40 500.00 474.50 508.00 C 474.60 514.00 474.20 520.00 472.80 525.50 C 472.00 529.00 471.80 533.00 472.30 536.50 C 478.00 541.00 492.00 545.00 500.00 549.00 C 505.00 552.00 506.80 557.00 507.20 566.00 C 508.00 585.00 509.50 605.00 511.00 620.00 C 513.00 638.00 516.50 650.00 519.50 660.00 C 521.50 666.00 521.00 673.00 518.00 673.00 C 514.00 673.00 509.00 666.00 505.00 658.00 C 500.00 645.00 496.00 630.00 493.50 615.00 C 492.00 605.00 491.00 595.00 490.20 585.00 C 490.00 620.00 490.00 655.00 489.30 683.00 L 460.30 683.00 C 430.60 655.00 430.60 620.00 430.40 585.00 C 429.60 595.00 428.60 605.00 427.10 615.00 C 424.60 630.00 420.60 645.00 415.60 658.00 C 411.60 666.00 406.60 673.00 402.60 673.00 C 399.60 673.00 399.10 666.00 401.10 660.00 C 404.10 650.00 407.60 638.00 409.60 620.00 C 411.10 605.00 412.60 585.00 413.40 566.00 C 413.80 557.00 415.60 552.00 420.60 549.00 C 428.60 545.00 442.60 541.00 448.30 536.50 C 448.80 533.00 448.60 529.00 447.80 525.50 C 446.40 520.00 446.00 514.00 446.10 508.00 C 446.20 500.00 452.10 494.60 460.30 494.60 Z" fill="url(#skinA)" stroke="#e8d5cf" stroke-width="0.5"/>
<path d="M430.4 572 C430.6 600 430.4 625 430.0 645 C430.2 660 430.8 672 431.0 683 L489.6 683 C489.8 672 490.4 660 490.6 645 C490.2 625 490.0 600 490.2 572 Z" fill="url(#skinB)"/>
<path d="M430.4 578 C430.6 600 430.4 625 430.0 645 C430.2 660 430.8 672 431.0 683" fill="none" stroke="#dcc3bb" stroke-width="0.5"/>
<path d="M490.2 578 C490.0 600 490.2 625 490.6 645 C490.4 660 489.8 672 489.6 683" fill="none" stroke="#dcc3bb" stroke-width="0.5"/>
<defs><linearGradient id="face" x1="0" y1="0" x2="0" y2="1"><stop offset="0" stop-color="#efe2de"/><stop offset="0.6" stop-color="#ebdcd8"/><stop offset="1" stop-color="#e0d0cb"/></linearGradient></defs>
<ellipse cx="460.3" cy="516" rx="12.8" ry="13" fill="url(#face)"/>
<path d="M446 514 q-1.8 0 -1.6 3 q0.3 3 2 3.5 Z M474.6 514 q1.8 0 1.6 3 q-0.3 3 -2 3.5 Z" fill="#e3c9c1"/>
<path d="M448.0 511.5 C447.2 501 452 497.5 460.3 497.5 C468.6 497.5 473.4 501 472.6 511.5 C465 509.8 455.6 509.8 448.0 511.5 Z" fill="#e9b6a8" stroke="#f7efec" stroke-width="1.0"/>
<path d="M452 501 q2 2 0 4 q-1 2 1 4 M456 499.5 q2 3 0 6 q-1 2 1 3 M460.3 499 l0 9 M464.5 499.5 q-2 3 0 6 q1 2 -1 3 M468.6 501 q-2 2 0 4 q1 2 -1 4" fill="none" stroke="#d3988b" stroke-width="0.45"/>
<path d="M451.5 515.2 q3.5 1.4 7 0 M462 515.2 q3.5 1.4 7 0" fill="none" stroke="#c9b0a8" stroke-width="0.5"/>
<path d="M458.6 521.8 q1.7 1.2 3.4 0" fill="none" stroke="#d6b8b0" stroke-width="0.5"/>
<ellipse cx="459.8" cy="528.4" rx="3.3" ry="1.5" fill="#e6a9a0"/>
<path d="M454.8 530.0 L464.8 530.0 L463.6 534.2 L461.8 535 L457.8 535 L456.0 534.2 Z" fill="#d3786a" stroke="#b65c50" stroke-width="0.35"/>
<path d="M457.8 534.5 L458.1 561 L461.5 561 L461.8 534.5 Z" fill="#d27c6e" stroke="#b86458" stroke-width="0.35"/>
<path d="M449.3 544.1 C443 546.5 439 556 437.6 566 C436.8 575 437 582 437.8 586.9 C444 585.2 451.5 583.8 457.1 583.6 C457.4 576 457.2 566 456.8 557 C456.4 549 453.5 543.5 449.3 544.1 Z" fill="url(#lung)" stroke="#87507c" stroke-width="0.55"/>
<path d="M468.6 544.1 C474.5 545.5 479.5 553 481.5 563 C483 572 483.2 580 483.0 586.3 C477 585 470.5 583.2 465.8 582.2 C464.3 579.5 466.0 576 464.8 573 C463.4 570 462.8 565 462.8 558 C462.9 551 464.5 544.0 468.6 544.1 Z" fill="url(#lung)" stroke="#87507c" stroke-width="0.55"/>
<path d="M459.8 559 L456.4 566 M459.8 559 L463.5 566" stroke="#a05a68" stroke-width="0.9" fill="none"/>
<path d="M444.8 622 C444.5 612 444.5 600 445.2 593.5 C446 589.5 450 589 452.5 591.5 C457 596 467 597 473 594 C476 592.5 478 591.5 478.5 594 C479 603 478.6 612 478.2 619 C477.5 625 470 627 463 629" fill="none" stroke="#b07c72" stroke-width="8.4" stroke-linecap="round"/>
<path d="M444.8 622 C444.5 612 444.5 600 445.2 593.5 C446 589.5 450 589 452.5 591.5 C457 596 467 597 473 594 C476 592.5 478 591.5 478.5 594 C479 603 478.6 612 478.2 619 C477.5 625 470 627 463 629" fill="none" stroke="#d8a79c" stroke-width="7.3" stroke-linecap="round"/>
<path d="M455.5 593 C457.5 590 463 589.8 467 590.6 C470 589 473.5 587.5 476 588.8 C477.5 590.2 476 592.5 473.5 593.8 C469 596 461 596.8 457 596 C455 595.4 454.8 594.2 455.5 593 Z" fill="#e6a07c" stroke="#cf8a6c" stroke-width="0.4"/>
<path d="M457.5 642 L462 642 L460.5 652 L459.5 652 Z" fill="#dcc2bc"/>
<ellipse cx="459.5" cy="636.6" rx="8.4" ry="6.6" fill="#e0a896" stroke="#bf8574" stroke-width="0.5"/>
<ellipse cx="460.5" cy="637.5" rx="5" ry="3.2" fill="#e8b59f"/>
<path d="M458.5 610 q1.8 0.8 3.6 0" fill="none" stroke="#cfb0a8" stroke-width="0.5"/>
<path d="M460.3 652 L460.3 683" stroke="#e2d3cf" stroke-width="0.6"/>
<rect x="379.4" y="485.4" width="158.1" height="197.6" fill="none" stroke="#000" stroke-width="1.5"/>
<text x="381.9" y="495.4" font-size="6.9" font-weight="bold" fill="#9b1c1c">Log<tspan font-size="5.0" dy="1.3">2</tspan><tspan dy="-1.3">(TPM + 1)</tspan></text>
<text x="478.80" y="505.60" font-size="6.7" font-weight="bold" font-style="normal" text-anchor="start" fill="#111">Brain</text>
<text x="480.60" y="514.50" font-size="6.7" font-weight="bold" font-style="normal" text-anchor="start" fill="#9b1c1c">6.93</text>
<text x="410.70" y="532.90" font-size="6.7" font-weight="bold" font-style="normal" text-anchor="start" fill="#111">Esophagus</text>
<text x="422.30" y="540.90" font-size="6.7" font-weight="bold" font-style="normal" text-anchor="start" fill="#9b1c1c">8.28</text>
<text x="479.4" y="532.9" font-size="6.7" font-weight="bold" fill="#111" xml:space="preserve">Head &amp;  Neck</text>
<text x="494.00" y="540.90" font-size="6.7" font-weight="bold" font-style="normal" text-anchor="start" fill="#9b1c1c">9.83</text>
<text x="505.00" y="561.50" font-size="6.7" font-weight="bold" font-style="normal" text-anchor="start" fill="#111">Lung</text>
<text x="508.70" y="569.90" font-size="6.7" font-weight="bold" font-style="normal" text-anchor="start" fill="#9b1c1c">9.1</text>
<text x="385.00" y="587.20" font-size="6.7" font-weight="bold" font-style="normal" text-anchor="start" fill="#111">Kidney</text>
<text x="389.30" y="595.50" font-size="6.7" font-weight="bold" font-style="normal" text-anchor="start" fill="#9b1c1c">7.83</text>
<text x="506.70" y="591.50" font-size="6.7" font-weight="bold" font-style="normal" text-anchor="start" fill="#111">Pancreas</text>
<text x="515.00" y="599.90" font-size="6.7" font-weight="bold" font-style="normal" text-anchor="start" fill="#9b1c1c">7.05</text>
<text x="385.00" y="621.20" font-size="6.7" font-weight="bold" font-style="normal" text-anchor="start" fill="#111">Colon</text>
<text x="387.30" y="628.90" font-size="6.7" font-weight="bold" font-style="normal" text-anchor="start" fill="#9b1c1c">7.00</text>
<text x="500.00" y="647.20" font-size="6.7" font-weight="bold" font-style="normal" text-anchor="start" fill="#111">Bladder</text>
<text x="505.70" y="655.50" font-size="6.7" font-weight="bold" font-style="normal" text-anchor="start" fill="#9b1c1c">7.60</text>
</svg></body></html>
